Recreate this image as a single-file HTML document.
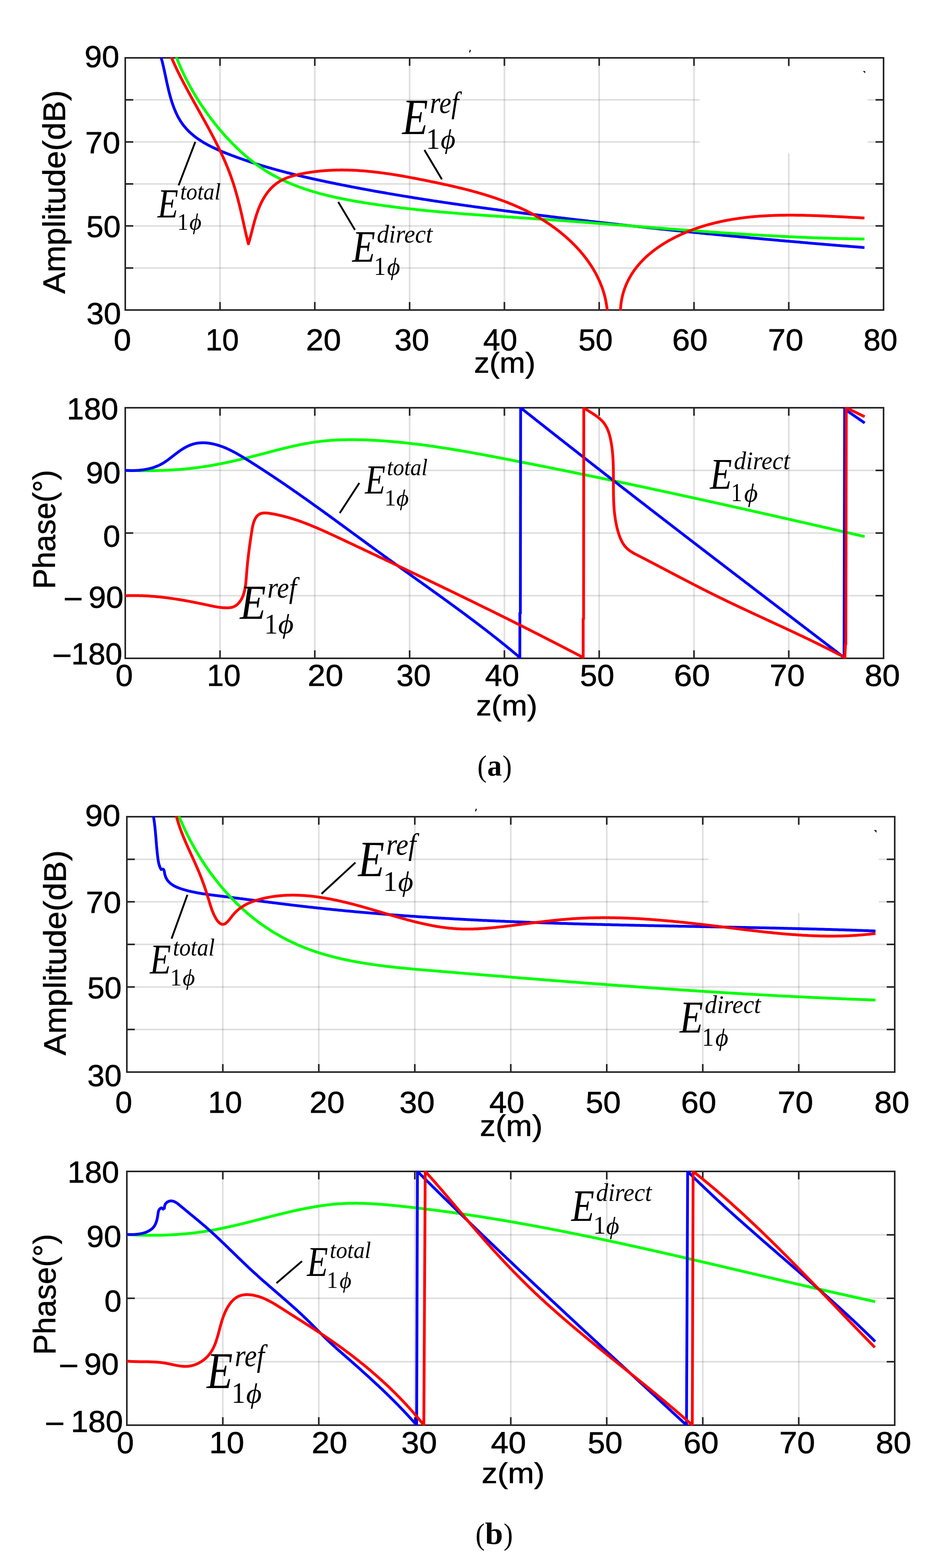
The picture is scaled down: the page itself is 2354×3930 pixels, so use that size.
<!DOCTYPE html>
<html><head><meta charset="utf-8"><title>Figure</title>
<style>html,body{margin:0;padding:0;background:#fff;}svg{display:block;}</style></head>
<body><svg xmlns="http://www.w3.org/2000/svg" width="2354" height="3930" viewBox="0 0 2354 3930">
<defs><clipPath id="c0"><rect x="314" y="144" width="1901" height="634"/></clipPath><clipPath id="c1"><rect x="314" y="1021" width="1901" height="630"/></clipPath><clipPath id="c2"><rect x="318" y="2046" width="1925" height="642"/></clipPath><clipPath id="c3"><rect x="318" y="2935" width="1925" height="638"/></clipPath></defs>
<rect width="2354" height="3930" fill="#fff"/>
<line x1="551.6" y1="145" x2="551.6" y2="777" stroke="#262626" stroke-opacity="0.15" stroke-width="4"/>
<line x1="789.2" y1="145" x2="789.2" y2="777" stroke="#262626" stroke-opacity="0.15" stroke-width="4"/>
<line x1="1026.9" y1="145" x2="1026.9" y2="777" stroke="#262626" stroke-opacity="0.15" stroke-width="4"/>
<line x1="1264.5" y1="145" x2="1264.5" y2="777" stroke="#262626" stroke-opacity="0.15" stroke-width="4"/>
<line x1="1502.1" y1="145" x2="1502.1" y2="777" stroke="#262626" stroke-opacity="0.15" stroke-width="4"/>
<line x1="1739.8" y1="145" x2="1739.8" y2="777" stroke="#262626" stroke-opacity="0.15" stroke-width="4"/>
<line x1="1977.4" y1="145" x2="1977.4" y2="777" stroke="#262626" stroke-opacity="0.15" stroke-width="4"/>
<line x1="314" y1="671.7" x2="2215" y2="671.7" stroke="#262626" stroke-opacity="0.15" stroke-width="4"/>
<line x1="314" y1="566.3" x2="2215" y2="566.3" stroke="#262626" stroke-opacity="0.15" stroke-width="4"/>
<line x1="314" y1="461.0" x2="2215" y2="461.0" stroke="#262626" stroke-opacity="0.15" stroke-width="4"/>
<line x1="314" y1="355.7" x2="2215" y2="355.7" stroke="#262626" stroke-opacity="0.15" stroke-width="4"/>
<line x1="314" y1="250.3" x2="2215" y2="250.3" stroke="#262626" stroke-opacity="0.15" stroke-width="4"/>
<line x1="551.6" y1="1022" x2="551.6" y2="1650" stroke="#262626" stroke-opacity="0.15" stroke-width="4"/>
<line x1="789.2" y1="1022" x2="789.2" y2="1650" stroke="#262626" stroke-opacity="0.15" stroke-width="4"/>
<line x1="1026.9" y1="1022" x2="1026.9" y2="1650" stroke="#262626" stroke-opacity="0.15" stroke-width="4"/>
<line x1="1264.5" y1="1022" x2="1264.5" y2="1650" stroke="#262626" stroke-opacity="0.15" stroke-width="4"/>
<line x1="1502.1" y1="1022" x2="1502.1" y2="1650" stroke="#262626" stroke-opacity="0.15" stroke-width="4"/>
<line x1="1739.8" y1="1022" x2="1739.8" y2="1650" stroke="#262626" stroke-opacity="0.15" stroke-width="4"/>
<line x1="1977.4" y1="1022" x2="1977.4" y2="1650" stroke="#262626" stroke-opacity="0.15" stroke-width="4"/>
<line x1="314" y1="1493.0" x2="2215" y2="1493.0" stroke="#262626" stroke-opacity="0.15" stroke-width="4"/>
<line x1="314" y1="1336.0" x2="2215" y2="1336.0" stroke="#262626" stroke-opacity="0.15" stroke-width="4"/>
<line x1="314" y1="1179.0" x2="2215" y2="1179.0" stroke="#262626" stroke-opacity="0.15" stroke-width="4"/>
<line x1="558.6" y1="2047" x2="558.6" y2="2687" stroke="#262626" stroke-opacity="0.15" stroke-width="4"/>
<line x1="799.2" y1="2047" x2="799.2" y2="2687" stroke="#262626" stroke-opacity="0.15" stroke-width="4"/>
<line x1="1039.9" y1="2047" x2="1039.9" y2="2687" stroke="#262626" stroke-opacity="0.15" stroke-width="4"/>
<line x1="1280.5" y1="2047" x2="1280.5" y2="2687" stroke="#262626" stroke-opacity="0.15" stroke-width="4"/>
<line x1="1521.1" y1="2047" x2="1521.1" y2="2687" stroke="#262626" stroke-opacity="0.15" stroke-width="4"/>
<line x1="1761.8" y1="2047" x2="1761.8" y2="2687" stroke="#262626" stroke-opacity="0.15" stroke-width="4"/>
<line x1="2002.4" y1="2047" x2="2002.4" y2="2687" stroke="#262626" stroke-opacity="0.15" stroke-width="4"/>
<line x1="318" y1="2580.3" x2="2243" y2="2580.3" stroke="#262626" stroke-opacity="0.15" stroke-width="4"/>
<line x1="318" y1="2473.7" x2="2243" y2="2473.7" stroke="#262626" stroke-opacity="0.15" stroke-width="4"/>
<line x1="318" y1="2367.0" x2="2243" y2="2367.0" stroke="#262626" stroke-opacity="0.15" stroke-width="4"/>
<line x1="318" y1="2260.3" x2="2243" y2="2260.3" stroke="#262626" stroke-opacity="0.15" stroke-width="4"/>
<line x1="318" y1="2153.7" x2="2243" y2="2153.7" stroke="#262626" stroke-opacity="0.15" stroke-width="4"/>
<line x1="558.6" y1="2936" x2="558.6" y2="3572" stroke="#262626" stroke-opacity="0.15" stroke-width="4"/>
<line x1="799.2" y1="2936" x2="799.2" y2="3572" stroke="#262626" stroke-opacity="0.15" stroke-width="4"/>
<line x1="1039.9" y1="2936" x2="1039.9" y2="3572" stroke="#262626" stroke-opacity="0.15" stroke-width="4"/>
<line x1="1280.5" y1="2936" x2="1280.5" y2="3572" stroke="#262626" stroke-opacity="0.15" stroke-width="4"/>
<line x1="1521.1" y1="2936" x2="1521.1" y2="3572" stroke="#262626" stroke-opacity="0.15" stroke-width="4"/>
<line x1="1761.8" y1="2936" x2="1761.8" y2="3572" stroke="#262626" stroke-opacity="0.15" stroke-width="4"/>
<line x1="2002.4" y1="2936" x2="2002.4" y2="3572" stroke="#262626" stroke-opacity="0.15" stroke-width="4"/>
<line x1="318" y1="3413.0" x2="2243" y2="3413.0" stroke="#262626" stroke-opacity="0.15" stroke-width="4"/>
<line x1="318" y1="3254.0" x2="2243" y2="3254.0" stroke="#262626" stroke-opacity="0.15" stroke-width="4"/>
<line x1="318" y1="3095.0" x2="2243" y2="3095.0" stroke="#262626" stroke-opacity="0.15" stroke-width="4"/>
<rect x="1754" y="168" width="421" height="216" fill="#fff"/>
<rect x="1776" y="2069" width="427" height="220" fill="#fff"/>
<path d="M1179.2,125 L1177,131.5" stroke="#000" stroke-width="2.6"/>
<path d="M1194.2,2027 L1192,2033.5" stroke="#000" stroke-width="2.6"/>
<path d="M2163,178 L2169,178 L2169,184 Z" fill="#1a1a1a"/>
<path d="M2190.6,2080.4 L2197.4,2080.4 L2197.4,2087.2 Z" fill="#1a1a1a"/>
<text transform="translate(211.93,168.15) scale(1.0267,1)" font-size="76.30" style="font-family:'Liberation Sans', Arial, sans-serif;stroke:#000;stroke-width:0.9px;">90</text>
<text transform="translate(213.45,384.25) scale(1.0362,1)" font-size="76.30" style="font-family:'Liberation Sans', Arial, sans-serif;stroke:#000;stroke-width:0.9px;">70</text>
<text transform="translate(216.51,594.15) scale(1.0123,1)" font-size="76.30" style="font-family:'Liberation Sans', Arial, sans-serif;stroke:#000;stroke-width:0.9px;">50</text>
<text transform="translate(216.63,812.35) scale(1.0230,1)" font-size="76.30" style="font-family:'Liberation Sans', Arial, sans-serif;stroke:#000;stroke-width:0.9px;">30</text>
<text transform="translate(284.94,878.25) scale(1.0281,1)" font-size="76.30" style="font-family:'Liberation Sans', Arial, sans-serif;stroke:#000;stroke-width:0.9px;">0</text>
<text transform="translate(515.27,878.25) scale(0.9859,1)" font-size="76.30" style="font-family:'Liberation Sans', Arial, sans-serif;stroke:#000;stroke-width:0.9px;">10</text>
<text transform="translate(767.02,878.25) scale(1.0378,1)" font-size="76.30" style="font-family:'Liberation Sans', Arial, sans-serif;stroke:#000;stroke-width:0.9px;">20</text>
<text transform="translate(989.02,878.25) scale(1.0255,1)" font-size="76.30" style="font-family:'Liberation Sans', Arial, sans-serif;stroke:#000;stroke-width:0.9px;">30</text>
<text transform="translate(1211.23,878.25) scale(1.0108,1)" font-size="76.30" style="font-family:'Liberation Sans', Arial, sans-serif;stroke:#000;stroke-width:0.9px;">40</text>
<text transform="translate(1449.90,878.25) scale(1.0148,1)" font-size="76.30" style="font-family:'Liberation Sans', Arial, sans-serif;stroke:#000;stroke-width:0.9px;">50</text>
<text transform="translate(1684.93,878.25) scale(1.0511,1)" font-size="76.30" style="font-family:'Liberation Sans', Arial, sans-serif;stroke:#000;stroke-width:0.9px;">60</text>
<text transform="translate(1924.89,878.25) scale(1.0516,1)" font-size="76.30" style="font-family:'Liberation Sans', Arial, sans-serif;stroke:#000;stroke-width:0.9px;">70</text>
<text transform="translate(2164.67,878.25) scale(1.0054,1)" font-size="76.30" style="font-family:'Liberation Sans', Arial, sans-serif;stroke:#000;stroke-width:0.9px;">80</text>
<text transform="translate(167.41,1050.95) scale(1.0134,1)" font-size="76.30" style="font-family:'Liberation Sans', Arial, sans-serif;stroke:#000;stroke-width:0.9px;">180</text>
<text transform="translate(215.13,1210.75) scale(1.0267,1)" font-size="76.30" style="font-family:'Liberation Sans', Arial, sans-serif;stroke:#000;stroke-width:0.9px;">90</text>
<text transform="translate(258.39,1369.55) scale(1.0090,1)" font-size="76.30" style="font-family:'Liberation Sans', Arial, sans-serif;stroke:#000;stroke-width:0.9px;">0</text>
<text transform="translate(221.91,1522.95) scale(1.0330,1)" font-size="76.30" style="font-family:'Liberation Sans', Arial, sans-serif;stroke:#000;stroke-width:0.9px;">90</text>
<text transform="translate(178.75,1664.85) scale(1.0058,1)" font-size="76.30" style="font-family:'Liberation Sans', Arial, sans-serif;stroke:#000;stroke-width:0.9px;">180</text>
<text transform="translate(158.65,1526.87) scale(1.1033,1)" font-size="76.30" style="font-family:'Liberation Sans', Arial, sans-serif;stroke:#000;stroke-width:0.9px;">−</text>
<text transform="translate(130.41,1669.37) scale(1.1141,1)" font-size="76.30" style="font-family:'Liberation Sans', Arial, sans-serif;stroke:#000;stroke-width:0.9px;">−</text>
<text transform="translate(289.65,1719.25) scale(1.0227,1)" font-size="76.30" style="font-family:'Liberation Sans', Arial, sans-serif;stroke:#000;stroke-width:0.9px;">0</text>
<text transform="translate(518.71,1719.25) scale(0.9964,1)" font-size="76.30" style="font-family:'Liberation Sans', Arial, sans-serif;stroke:#000;stroke-width:0.9px;">10</text>
<text transform="translate(771.37,1719.25) scale(1.0493,1)" font-size="76.30" style="font-family:'Liberation Sans', Arial, sans-serif;stroke:#000;stroke-width:0.9px;">20</text>
<text transform="translate(993.75,1719.25) scale(1.0167,1)" font-size="76.30" style="font-family:'Liberation Sans', Arial, sans-serif;stroke:#000;stroke-width:0.9px;">30</text>
<text transform="translate(1215.93,1719.25) scale(1.0095,1)" font-size="76.30" style="font-family:'Liberation Sans', Arial, sans-serif;stroke:#000;stroke-width:0.9px;">40</text>
<text transform="translate(1453.90,1719.25) scale(1.0148,1)" font-size="76.30" style="font-family:'Liberation Sans', Arial, sans-serif;stroke:#000;stroke-width:0.9px;">50</text>
<text transform="translate(1689.56,1719.25) scale(1.0678,1)" font-size="76.30" style="font-family:'Liberation Sans', Arial, sans-serif;stroke:#000;stroke-width:0.9px;">60</text>
<text transform="translate(1929.54,1719.25) scale(1.0375,1)" font-size="76.30" style="font-family:'Liberation Sans', Arial, sans-serif;stroke:#000;stroke-width:0.9px;">70</text>
<text transform="translate(2167.75,1719.25) scale(1.0411,1)" font-size="76.30" style="font-family:'Liberation Sans', Arial, sans-serif;stroke:#000;stroke-width:0.9px;">80</text>
<text transform="translate(213.26,2070.05) scale(1.0445,1)" font-size="76.30" style="font-family:'Liberation Sans', Arial, sans-serif;stroke:#000;stroke-width:0.9px;">90</text>
<text transform="translate(215.22,2287.95) scale(1.0426,1)" font-size="76.30" style="font-family:'Liberation Sans', Arial, sans-serif;stroke:#000;stroke-width:0.9px;">70</text>
<text transform="translate(219.11,2501.65) scale(1.0123,1)" font-size="76.30" style="font-family:'Liberation Sans', Arial, sans-serif;stroke:#000;stroke-width:0.9px;">50</text>
<text transform="translate(218.95,2721.85) scale(1.0141,1)" font-size="76.30" style="font-family:'Liberation Sans', Arial, sans-serif;stroke:#000;stroke-width:0.9px;">30</text>
<text transform="translate(289.03,2789.05) scale(0.9980,1)" font-size="76.30" style="font-family:'Liberation Sans', Arial, sans-serif;stroke:#000;stroke-width:0.9px;">0</text>
<text transform="translate(521.44,2789.05) scale(1.0082,1)" font-size="76.30" style="font-family:'Liberation Sans', Arial, sans-serif;stroke:#000;stroke-width:0.9px;">10</text>
<text transform="translate(776.02,2789.05) scale(1.0378,1)" font-size="76.30" style="font-family:'Liberation Sans', Arial, sans-serif;stroke:#000;stroke-width:0.9px;">20</text>
<text transform="translate(1001.27,2789.05) scale(1.0433,1)" font-size="76.30" style="font-family:'Liberation Sans', Arial, sans-serif;stroke:#000;stroke-width:0.9px;">30</text>
<text transform="translate(1226.38,2789.05) scale(1.0382,1)" font-size="76.30" style="font-family:'Liberation Sans', Arial, sans-serif;stroke:#000;stroke-width:0.9px;">40</text>
<text transform="translate(1468.13,2789.05) scale(1.0389,1)" font-size="76.30" style="font-family:'Liberation Sans', Arial, sans-serif;stroke:#000;stroke-width:0.9px;">50</text>
<text transform="translate(1707.27,2789.05) scale(1.0396,1)" font-size="76.30" style="font-family:'Liberation Sans', Arial, sans-serif;stroke:#000;stroke-width:0.9px;">60</text>
<text transform="translate(1949.49,2789.05) scale(1.0503,1)" font-size="76.30" style="font-family:'Liberation Sans', Arial, sans-serif;stroke:#000;stroke-width:0.9px;">70</text>
<text transform="translate(2192.07,2789.05) scale(1.0334,1)" font-size="76.30" style="font-family:'Liberation Sans', Arial, sans-serif;stroke:#000;stroke-width:0.9px;">80</text>
<text transform="translate(169.18,2963.75) scale(1.0185,1)" font-size="76.30" style="font-family:'Liberation Sans', Arial, sans-serif;stroke:#000;stroke-width:0.9px;">180</text>
<text transform="translate(216.71,3125.05) scale(1.0305,1)" font-size="76.30" style="font-family:'Liberation Sans', Arial, sans-serif;stroke:#000;stroke-width:0.9px;">90</text>
<text transform="translate(261.69,3287.25) scale(1.0090,1)" font-size="76.30" style="font-family:'Liberation Sans', Arial, sans-serif;stroke:#000;stroke-width:0.9px;">0</text>
<text transform="translate(211.04,3444.55) scale(1.0241,1)" font-size="76.30" style="font-family:'Liberation Sans', Arial, sans-serif;stroke:#000;stroke-width:0.9px;">90</text>
<text transform="translate(177.63,3588.85) scale(1.0269,1)" font-size="76.30" style="font-family:'Liberation Sans', Arial, sans-serif;stroke:#000;stroke-width:0.9px;">180</text>
<text transform="translate(146.74,3448.57) scale(1.1330,1)" font-size="76.30" style="font-family:'Liberation Sans', Arial, sans-serif;stroke:#000;stroke-width:0.9px;">−</text>
<text transform="translate(111.73,3593.57) scale(1.1357,1)" font-size="76.30" style="font-family:'Liberation Sans', Arial, sans-serif;stroke:#000;stroke-width:0.9px;">−</text>
<text transform="translate(292.79,3641.55) scale(1.0090,1)" font-size="76.30" style="font-family:'Liberation Sans', Arial, sans-serif;stroke:#000;stroke-width:0.9px;">0</text>
<text transform="translate(524.38,3641.55) scale(1.0358,1)" font-size="76.30" style="font-family:'Liberation Sans', Arial, sans-serif;stroke:#000;stroke-width:0.9px;">10</text>
<text transform="translate(781.25,3641.55) scale(1.0544,1)" font-size="76.30" style="font-family:'Liberation Sans', Arial, sans-serif;stroke:#000;stroke-width:0.9px;">20</text>
<text transform="translate(1006.04,3641.55) scale(1.0547,1)" font-size="76.30" style="font-family:'Liberation Sans', Arial, sans-serif;stroke:#000;stroke-width:0.9px;">30</text>
<text transform="translate(1230.78,3641.55) scale(1.0382,1)" font-size="76.30" style="font-family:'Liberation Sans', Arial, sans-serif;stroke:#000;stroke-width:0.9px;">40</text>
<text transform="translate(1473.36,3641.55) scale(1.0288,1)" font-size="76.30" style="font-family:'Liberation Sans', Arial, sans-serif;stroke:#000;stroke-width:0.9px;">50</text>
<text transform="translate(1713.48,3641.55) scale(1.0383,1)" font-size="76.30" style="font-family:'Liberation Sans', Arial, sans-serif;stroke:#000;stroke-width:0.9px;">60</text>
<text transform="translate(1953.67,3641.55) scale(1.0554,1)" font-size="76.30" style="font-family:'Liberation Sans', Arial, sans-serif;stroke:#000;stroke-width:0.9px;">70</text>
<text transform="translate(2195.53,3641.55) scale(1.0474,1)" font-size="76.30" style="font-family:'Liberation Sans', Arial, sans-serif;stroke:#000;stroke-width:0.9px;">80</text>
<text transform="translate(1188.48,934.11) scale(1.0705,1)" font-size="71.92" style="font-family:'Liberation Sans', Arial, sans-serif;stroke:#000;stroke-width:0.9px;">z(m)</text>
<text transform="translate(1193.69,1793.42) scale(1.0612,1)" font-size="72.35" style="font-family:'Liberation Sans', Arial, sans-serif;stroke:#000;stroke-width:0.9px;">z(m)</text>
<text transform="translate(1203.12,2846.64) scale(1.0586,1)" font-size="74.17" style="font-family:'Liberation Sans', Arial, sans-serif;stroke:#000;stroke-width:0.9px;">z(m)</text>
<text transform="translate(1207.50,3716.61) scale(1.0838,1)" font-size="72.88" style="font-family:'Liberation Sans', Arial, sans-serif;stroke:#000;stroke-width:0.9px;">z(m)</text>
<text transform="translate(163.00,736.16) rotate(-90) scale(1.0389,1)" font-size="77.50" style="font-family:'Liberation Sans', Arial, sans-serif;stroke:#000;stroke-width:0.9px;">Amplitude(dB)</text>
<text transform="translate(138.20,1476.28) rotate(-90) scale(0.9941,1)" font-size="77.00" style="font-family:'Liberation Sans', Arial, sans-serif;stroke:#000;stroke-width:0.9px;">Phase(°)</text>
<text transform="translate(165.00,2645.16) rotate(-90) scale(1.0472,1)" font-size="77.50" style="font-family:'Liberation Sans', Arial, sans-serif;stroke:#000;stroke-width:0.9px;">Amplitude(dB)</text>
<text transform="translate(139.20,3395.98) rotate(-90) scale(1.0096,1)" font-size="77.00" style="font-family:'Liberation Sans', Arial, sans-serif;stroke:#000;stroke-width:0.9px;">Phase(°)</text>
<path d="M551.6,145 V165 M551.6,777 V757 M789.2,145 V165 M789.2,777 V757 M1026.9,145 V165 M1026.9,777 V757 M1264.5,145 V165 M1264.5,777 V757 M1502.1,145 V165 M1502.1,777 V757 M1739.8,145 V165 M1739.8,777 V757 M1977.4,145 V165 M1977.4,777 V757 M314,671.7 H334 M2215,671.7 H2195 M314,566.3 H334 M2215,566.3 H2195 M314,461.0 H334 M2215,461.0 H2195 M314,355.7 H334 M2215,355.7 H2195 M314,250.3 H334 M2215,250.3 H2195" stroke="#262626" stroke-width="4" fill="none"/>
<rect x="314" y="145" width="1901" height="632" fill="none" stroke="#262626" stroke-width="4"/>
<path d="M551.6,1022 V1042 M551.6,1650 V1630 M789.2,1022 V1042 M789.2,1650 V1630 M1026.9,1022 V1042 M1026.9,1650 V1630 M1264.5,1022 V1042 M1264.5,1650 V1630 M1502.1,1022 V1042 M1502.1,1650 V1630 M1739.8,1022 V1042 M1739.8,1650 V1630 M1977.4,1022 V1042 M1977.4,1650 V1630 M314,1493.0 H334 M2215,1493.0 H2195 M314,1336.0 H334 M2215,1336.0 H2195 M314,1179.0 H334 M2215,1179.0 H2195" stroke="#262626" stroke-width="4" fill="none"/>
<rect x="314" y="1022" width="1901" height="628" fill="none" stroke="#262626" stroke-width="4"/>
<path d="M558.6,2047 V2067 M558.6,2687 V2667 M799.2,2047 V2067 M799.2,2687 V2667 M1039.9,2047 V2067 M1039.9,2687 V2667 M1280.5,2047 V2067 M1280.5,2687 V2667 M1521.1,2047 V2067 M1521.1,2687 V2667 M1761.8,2047 V2067 M1761.8,2687 V2667 M2002.4,2047 V2067 M2002.4,2687 V2667 M318,2580.3 H338 M2243,2580.3 H2223 M318,2473.7 H338 M2243,2473.7 H2223 M318,2367.0 H338 M2243,2367.0 H2223 M318,2260.3 H338 M2243,2260.3 H2223 M318,2153.7 H338 M2243,2153.7 H2223" stroke="#262626" stroke-width="4" fill="none"/>
<rect x="318" y="2047" width="1925" height="640" fill="none" stroke="#262626" stroke-width="4"/>
<path d="M558.6,2936 V2956 M558.6,3572 V3552 M799.2,2936 V2956 M799.2,3572 V3552 M1039.9,2936 V2956 M1039.9,3572 V3552 M1280.5,2936 V2956 M1280.5,3572 V3552 M1521.1,2936 V2956 M1521.1,3572 V3552 M1761.8,2936 V2956 M1761.8,3572 V3552 M2002.4,2936 V2956 M2002.4,3572 V3552 M318,3413.0 H338 M2243,3413.0 H2223 M318,3254.0 H338 M2243,3254.0 H2223 M318,3095.0 H338 M2243,3095.0 H2223" stroke="#262626" stroke-width="4" fill="none"/>
<rect x="318" y="2936" width="1925" height="636" fill="none" stroke="#262626" stroke-width="4"/>
<path d="M402.6,140.0 L403.4,142.6 L404.2,145.3 L404.9,147.9 L405.6,150.6 L406.4,153.4 L407.1,156.1 L407.8,158.9 L408.4,161.7 L409.1,164.6 L409.8,167.4 L410.4,170.3 L411.1,173.2 L411.7,176.1 L412.4,179.1 L413.0,182.0 L413.6,185.0 L414.3,188.0 L414.9,191.0 L415.6,194.0 L416.2,197.1 L416.9,200.1 L417.5,203.1 L418.2,206.2 L418.8,209.3 L419.5,212.3 L420.2,215.4 L420.9,218.5 L421.7,221.5 L422.4,224.6 L423.1,227.7 L423.9,230.8 L424.7,233.8 L425.5,236.9 L426.3,240.0 L427.2,243.0 L428.0,246.1 L428.9,249.1 L429.9,252.1 L430.8,255.1 L431.8,258.1 L432.8,261.1 L433.8,264.0 L434.9,267.0 L436.0,269.9 L437.1,272.8 L438.3,275.7 L439.5,278.5 L440.7,281.3 L442.0,284.1 L443.3,286.9 L444.6,289.6 L446.0,292.3 L447.4,294.9 L448.9,297.5 L450.4,300.1 L451.9,302.6 L453.5,305.1 L455.2,307.5 L456.8,309.9 L458.6,312.3 L460.3,314.6 L462.1,316.8 L464.0,319.1 L465.9,321.2 L467.8,323.4 L469.8,325.5 L471.8,327.5 L473.8,329.6 L475.9,331.6 L478.0,333.5 L480.2,335.4 L482.4,337.3 L484.6,339.1 L486.8,341.0 L489.1,342.7 L491.4,344.5 L493.7,346.2 L496.1,347.9 L498.5,349.5 L500.9,351.2 L503.4,352.8 L505.8,354.3 L508.3,355.9 L510.8,357.4 L513.4,358.9 L515.9,360.3 L518.5,361.8 L521.1,363.2 L523.8,364.6 L526.4,365.9 L529.1,367.3 L531.7,368.6 L534.4,369.9 L537.1,371.2 L539.9,372.5 L542.6,373.7 L545.3,375.0 L548.1,376.2 L550.9,377.4 L553.6,378.6 L556.4,379.7 L559.2,380.9 L562.0,382.0 L564.8,383.2 L567.7,384.3 L570.5,385.4 L573.3,386.5 L576.1,387.6 L579.0,388.7 L581.8,389.7 L584.7,390.8 L587.5,391.8 L590.3,392.9 L593.2,393.9 L596.0,395.0 L598.9,396.0 L601.7,397.0 L604.6,398.0 L607.4,399.0 L610.3,400.0 L613.1,401.0 L616.0,402.0 L618.8,402.9 L621.7,403.9 L624.6,404.9 L627.4,405.8 L630.3,406.8 L633.2,407.7 L636.0,408.6 L638.9,409.5 L641.8,410.5 L644.7,411.4 L647.5,412.3 L650.4,413.2 L653.3,414.0 L656.2,414.9 L659.1,415.8 L661.9,416.7 L664.8,417.5 L667.7,418.4 L670.6,419.2 L673.5,420.1 L676.4,420.9 L679.3,421.7 L682.2,422.6 L685.1,423.4 L688.0,424.2 L690.9,425.0 L693.8,425.8 L696.7,426.6 L699.6,427.4 L702.5,428.2 L705.4,428.9 L708.3,429.7 L711.2,430.5 L714.1,431.2 L717.0,432.0 L719.9,432.8 L722.8,433.5 L725.8,434.2 L728.7,435.0 L731.6,435.7 L734.5,436.4 L737.4,437.2 L740.3,437.9 L743.3,438.6 L746.2,439.3 L749.1,440.0 L752.0,440.7 L755.0,441.4 L757.9,442.1 L760.8,442.8 L763.7,443.5 L766.7,444.2 L769.6,444.8 L772.5,445.5 L775.5,446.2 L778.4,446.8 L781.3,447.5 L784.3,448.2 L787.2,448.8 L790.1,449.5 L793.1,450.1 L796.0,450.7 L798.9,451.4 L801.9,452.0 L804.8,452.7 L807.7,453.3 L810.7,453.9 L813.6,454.5 L816.6,455.2 L819.5,455.8 L822.4,456.4 L825.4,457.0 L828.3,457.6 L831.3,458.2 L834.2,458.8 L837.2,459.4 L840.1,460.0 L843.1,460.6 L846.0,461.2 L848.9,461.8 L851.9,462.4 L854.8,463.0 L857.8,463.6 L860.7,464.1 L863.7,464.7 L866.6,465.3 L869.6,465.9 L872.5,466.5 L875.5,467.0 L878.4,467.6 L881.4,468.2 L884.3,468.7 L887.3,469.3 L890.2,469.9 L893.2,470.4 L896.1,471.0 L899.1,471.5 L902.0,472.1 L905.0,472.7 L907.9,473.2 L910.9,473.8 L913.8,474.3 L916.8,474.9 L919.8,475.4 L922.7,475.9 L925.7,476.5 L928.6,477.0 L931.6,477.6 L934.5,478.1 L937.5,478.6 L940.4,479.2 L943.4,479.7 L946.4,480.2 L949.3,480.7 L952.3,481.3 L955.2,481.8 L958.2,482.3 L961.2,482.8 L964.1,483.3 L967.1,483.8 L970.0,484.4 L973.0,484.9 L976.0,485.4 L978.9,485.9 L981.9,486.4 L984.8,486.9 L987.8,487.4 L990.8,487.9 L993.7,488.4 L996.7,488.9 L999.7,489.4 L1002.6,489.9 L1005.6,490.4 L1008.5,490.9 L1011.5,491.4 L1014.5,491.9 L1017.4,492.3 L1020.4,492.8 L1023.4,493.3 L1026.3,493.8 L1029.3,494.3 L1032.3,494.7 L1035.2,495.2 L1038.2,495.7 L1041.2,496.2 L1044.1,496.6 L1047.1,497.1 L1050.1,497.6 L1053.0,498.1 L1056.0,498.5 L1059.0,499.0 L1061.9,499.5 L1064.9,499.9 L1067.9,500.4 L1070.8,500.8 L1073.8,501.3 L1076.8,501.7 L1079.7,502.2 L1082.7,502.7 L1085.7,503.1 L1088.7,503.6 L1091.6,504.0 L1094.6,504.5 L1097.6,504.9 L1100.5,505.4 L1103.5,505.8 L1106.5,506.2 L1109.5,506.7 L1112.4,507.1 L1115.4,507.6 L1118.4,508.0 L1121.3,508.4 L1124.3,508.9 L1127.3,509.3 L1130.3,509.7 L1133.2,510.2 L1136.2,510.6 L1139.2,511.0 L1142.2,511.5 L1145.1,511.9 L1148.1,512.3 L1151.1,512.8 L1154.1,513.2 L1157.0,513.6 L1160.0,514.0 L1163.0,514.4 L1166.0,514.9 L1168.9,515.3 L1171.9,515.7 L1174.9,516.1 L1177.9,516.5 L1180.8,516.9 L1183.8,517.4 L1186.8,517.8 L1189.8,518.2 L1192.7,518.6 L1195.7,519.0 L1198.7,519.4 L1201.7,519.8 L1204.7,520.2 L1207.6,520.6 L1210.6,521.0 L1213.6,521.4 L1216.6,521.8 L1219.5,522.2 L1222.5,522.6 L1225.5,523.0 L1228.5,523.4 L1231.5,523.8 L1234.4,524.2 L1237.4,524.6 L1240.4,525.0 L1243.4,525.4 L1246.4,525.8 L1249.3,526.2 L1252.3,526.6 L1255.3,527.0 L1258.3,527.4 L1261.3,527.8 L1264.2,528.2 L1267.2,528.6 L1270.2,529.0 L1273.2,529.3 L1276.2,529.7 L1279.1,530.1 L1282.1,530.5 L1285.1,530.9 L1288.1,531.3 L1291.1,531.7 L1294.0,532.0 L1297.0,532.4 L1300.0,532.8 L1303.0,533.2 L1306.0,533.6 L1308.9,533.9 L1311.9,534.3 L1314.9,534.7 L1317.9,535.1 L1320.9,535.4 L1323.9,535.8 L1326.8,536.2 L1329.8,536.6 L1332.8,536.9 L1335.8,537.3 L1338.8,537.7 L1341.7,538.1 L1344.7,538.4 L1347.7,538.8 L1350.7,539.2 L1353.7,539.5 L1356.7,539.9 L1359.6,540.3 L1362.6,540.7 L1365.6,541.0 L1368.6,541.4 L1371.6,541.8 L1374.6,542.1 L1377.5,542.5 L1380.5,542.9 L1383.5,543.2 L1386.5,543.6 L1389.5,543.9 L1392.5,544.3 L1395.4,544.7 L1398.4,545.0 L1401.4,545.4 L1404.4,545.7 L1407.4,546.1 L1410.4,546.5 L1413.4,546.8 L1416.3,547.2 L1419.3,547.5 L1422.3,547.9 L1425.3,548.2 L1428.3,548.6 L1431.3,549.0 L1434.2,549.3 L1437.2,549.7 L1440.2,550.0 L1443.2,550.4 L1446.2,550.7 L1449.2,551.1 L1452.2,551.4 L1455.1,551.8 L1458.1,552.1 L1461.1,552.5 L1464.1,552.8 L1467.1,553.2 L1470.1,553.5 L1473.1,553.8 L1476.0,554.2 L1479.0,554.5 L1482.0,554.9 L1485.0,555.2 L1488.0,555.6 L1491.0,555.9 L1494.0,556.2 L1496.9,556.6 L1499.9,556.9 L1502.9,557.3 L1505.9,557.6 L1508.9,557.9 L1511.9,558.3 L1514.9,558.6 L1517.8,559.0 L1520.8,559.3 L1523.8,559.6 L1526.8,560.0 L1529.8,560.3 L1532.8,560.6 L1535.8,561.0 L1538.8,561.3 L1541.7,561.6 L1544.7,562.0 L1547.7,562.3 L1550.7,562.6 L1553.7,563.0 L1556.7,563.3 L1559.7,563.6 L1562.7,564.0 L1565.6,564.3 L1568.6,564.6 L1571.6,564.9 L1574.6,565.3 L1577.6,565.6 L1580.6,565.9 L1583.6,566.2 L1586.6,566.6 L1589.5,566.9 L1592.5,567.2 L1595.5,567.5 L1598.5,567.9 L1601.5,568.2 L1604.5,568.5 L1607.5,568.8 L1610.5,569.1 L1613.5,569.5 L1616.4,569.8 L1619.4,570.1 L1622.4,570.4 L1625.4,570.7 L1628.4,571.0 L1631.4,571.4 L1634.4,571.7 L1637.4,572.0 L1640.4,572.3 L1643.3,572.6 L1646.3,572.9 L1649.3,573.3 L1652.3,573.6 L1655.3,573.9 L1658.3,574.2 L1661.3,574.5 L1664.3,574.8 L1667.3,575.1 L1670.2,575.4 L1673.2,575.7 L1676.2,576.0 L1679.2,576.4 L1682.2,576.7 L1685.2,577.0 L1688.2,577.3 L1691.2,577.6 L1694.2,577.9 L1697.2,578.2 L1700.2,578.5 L1703.1,578.8 L1706.1,579.1 L1709.1,579.4 L1712.1,579.7 L1715.1,580.0 L1718.1,580.3 L1721.1,580.6 L1724.1,580.9 L1727.1,581.2 L1730.1,581.5 L1733.0,581.8 L1736.0,582.1 L1739.0,582.4 L1742.0,582.7 L1745.0,583.0 L1748.0,583.3 L1751.0,583.6 L1754.0,583.9 L1757.0,584.2 L1760.0,584.5 L1763.0,584.8 L1765.9,585.1 L1768.9,585.4 L1771.9,585.7 L1774.9,586.0 L1777.9,586.2 L1780.9,586.5 L1783.9,586.8 L1786.9,587.1 L1789.9,587.4 L1792.9,587.7 L1795.9,588.0 L1798.9,588.3 L1801.8,588.6 L1804.8,588.8 L1807.8,589.1 L1810.8,589.4 L1813.8,589.7 L1816.8,590.0 L1819.8,590.3 L1822.8,590.6 L1825.8,590.8 L1828.8,591.1 L1831.8,591.4 L1834.8,591.7 L1837.8,592.0 L1840.7,592.3 L1843.7,592.5 L1846.7,592.8 L1849.7,593.1 L1852.7,593.4 L1855.7,593.7 L1858.7,593.9 L1861.7,594.2 L1864.7,594.5 L1867.7,594.8 L1870.7,595.1 L1873.7,595.3 L1876.7,595.6 L1879.7,595.9 L1882.6,596.2 L1885.6,596.4 L1888.6,596.7 L1891.6,597.0 L1894.6,597.3 L1897.6,597.5 L1900.6,597.8 L1903.6,598.1 L1906.6,598.4 L1909.6,598.6 L1912.6,598.9 L1915.6,599.2 L1918.6,599.4 L1921.6,599.7 L1924.5,600.0 L1927.5,600.2 L1930.5,600.5 L1933.5,600.8 L1936.5,601.1 L1939.5,601.3 L1942.5,601.6 L1945.5,601.9 L1948.5,602.1 L1951.5,602.4 L1954.5,602.7 L1957.5,602.9 L1960.5,603.2 L1963.5,603.4 L1966.5,603.7 L1969.5,604.0 L1972.4,604.2 L1975.4,604.5 L1978.4,604.8 L1981.4,605.0 L1984.4,605.3 L1987.4,605.5 L1990.4,605.8 L1993.4,606.1 L1996.4,606.3 L1999.4,606.6 L2002.4,606.8 L2005.4,607.1 L2008.4,607.4 L2011.4,607.6 L2014.4,607.9 L2017.4,608.1 L2020.4,608.4 L2023.3,608.6 L2026.3,608.9 L2029.3,609.2 L2032.3,609.4 L2035.3,609.7 L2038.3,609.9 L2041.3,610.2 L2044.3,610.4 L2047.3,610.7 L2050.3,610.9 L2053.3,611.2 L2056.3,611.4 L2059.3,611.7 L2062.3,611.9 L2065.3,612.2 L2068.3,612.4 L2071.3,612.7 L2074.3,612.9 L2077.3,613.2 L2080.2,613.4 L2083.2,613.7 L2086.2,613.9 L2089.2,614.2 L2092.2,614.4 L2095.2,614.7 L2098.2,614.9 L2101.2,615.2 L2104.2,615.4 L2107.2,615.7 L2110.2,615.9 L2113.2,616.2 L2116.2,616.4 L2119.2,616.6 L2122.2,616.9 L2125.2,617.1 L2128.2,617.4 L2131.2,617.6 L2134.2,617.9 L2137.1,618.1 L2140.1,618.3 L2143.1,618.6 L2146.1,618.8 L2149.1,619.1 L2152.1,619.3 L2155.1,619.5 L2158.1,619.8 L2161.1,620.0 L2164.1,620.3 L2167.1,620.5" fill="none" stroke="#0000ff" stroke-width="7" stroke-linejoin="round" stroke-linecap="butt" clip-path="url(#c0)"/>
<path d="M440.9,140.0 L442.0,142.8 L443.0,145.5 L444.1,148.3 L445.2,151.1 L446.4,153.8 L447.5,156.6 L448.7,159.3 L449.8,162.0 L451.0,164.8 L452.2,167.5 L453.4,170.2 L454.6,172.9 L455.8,175.6 L457.1,178.3 L458.3,181.0 L459.6,183.7 L460.9,186.4 L462.2,189.1 L463.5,191.8 L464.8,194.5 L466.2,197.1 L467.5,199.8 L468.9,202.4 L470.3,205.1 L471.7,207.7 L473.1,210.4 L474.5,213.0 L475.9,215.6 L477.3,218.2 L478.8,220.9 L480.3,223.5 L481.8,226.1 L483.2,228.7 L484.8,231.2 L486.3,233.8 L487.8,236.4 L489.3,239.0 L490.9,241.5 L492.5,244.1 L494.1,246.7 L495.6,249.2 L497.3,251.7 L498.9,254.3 L500.5,256.8 L502.2,259.3 L503.8,261.8 L505.5,264.4 L507.2,266.9 L508.8,269.4 L510.6,271.8 L512.3,274.3 L514.0,276.8 L515.7,279.3 L517.5,281.7 L519.3,284.2 L521.0,286.6 L522.8,289.1 L524.6,291.5 L526.4,293.9 L528.3,296.4 L530.1,298.8 L531.9,301.2 L533.8,303.6 L535.7,306.0 L537.6,308.4 L539.5,310.8 L541.4,313.1 L543.3,315.5 L545.2,317.9 L547.1,320.2 L549.1,322.6 L551.1,324.9 L553.0,327.2 L555.0,329.5 L557.0,331.9 L559.0,334.2 L561.0,336.5 L563.1,338.7 L565.1,341.0 L567.2,343.3 L569.2,345.5 L571.3,347.8 L573.4,350.0 L575.5,352.2 L577.6,354.5 L579.7,356.7 L581.8,358.8 L584.0,361.0 L586.1,363.2 L588.3,365.3 L590.5,367.5 L592.7,369.6 L594.9,371.7 L597.1,373.8 L599.3,375.9 L601.5,378.0 L603.7,380.1 L606.0,382.1 L608.3,384.1 L610.5,386.1 L612.8,388.1 L615.1,390.1 L617.4,392.1 L619.7,394.0 L622.0,396.0 L624.4,397.9 L626.7,399.8 L629.1,401.7 L631.5,403.6 L633.8,405.4 L636.2,407.2 L638.6,409.1 L641.0,410.9 L643.5,412.6 L645.9,414.4 L648.3,416.1 L650.8,417.9 L653.2,419.6 L655.7,421.2 L658.2,422.9 L660.7,424.5 L663.2,426.2 L665.7,427.8 L668.2,429.3 L670.8,430.9 L673.3,432.4 L675.9,433.9 L678.4,435.4 L681.0,436.9 L683.6,438.4 L686.2,439.8 L688.8,441.2 L691.4,442.6 L694.0,444.0 L696.7,445.4 L699.3,446.7 L701.9,448.0 L704.6,449.3 L707.3,450.6 L709.9,451.9 L712.6,453.2 L715.3,454.4 L718.0,455.6 L720.7,456.8 L723.4,458.0 L726.1,459.2 L728.9,460.3 L731.6,461.5 L734.4,462.6 L737.1,463.7 L739.9,464.8 L742.6,465.8 L745.4,466.9 L748.2,467.9 L751.0,469.0 L753.8,470.0 L756.6,471.0 L759.4,472.0 L762.2,472.9 L765.0,473.9 L767.8,474.8 L770.6,475.7 L773.5,476.7 L776.3,477.6 L779.2,478.4 L782.0,479.3 L784.9,480.2 L787.7,481.0 L790.6,481.9 L793.5,482.7 L796.4,483.5 L799.2,484.3 L802.1,485.1 L805.0,485.9 L807.9,486.6 L810.8,487.4 L813.7,488.1 L816.6,488.8 L819.5,489.6 L822.5,490.3 L825.4,491.0 L828.3,491.7 L831.2,492.4 L834.2,493.0 L837.1,493.7 L840.0,494.3 L843.0,495.0 L845.9,495.6 L848.9,496.2 L851.8,496.9 L854.8,497.5 L857.7,498.1 L860.7,498.7 L863.6,499.2 L866.6,499.8 L869.6,500.4 L872.5,501.0 L875.5,501.5 L878.5,502.1 L881.4,502.6 L884.4,503.1 L887.4,503.7 L890.4,504.2 L893.3,504.7 L896.3,505.2 L899.3,505.7 L902.3,506.2 L905.3,506.7 L908.2,507.2 L911.2,507.7 L914.2,508.2 L917.2,508.6 L920.2,509.1 L923.1,509.6 L926.1,510.0 L929.1,510.5 L932.1,511.0 L935.1,511.4 L938.1,511.8 L941.0,512.3 L944.0,512.7 L947.0,513.2 L950.0,513.6 L953.0,514.0 L956.0,514.4 L959.0,514.9 L961.9,515.3 L964.9,515.7 L967.9,516.1 L970.9,516.5 L973.9,516.9 L976.9,517.3 L979.9,517.7 L982.8,518.1 L985.8,518.4 L988.8,518.8 L991.8,519.2 L994.8,519.6 L997.8,519.9 L1000.8,520.3 L1003.8,520.7 L1006.7,521.0 L1009.7,521.4 L1012.7,521.7 L1015.7,522.1 L1018.7,522.4 L1021.7,522.8 L1024.7,523.1 L1027.7,523.5 L1030.7,523.8 L1033.6,524.1 L1036.6,524.4 L1039.6,524.8 L1042.6,525.1 L1045.6,525.4 L1048.6,525.7 L1051.6,526.0 L1054.6,526.4 L1057.6,526.7 L1060.6,527.0 L1063.5,527.3 L1066.5,527.6 L1069.5,527.9 L1072.5,528.2 L1075.5,528.4 L1078.5,528.7 L1081.5,529.0 L1084.5,529.3 L1087.5,529.6 L1090.5,529.9 L1093.5,530.1 L1096.5,530.4 L1099.5,530.7 L1102.4,531.0 L1105.4,531.2 L1108.4,531.5 L1111.4,531.8 L1114.4,532.0 L1117.4,532.3 L1120.4,532.5 L1123.4,532.8 L1126.4,533.0 L1129.4,533.3 L1132.4,533.5 L1135.4,533.8 L1138.4,534.0 L1141.4,534.3 L1144.4,534.5 L1147.4,534.8 L1150.4,535.0 L1153.3,535.2 L1156.3,535.5 L1159.3,535.7 L1162.3,535.9 L1165.3,536.2 L1168.3,536.4 L1171.3,536.6 L1174.3,536.9 L1177.3,537.1 L1180.3,537.3 L1183.3,537.5 L1186.3,537.7 L1189.3,538.0 L1192.3,538.2 L1195.3,538.4 L1198.3,538.6 L1201.3,538.8 L1204.3,539.0 L1207.3,539.3 L1210.3,539.5 L1213.3,539.7 L1216.3,539.9 L1219.3,540.1 L1222.3,540.3 L1225.3,540.5 L1228.3,540.7 L1231.2,540.9 L1234.2,541.1 L1237.2,541.3 L1240.2,541.5 L1243.2,541.7 L1246.2,541.9 L1249.2,542.1 L1252.2,542.3 L1255.2,542.5 L1258.2,542.7 L1261.2,542.9 L1264.2,543.1 L1267.2,543.3 L1270.2,543.5 L1273.2,543.7 L1276.2,543.9 L1279.2,544.1 L1282.2,544.3 L1285.2,544.5 L1288.2,544.7 L1291.2,544.9 L1294.2,545.1 L1297.2,545.3 L1300.2,545.5 L1303.2,545.7 L1306.2,545.9 L1309.2,546.1 L1312.2,546.3 L1315.2,546.5 L1318.2,546.7 L1321.2,546.9 L1324.2,547.1 L1327.2,547.3 L1330.2,547.5 L1333.2,547.7 L1336.2,547.9 L1339.2,548.1 L1342.2,548.3 L1345.2,548.5 L1348.2,548.7 L1351.2,548.9 L1354.2,549.1 L1357.1,549.3 L1360.1,549.5 L1363.1,549.7 L1366.1,549.9 L1369.1,550.1 L1372.1,550.4 L1375.1,550.6 L1378.1,550.8 L1381.1,551.0 L1384.1,551.2 L1387.1,551.4 L1390.1,551.6 L1393.1,551.8 L1396.1,552.0 L1399.1,552.3 L1402.1,552.5 L1405.1,552.7 L1408.1,552.9 L1411.1,553.1 L1414.1,553.3 L1417.1,553.6 L1420.1,553.8 L1423.1,554.0 L1426.1,554.2 L1429.1,554.4 L1432.1,554.7 L1435.1,554.9 L1438.1,555.1 L1441.1,555.3 L1444.1,555.6 L1447.1,555.8 L1450.1,556.0 L1453.1,556.2 L1456.1,556.5 L1459.1,556.7 L1462.1,556.9 L1465.1,557.1 L1468.1,557.4 L1471.0,557.6 L1474.0,557.8 L1477.0,558.1 L1480.0,558.3 L1483.0,558.5 L1486.0,558.7 L1489.0,559.0 L1492.0,559.2 L1495.0,559.4 L1498.0,559.7 L1501.0,559.9 L1504.0,560.1 L1507.0,560.4 L1510.0,560.6 L1513.0,560.8 L1516.0,561.1 L1519.0,561.3 L1522.0,561.5 L1525.0,561.8 L1528.0,562.0 L1531.0,562.2 L1534.0,562.5 L1537.0,562.7 L1540.0,562.9 L1543.0,563.2 L1546.0,563.4 L1549.0,563.6 L1552.0,563.9 L1555.0,564.1 L1558.0,564.3 L1561.0,564.6 L1564.0,564.8 L1567.0,565.0 L1570.0,565.3 L1573.0,565.5 L1575.9,565.7 L1578.9,566.0 L1581.9,566.2 L1584.9,566.5 L1587.9,566.7 L1590.9,566.9 L1593.9,567.2 L1596.9,567.4 L1599.9,567.6 L1602.9,567.9 L1605.9,568.1 L1608.9,568.3 L1611.9,568.6 L1614.9,568.8 L1617.9,569.0 L1620.9,569.3 L1623.9,569.5 L1626.9,569.7 L1629.9,570.0 L1632.9,570.2 L1635.9,570.4 L1638.9,570.7 L1641.9,570.9 L1644.9,571.2 L1647.9,571.4 L1650.9,571.6 L1653.9,571.8 L1656.9,572.1 L1659.9,572.3 L1662.9,572.5 L1665.9,572.8 L1668.9,573.0 L1671.9,573.2 L1674.9,573.5 L1677.9,573.7 L1680.9,573.9 L1683.9,574.2 L1686.9,574.4 L1689.9,574.6 L1692.8,574.8 L1695.8,575.1 L1698.8,575.3 L1701.8,575.5 L1704.8,575.8 L1707.8,576.0 L1710.8,576.2 L1713.8,576.4 L1716.8,576.7 L1719.8,576.9 L1722.8,577.1 L1725.8,577.3 L1728.8,577.6 L1731.8,577.8 L1734.8,578.0 L1737.8,578.2 L1740.8,578.4 L1743.8,578.7 L1746.8,578.9 L1749.8,579.1 L1752.8,579.3 L1755.8,579.5 L1758.8,579.8 L1761.8,580.0 L1764.8,580.2 L1767.8,580.4 L1770.8,580.6 L1773.8,580.8 L1776.8,581.1 L1779.8,581.3 L1782.8,581.5 L1785.8,581.7 L1788.8,581.9 L1791.8,582.1 L1794.8,582.3 L1797.8,582.5 L1800.8,582.7 L1803.8,582.9 L1806.8,583.2 L1809.8,583.4 L1812.8,583.6 L1815.8,583.8 L1818.8,584.0 L1821.8,584.2 L1824.8,584.4 L1827.8,584.6 L1830.8,584.8 L1833.8,585.0 L1836.8,585.2 L1839.8,585.4 L1842.8,585.6 L1845.8,585.8 L1848.8,586.0 L1851.8,586.1 L1854.8,586.3 L1857.8,586.5 L1860.8,586.7 L1863.8,586.9 L1866.8,587.1 L1869.8,587.3 L1872.8,587.5 L1875.8,587.7 L1878.8,587.8 L1881.8,588.0 L1884.8,588.2 L1887.8,588.4 L1890.8,588.6 L1893.8,588.7 L1896.8,588.9 L1899.8,589.1 L1902.8,589.3 L1905.8,589.4 L1908.8,589.6 L1911.8,589.8 L1914.8,590.0 L1917.8,590.1 L1920.8,590.3 L1923.8,590.5 L1926.8,590.6 L1929.8,590.8 L1932.8,591.0 L1935.8,591.1 L1938.8,591.3 L1941.8,591.4 L1944.8,591.6 L1947.8,591.8 L1950.8,591.9 L1953.8,592.1 L1956.8,592.2 L1959.8,592.4 L1962.8,592.5 L1965.8,592.7 L1968.8,592.8 L1971.8,593.0 L1974.8,593.1 L1977.8,593.3 L1980.8,593.4 L1983.8,593.5 L1986.8,593.7 L1989.8,593.8 L1992.8,594.0 L1995.8,594.1 L1998.8,594.2 L2001.8,594.4 L2004.8,594.5 L2007.8,594.6 L2010.8,594.7 L2013.8,594.9 L2016.8,595.0 L2019.9,595.1 L2022.9,595.2 L2025.9,595.4 L2028.9,595.5 L2031.9,595.6 L2034.9,595.7 L2037.9,595.8 L2040.9,595.9 L2043.9,596.0 L2046.9,596.1 L2049.9,596.3 L2052.9,596.4 L2055.9,596.5 L2058.9,596.6 L2061.9,596.7 L2064.9,596.8 L2067.9,596.9 L2070.9,597.0 L2073.9,597.0 L2076.9,597.1 L2079.9,597.2 L2082.9,597.3 L2085.9,597.4 L2088.9,597.5 L2091.9,597.6 L2095.0,597.6 L2098.0,597.7 L2101.0,597.8 L2104.0,597.9 L2107.0,597.9 L2110.0,598.0 L2113.0,598.1 L2116.0,598.2 L2119.0,598.2 L2122.0,598.3 L2125.0,598.3 L2128.0,598.4 L2131.0,598.5 L2134.0,598.5 L2137.0,598.6 L2140.0,598.6 L2143.0,598.7 L2146.1,598.7 L2149.1,598.8 L2152.1,598.8 L2155.1,598.9 L2158.1,598.9 L2161.1,598.9 L2164.1,599.0 L2167.1,599.0" fill="none" stroke="#00ff00" stroke-width="7" stroke-linejoin="round" stroke-linecap="butt" clip-path="url(#c0)"/>
<path d="M428.0,140.0 L429.2,142.8 L430.4,145.5 L431.6,148.3 L432.8,151.0 L434.0,153.8 L435.2,156.5 L436.5,159.2 L437.7,162.0 L439.0,164.7 L440.3,167.4 L441.5,170.1 L442.8,172.9 L444.1,175.6 L445.4,178.3 L446.8,181.0 L448.1,183.7 L449.4,186.4 L450.8,189.1 L452.1,191.8 L453.5,194.5 L454.9,197.2 L456.2,199.8 L457.6,202.5 L459.0,205.2 L460.4,207.9 L461.8,210.6 L463.2,213.2 L464.7,215.9 L466.1,218.6 L467.5,221.2 L468.9,223.9 L470.4,226.6 L471.8,229.2 L473.3,231.9 L474.7,234.5 L476.2,237.2 L477.6,239.9 L479.1,242.5 L480.5,245.2 L482.0,247.8 L483.5,250.5 L484.9,253.1 L486.4,255.8 L487.9,258.4 L489.4,261.1 L490.8,263.7 L492.3,266.4 L493.8,269.0 L495.3,271.7 L496.8,274.3 L498.2,277.0 L499.7,279.6 L501.2,282.3 L502.7,284.9 L504.2,287.6 L505.6,290.2 L507.1,292.9 L508.6,295.5 L510.1,298.2 L511.5,300.8 L513.0,303.5 L514.5,306.1 L515.9,308.8 L517.4,311.4 L518.8,314.1 L520.3,316.8 L521.7,319.4 L523.2,322.1 L524.6,324.7 L526.1,327.4 L527.5,330.1 L528.9,332.8 L530.3,335.4 L531.7,338.1 L533.2,340.8 L534.6,343.5 L536.0,346.1 L537.3,348.8 L538.7,351.5 L540.1,354.2 L541.5,356.9 L542.8,359.6 L544.2,362.3 L545.5,365.0 L546.9,367.7 L548.2,370.4 L549.5,373.1 L550.8,375.8 L552.1,378.5 L553.4,381.3 L554.7,384.0 L556.0,386.7 L557.2,389.5 L558.5,392.2 L559.7,394.9 L561.0,397.7 L562.2,400.4 L563.4,403.2 L564.6,406.0 L565.8,408.7 L566.9,411.5 L568.1,414.3 L569.2,417.0 L570.4,419.8 L571.5,422.6 L572.6,425.4 L573.7,428.2 L574.8,431.0 L575.8,433.8 L576.9,436.6 L577.9,439.5 L578.9,442.3 L579.9,445.1 L580.9,448.0 L581.9,450.8 L582.9,453.6 L583.8,456.5 L584.8,459.4 L585.7,462.2 L586.6,465.1 L587.5,468.0 L588.4,470.8 L589.2,473.7 L590.1,476.6 L590.9,479.5 L591.8,482.4 L592.6,485.3 L593.4,488.2 L594.2,491.1 L595.0,494.0 L595.8,496.9 L596.6,499.8 L597.3,502.8 L598.1,505.7 L598.8,508.6 L599.6,511.5 L600.3,514.5 L601.0,517.4 L601.7,520.3 L602.4,523.3 L603.1,526.2 L603.8,529.1 L604.5,532.1 L605.2,535.0 L605.9,538.0 L606.5,540.9 L607.2,543.8 L607.8,546.8 L608.5,549.7 L609.1,552.7 L609.8,555.6 L610.4,558.6 L611.1,561.5 L611.7,564.5 L612.4,567.4 L613.0,570.4 L613.7,573.3 L614.3,576.2 L615.0,579.2 L615.6,582.1 L616.3,585.0 L617.0,588.0 L617.7,590.9 L618.4,593.8 L619.1,596.7 L619.8,599.6 L620.5,602.5 L621.3,605.4 L622.0,608.3 L622.8,611.2 L622.8,611.2 L623.6,608.4 L624.5,605.7 L625.3,602.9 L626.0,600.1 L626.8,597.2 L627.6,594.4 L628.4,591.5 L629.1,588.6 L629.9,585.7 L630.6,582.8 L631.4,579.9 L632.1,577.0 L632.9,574.1 L633.6,571.1 L634.4,568.2 L635.2,565.2 L636.0,562.3 L636.8,559.3 L637.6,556.4 L638.4,553.4 L639.2,550.5 L640.1,547.5 L641.0,544.6 L641.9,541.7 L642.8,538.8 L643.8,535.9 L644.8,533.0 L645.8,530.1 L646.8,527.2 L647.9,524.3 L649.0,521.5 L650.2,518.7 L651.4,515.9 L652.6,513.1 L653.9,510.3 L655.2,507.6 L656.6,504.9 L658.0,502.2 L659.5,499.5 L661.0,496.9 L662.5,494.3 L664.2,491.7 L665.8,489.2 L667.5,486.7 L669.3,484.2 L671.1,481.8 L673.0,479.5 L674.9,477.1 L676.9,474.9 L678.9,472.7 L681.0,470.5 L683.1,468.4 L685.2,466.4 L687.5,464.4 L689.7,462.5 L692.1,460.7 L694.4,458.9 L696.8,457.3 L699.3,455.7 L701.8,454.1 L704.4,452.7 L707.0,451.3 L709.7,449.9 L712.3,448.7 L715.1,447.5 L717.8,446.3 L720.6,445.2 L723.4,444.2 L726.3,443.2 L729.1,442.3 L732.0,441.4 L735.0,440.5 L737.9,439.7 L740.8,439.0 L743.8,438.3 L746.8,437.6 L749.8,436.9 L752.7,436.3 L755.7,435.7 L758.7,435.1 L761.7,434.5 L764.7,434.0 L767.7,433.4 L770.7,432.9 L773.7,432.4 L776.7,432.0 L779.7,431.5 L782.7,431.1 L785.7,430.7 L788.7,430.3 L791.7,429.9 L794.7,429.6 L797.6,429.3 L800.6,428.9 L803.6,428.6 L806.6,428.4 L809.6,428.1 L812.6,427.9 L815.6,427.6 L818.6,427.4 L821.5,427.2 L824.5,427.0 L827.5,426.9 L830.5,426.7 L833.5,426.6 L836.5,426.5 L839.5,426.4 L842.4,426.3 L845.4,426.3 L848.4,426.2 L851.4,426.2 L854.4,426.1 L857.3,426.1 L860.3,426.1 L863.3,426.2 L866.3,426.2 L869.3,426.3 L872.2,426.3 L875.2,426.4 L878.2,426.5 L881.2,426.6 L884.1,426.7 L887.1,426.8 L890.1,427.0 L893.1,427.1 L896.1,427.3 L899.0,427.5 L902.0,427.7 L905.0,427.9 L908.0,428.1 L910.9,428.3 L913.9,428.6 L916.9,428.8 L919.9,429.1 L922.8,429.4 L925.8,429.7 L928.8,430.0 L931.8,430.3 L934.7,430.6 L937.7,430.9 L940.7,431.2 L943.6,431.6 L946.6,431.9 L949.6,432.3 L952.6,432.7 L955.5,433.1 L958.5,433.5 L961.5,433.9 L964.5,434.3 L967.4,434.7 L970.4,435.1 L973.4,435.5 L976.4,436.0 L979.3,436.4 L982.3,436.9 L985.3,437.4 L988.2,437.8 L991.2,438.3 L994.2,438.8 L997.2,439.3 L1000.1,439.8 L1003.1,440.3 L1006.1,440.8 L1009.1,441.3 L1012.0,441.8 L1015.0,442.4 L1018.0,442.9 L1021.0,443.4 L1023.9,444.0 L1026.9,444.5 L1029.9,445.1 L1032.9,445.6 L1035.8,446.2 L1038.8,446.8 L1041.8,447.3 L1044.8,447.9 L1047.7,448.5 L1050.7,449.1 L1053.7,449.7 L1056.7,450.2 L1059.6,450.8 L1062.6,451.4 L1065.6,452.0 L1068.6,452.6 L1071.5,453.2 L1074.5,453.8 L1077.5,454.4 L1080.5,455.1 L1083.5,455.7 L1086.4,456.3 L1089.4,456.9 L1092.4,457.5 L1095.4,458.1 L1098.4,458.8 L1101.3,459.4 L1104.3,460.0 L1107.3,460.7 L1110.3,461.3 L1113.2,462.0 L1116.2,462.6 L1119.2,463.3 L1122.2,463.9 L1125.1,464.6 L1128.1,465.2 L1131.1,465.9 L1134.0,466.6 L1137.0,467.3 L1139.9,468.0 L1142.9,468.7 L1145.9,469.4 L1148.8,470.1 L1151.8,470.8 L1154.7,471.5 L1157.7,472.2 L1160.6,472.9 L1163.6,473.7 L1166.5,474.4 L1169.5,475.2 L1172.4,475.9 L1175.3,476.7 L1178.3,477.5 L1181.2,478.2 L1184.1,479.0 L1187.0,479.8 L1190.0,480.6 L1192.9,481.4 L1195.8,482.2 L1198.7,483.1 L1201.6,483.9 L1204.5,484.7 L1207.4,485.6 L1210.3,486.4 L1213.2,487.3 L1216.1,488.2 L1219.0,489.1 L1221.8,490.0 L1224.7,490.9 L1227.6,491.8 L1230.4,492.7 L1233.3,493.6 L1236.1,494.6 L1239.0,495.5 L1241.8,496.5 L1244.7,497.5 L1247.5,498.5 L1250.3,499.5 L1253.2,500.5 L1256.0,501.5 L1258.8,502.5 L1261.6,503.5 L1264.4,504.6 L1267.2,505.7 L1270.0,506.7 L1272.8,507.8 L1275.6,508.9 L1278.3,510.0 L1281.1,511.2 L1283.9,512.3 L1286.6,513.4 L1289.4,514.6 L1292.1,515.8 L1294.8,517.0 L1297.6,518.2 L1300.3,519.4 L1303.0,520.6 L1305.7,521.8 L1308.4,523.1 L1311.1,524.4 L1313.8,525.6 L1316.5,526.9 L1319.1,528.2 L1321.8,529.6 L1324.5,530.9 L1327.1,532.3 L1329.7,533.6 L1332.4,535.0 L1335.0,536.4 L1337.6,537.8 L1340.2,539.2 L1342.8,540.7 L1345.4,542.1 L1348.0,543.6 L1350.6,545.1 L1353.1,546.6 L1355.7,548.1 L1358.2,549.7 L1360.8,551.2 L1363.3,552.8 L1365.8,554.4 L1368.3,556.0 L1370.8,557.6 L1373.3,559.3 L1375.8,560.9 L1378.3,562.6 L1380.7,564.3 L1383.2,566.0 L1385.6,567.8 L1388.1,569.5 L1390.5,571.3 L1392.9,573.1 L1395.3,574.9 L1397.7,576.7 L1400.1,578.5 L1402.5,580.4 L1404.8,582.3 L1407.2,584.2 L1409.5,586.1 L1411.8,588.0 L1414.1,590.0 L1416.4,591.9 L1418.7,593.9 L1421.0,595.9 L1423.2,597.9 L1425.5,600.0 L1427.7,602.0 L1429.9,604.1 L1432.1,606.2 L1434.3,608.3 L1436.4,610.5 L1438.6,612.6 L1440.7,614.8 L1442.8,616.9 L1444.9,619.1 L1447.0,621.3 L1449.0,623.6 L1451.1,625.8 L1453.1,628.1 L1455.1,630.4 L1457.0,632.7 L1459.0,635.0 L1460.9,637.3 L1462.8,639.6 L1464.7,642.0 L1466.6,644.4 L1468.4,646.8 L1470.2,649.2 L1472.0,651.6 L1473.8,654.1 L1475.5,656.5 L1477.2,659.0 L1478.9,661.5 L1480.6,664.0 L1482.2,666.5 L1483.8,669.0 L1485.4,671.6 L1487.0,674.1 L1488.5,676.7 L1490.0,679.3 L1491.5,681.9 L1493.0,684.5 L1494.4,687.2 L1495.8,689.8 L1497.1,692.5 L1498.5,695.2 L1499.8,697.9 L1501.0,700.6 L1502.3,703.3 L1503.5,706.0 L1504.7,708.8 L1505.8,711.6 L1506.9,714.3 L1508.0,717.1 L1509.1,719.9 L1510.1,722.8 L1511.0,725.6 L1512.0,728.4 L1512.9,731.3 L1513.8,734.2 L1514.6,737.1 L1515.4,740.0 L1516.2,742.9 L1516.9,745.8 L1517.6,748.8 L1518.2,751.7 L1518.8,754.7 L1519.4,757.6 L1519.9,760.6 L1520.4,763.6 L1520.9,766.7 L1521.3,769.7 L1521.7,772.7 L1522.0,775.8 L1522.3,778.8 L1522.6,781.9 L1522.8,785.0 M1555.3,785.0 L1555.3,781.7 L1555.4,778.4 L1555.6,775.2 L1555.8,772.0 L1556.0,768.8 L1556.3,765.6 L1556.7,762.4 L1557.1,759.3 L1557.6,756.2 L1558.1,753.1 L1558.6,750.1 L1559.2,747.1 L1559.9,744.1 L1560.6,741.1 L1561.3,738.1 L1562.1,735.2 L1563.0,732.3 L1563.9,729.4 L1564.8,726.6 L1565.8,723.7 L1566.8,720.9 L1567.9,718.2 L1569.0,715.4 L1570.1,712.7 L1571.3,710.0 L1572.6,707.3 L1573.8,704.6 L1575.2,702.0 L1576.5,699.4 L1577.9,696.8 L1579.3,694.2 L1580.8,691.7 L1582.3,689.2 L1583.9,686.7 L1585.5,684.3 L1587.1,681.8 L1588.7,679.4 L1590.4,677.0 L1592.1,674.7 L1593.9,672.4 L1595.7,670.0 L1597.5,667.8 L1599.4,665.5 L1601.3,663.3 L1603.2,661.0 L1605.1,658.9 L1607.1,656.7 L1609.1,654.6 L1611.2,652.4 L1613.2,650.3 L1615.3,648.3 L1617.4,646.2 L1619.6,644.2 L1621.8,642.2 L1624.0,640.2 L1626.2,638.3 L1628.5,636.4 L1630.7,634.4 L1633.0,632.6 L1635.4,630.7 L1637.7,628.9 L1640.1,627.0 L1642.5,625.2 L1644.9,623.5 L1647.3,621.7 L1649.8,620.0 L1652.3,618.3 L1654.8,616.6 L1657.3,615.0 L1659.8,613.3 L1662.4,611.7 L1664.9,610.1 L1667.5,608.5 L1670.1,607.0 L1672.7,605.4 L1675.4,603.9 L1678.0,602.4 L1680.7,601.0 L1683.4,599.5 L1686.0,598.1 L1688.7,596.7 L1691.5,595.3 L1694.2,593.9 L1696.9,592.6 L1699.7,591.3 L1702.4,590.0 L1705.2,588.7 L1708.0,587.4 L1710.7,586.2 L1713.5,585.0 L1716.3,583.8 L1719.1,582.6 L1721.9,581.4 L1724.8,580.3 L1727.6,579.2 L1730.4,578.0 L1733.3,577.0 L1736.1,575.9 L1738.9,574.8 L1741.8,573.8 L1744.6,572.8 L1747.5,571.8 L1750.4,570.8 L1753.2,569.9 L1756.1,569.0 L1759.0,568.0 L1761.9,567.1 L1764.7,566.2 L1767.6,565.4 L1770.5,564.5 L1773.4,563.7 L1776.3,562.9 L1779.2,562.1 L1782.1,561.3 L1785.1,560.5 L1788.0,559.8 L1790.9,559.1 L1793.8,558.3 L1796.8,557.7 L1799.7,557.0 L1802.6,556.3 L1805.6,555.6 L1808.5,555.0 L1811.5,554.4 L1814.4,553.8 L1817.4,553.2 L1820.3,552.6 L1823.3,552.0 L1826.3,551.5 L1829.2,551.0 L1832.2,550.4 L1835.2,549.9 L1838.2,549.4 L1841.1,549.0 L1844.1,548.5 L1847.1,548.1 L1850.1,547.6 L1853.1,547.2 L1856.1,546.8 L1859.1,546.4 L1862.1,546.0 L1865.1,545.6 L1868.1,545.3 L1871.1,544.9 L1874.1,544.6 L1877.1,544.3 L1880.1,543.9 L1883.1,543.6 L1886.2,543.4 L1889.2,543.1 L1892.2,542.8 L1895.2,542.5 L1898.2,542.3 L1901.3,542.1 L1904.3,541.8 L1907.3,541.6 L1910.4,541.4 L1913.4,541.2 L1916.4,541.1 L1919.5,540.9 L1922.5,540.7 L1925.5,540.6 L1928.6,540.4 L1931.6,540.3 L1934.6,540.2 L1937.7,540.0 L1940.7,539.9 L1943.8,539.8 L1946.8,539.8 L1949.9,539.7 L1952.9,539.6 L1956.0,539.5 L1959.0,539.5 L1962.0,539.4 L1965.1,539.4 L1968.1,539.4 L1971.2,539.3 L1974.2,539.3 L1977.3,539.3 L1980.3,539.3 L1983.4,539.3 L1986.4,539.3 L1989.5,539.3 L1992.5,539.3 L1995.6,539.4 L1998.6,539.4 L2001.7,539.4 L2004.7,539.5 L2007.8,539.5 L2010.8,539.6 L2013.9,539.6 L2016.9,539.7 L2019.9,539.8 L2023.0,539.9 L2026.0,539.9 L2029.1,540.0 L2032.1,540.1 L2035.2,540.2 L2038.2,540.3 L2041.2,540.4 L2044.3,540.5 L2047.3,540.6 L2050.3,540.7 L2053.4,540.8 L2056.4,541.0 L2059.4,541.1 L2062.5,541.2 L2065.5,541.3 L2068.5,541.5 L2071.6,541.6 L2074.6,541.7 L2077.6,541.9 L2080.6,542.0 L2083.6,542.2 L2086.6,542.3 L2089.7,542.4 L2092.7,542.6 L2095.7,542.7 L2098.7,542.9 L2101.7,543.0 L2104.7,543.2 L2107.7,543.3 L2110.7,543.5 L2113.7,543.6 L2116.7,543.8 L2119.7,544.0 L2122.7,544.1 L2125.6,544.3 L2128.6,544.4 L2131.6,544.6 L2134.6,544.7 L2137.5,544.9 L2140.5,545.0 L2143.5,545.2 L2146.4,545.3 L2149.4,545.5 L2152.4,545.6 L2155.3,545.7 L2158.3,545.9 L2161.2,546.0 L2164.2,546.2 L2167.1,546.3" fill="none" stroke="#ff0000" stroke-width="7" stroke-linejoin="round" clip-path="url(#c0)"/>
<path d="M314.0,1179.1 L317.0,1179.2 L320.0,1179.2 L323.1,1179.3 L326.1,1179.3 L329.1,1179.4 L332.1,1179.4 L335.1,1179.5 L338.1,1179.5 L341.2,1179.6 L344.2,1179.6 L347.2,1179.6 L350.2,1179.7 L353.2,1179.7 L356.3,1179.7 L359.3,1179.7 L362.3,1179.7 L365.3,1179.7 L368.3,1179.7 L371.3,1179.7 L374.4,1179.6 L377.4,1179.6 L380.4,1179.6 L383.4,1179.5 L386.4,1179.5 L389.4,1179.4 L392.4,1179.4 L395.5,1179.3 L398.5,1179.2 L401.5,1179.1 L404.5,1179.1 L407.5,1179.0 L410.5,1178.8 L413.5,1178.7 L416.5,1178.6 L419.5,1178.5 L422.5,1178.3 L425.5,1178.2 L428.5,1178.0 L431.5,1177.9 L434.5,1177.7 L437.5,1177.5 L440.5,1177.3 L443.5,1177.1 L446.5,1176.9 L449.5,1176.7 L452.5,1176.4 L455.5,1176.2 L458.5,1175.9 L461.5,1175.7 L464.5,1175.4 L467.5,1175.1 L470.5,1174.8 L473.4,1174.5 L476.4,1174.2 L479.4,1173.8 L482.4,1173.5 L485.4,1173.1 L488.3,1172.8 L491.3,1172.4 L494.3,1172.0 L497.3,1171.6 L500.2,1171.2 L503.2,1170.8 L506.2,1170.4 L509.1,1169.9 L512.1,1169.5 L515.1,1169.0 L518.0,1168.5 L521.0,1168.1 L523.9,1167.6 L526.9,1167.1 L529.8,1166.6 L532.8,1166.1 L535.8,1165.5 L538.7,1165.0 L541.7,1164.5 L544.6,1163.9 L547.6,1163.4 L550.5,1162.8 L553.4,1162.2 L556.4,1161.6 L559.3,1161.1 L562.3,1160.5 L565.2,1159.8 L568.2,1159.2 L571.1,1158.6 L574.0,1158.0 L577.0,1157.4 L579.9,1156.7 L582.9,1156.1 L585.8,1155.4 L588.7,1154.8 L591.7,1154.1 L594.6,1153.4 L597.5,1152.7 L600.5,1152.1 L603.4,1151.4 L606.3,1150.7 L609.2,1150.0 L612.2,1149.3 L615.1,1148.5 L618.0,1147.8 L621.0,1147.1 L623.9,1146.4 L626.8,1145.7 L629.7,1144.9 L632.7,1144.2 L635.6,1143.4 L638.5,1142.7 L641.4,1141.9 L644.3,1141.2 L647.3,1140.4 L650.2,1139.7 L653.1,1138.9 L656.0,1138.1 L659.0,1137.4 L661.9,1136.6 L664.8,1135.8 L667.7,1135.1 L670.6,1134.3 L673.6,1133.5 L676.5,1132.8 L679.4,1132.0 L682.3,1131.2 L685.2,1130.5 L688.2,1129.7 L691.1,1128.9 L694.0,1128.2 L696.9,1127.4 L699.9,1126.7 L702.8,1126.0 L705.7,1125.2 L708.6,1124.5 L711.6,1123.8 L714.5,1123.0 L717.4,1122.3 L720.3,1121.6 L723.3,1120.9 L726.2,1120.2 L729.1,1119.6 L732.1,1118.9 L735.0,1118.2 L737.9,1117.6 L740.9,1116.9 L743.8,1116.3 L746.7,1115.7 L749.7,1115.0 L752.6,1114.4 L755.6,1113.9 L758.5,1113.3 L761.5,1112.7 L764.4,1112.2 L767.3,1111.6 L770.3,1111.1 L773.3,1110.6 L776.2,1110.1 L779.2,1109.6 L782.1,1109.1 L785.1,1108.7 L788.0,1108.2 L791.0,1107.8 L794.0,1107.4 L796.9,1107.0 L799.9,1106.7 L802.9,1106.3 L805.8,1106.0 L808.8,1105.6 L811.8,1105.3 L814.8,1105.0 L817.7,1104.8 L820.7,1104.5 L823.7,1104.3 L826.7,1104.0 L829.7,1103.8 L832.7,1103.6 L835.6,1103.4 L838.6,1103.2 L841.6,1103.1 L844.6,1102.9 L847.6,1102.8 L850.6,1102.7 L853.6,1102.5 L856.6,1102.4 L859.6,1102.3 L862.6,1102.3 L865.6,1102.2 L868.6,1102.2 L871.6,1102.1 L874.6,1102.1 L877.6,1102.1 L880.6,1102.1 L883.6,1102.1 L886.6,1102.1 L889.6,1102.1 L892.6,1102.1 L895.6,1102.2 L898.6,1102.2 L901.6,1102.3 L904.6,1102.3 L907.6,1102.4 L910.6,1102.5 L913.6,1102.6 L916.6,1102.7 L919.6,1102.8 L922.6,1102.9 L925.6,1103.1 L928.6,1103.2 L931.6,1103.3 L934.6,1103.5 L937.6,1103.6 L940.6,1103.8 L943.6,1104.0 L946.6,1104.1 L949.6,1104.3 L952.6,1104.5 L955.6,1104.7 L958.6,1104.9 L961.6,1105.1 L964.6,1105.3 L967.6,1105.5 L970.5,1105.8 L973.5,1106.0 L976.5,1106.2 L979.5,1106.5 L982.5,1106.7 L985.5,1107.0 L988.5,1107.3 L991.5,1107.5 L994.5,1107.8 L997.5,1108.1 L1000.5,1108.4 L1003.5,1108.7 L1006.5,1109.0 L1009.4,1109.3 L1012.4,1109.6 L1015.4,1109.9 L1018.4,1110.2 L1021.4,1110.5 L1024.4,1110.9 L1027.4,1111.2 L1030.4,1111.5 L1033.3,1111.9 L1036.3,1112.2 L1039.3,1112.6 L1042.3,1112.9 L1045.3,1113.3 L1048.3,1113.7 L1051.2,1114.1 L1054.2,1114.4 L1057.2,1114.8 L1060.2,1115.2 L1063.2,1115.6 L1066.2,1116.0 L1069.1,1116.4 L1072.1,1116.8 L1075.1,1117.2 L1078.1,1117.6 L1081.1,1118.1 L1084.0,1118.5 L1087.0,1118.9 L1090.0,1119.3 L1093.0,1119.8 L1096.0,1120.2 L1098.9,1120.7 L1101.9,1121.1 L1104.9,1121.6 L1107.9,1122.0 L1110.8,1122.5 L1113.8,1122.9 L1116.8,1123.4 L1119.8,1123.9 L1122.7,1124.3 L1125.7,1124.8 L1128.7,1125.3 L1131.7,1125.8 L1134.6,1126.3 L1137.6,1126.8 L1140.6,1127.2 L1143.6,1127.7 L1146.5,1128.2 L1149.5,1128.7 L1152.5,1129.2 L1155.5,1129.7 L1158.4,1130.3 L1161.4,1130.8 L1164.4,1131.3 L1167.3,1131.8 L1170.3,1132.3 L1173.3,1132.8 L1176.2,1133.4 L1179.2,1133.9 L1182.2,1134.4 L1185.1,1135.0 L1188.1,1135.5 L1191.1,1136.0 L1194.0,1136.6 L1197.0,1137.1 L1200.0,1137.6 L1202.9,1138.2 L1205.9,1138.7 L1208.9,1139.3 L1211.8,1139.8 L1214.8,1140.4 L1217.8,1140.9 L1220.7,1141.5 L1223.7,1142.0 L1226.7,1142.6 L1229.6,1143.1 L1232.6,1143.7 L1235.6,1144.3 L1238.5,1144.8 L1241.5,1145.4 L1244.4,1146.0 L1247.4,1146.5 L1250.4,1147.1 L1253.3,1147.7 L1256.3,1148.2 L1259.3,1148.8 L1262.2,1149.4 L1265.2,1149.9 L1268.1,1150.5 L1271.1,1151.1 L1274.1,1151.6 L1277.0,1152.2 L1280.0,1152.8 L1282.9,1153.4 L1285.9,1153.9 L1288.8,1154.5 L1291.8,1155.1 L1294.8,1155.7 L1297.7,1156.2 L1300.7,1156.8 L1303.6,1157.4 L1306.6,1158.0 L1309.5,1158.6 L1312.5,1159.1 L1315.5,1159.7 L1318.4,1160.3 L1321.4,1160.9 L1324.3,1161.5 L1327.3,1162.0 L1330.2,1162.6 L1333.2,1163.2 L1336.1,1163.8 L1339.1,1164.4 L1342.0,1165.0 L1345.0,1165.5 L1348.0,1166.1 L1350.9,1166.7 L1353.9,1167.3 L1356.8,1167.9 L1359.8,1168.5 L1362.7,1169.1 L1365.7,1169.7 L1368.6,1170.2 L1371.6,1170.8 L1374.5,1171.4 L1377.5,1172.0 L1380.4,1172.6 L1383.4,1173.2 L1386.3,1173.8 L1389.3,1174.4 L1392.2,1175.0 L1395.2,1175.6 L1398.1,1176.2 L1401.1,1176.8 L1404.0,1177.3 L1407.0,1177.9 L1409.9,1178.5 L1412.9,1179.1 L1415.8,1179.7 L1418.8,1180.3 L1421.7,1180.9 L1424.7,1181.5 L1427.6,1182.1 L1430.5,1182.7 L1433.5,1183.3 L1436.4,1183.9 L1439.4,1184.5 L1442.3,1185.1 L1445.3,1185.7 L1448.2,1186.3 L1451.2,1186.9 L1454.1,1187.5 L1457.1,1188.1 L1460.0,1188.7 L1463.0,1189.4 L1465.9,1190.0 L1468.8,1190.6 L1471.8,1191.2 L1474.7,1191.8 L1477.7,1192.4 L1480.6,1193.0 L1483.6,1193.6 L1486.5,1194.2 L1489.5,1194.8 L1492.4,1195.4 L1495.3,1196.0 L1498.3,1196.6 L1501.2,1197.3 L1504.2,1197.9 L1507.1,1198.5 L1510.0,1199.1 L1513.0,1199.7 L1515.9,1200.3 L1518.9,1200.9 L1521.8,1201.5 L1524.8,1202.2 L1527.7,1202.8 L1530.6,1203.4 L1533.6,1204.0 L1536.5,1204.6 L1539.5,1205.2 L1542.4,1205.9 L1545.3,1206.5 L1548.3,1207.1 L1551.2,1207.7 L1554.2,1208.3 L1557.1,1208.9 L1560.0,1209.6 L1563.0,1210.2 L1565.9,1210.8 L1568.9,1211.4 L1571.8,1212.0 L1574.7,1212.7 L1577.7,1213.3 L1580.6,1213.9 L1583.6,1214.5 L1586.5,1215.2 L1589.4,1215.8 L1592.4,1216.4 L1595.3,1217.0 L1598.2,1217.7 L1601.2,1218.3 L1604.1,1218.9 L1607.1,1219.5 L1610.0,1220.2 L1612.9,1220.8 L1615.9,1221.4 L1618.8,1222.0 L1621.7,1222.7 L1624.7,1223.3 L1627.6,1223.9 L1630.6,1224.6 L1633.5,1225.2 L1636.4,1225.8 L1639.4,1226.4 L1642.3,1227.1 L1645.2,1227.7 L1648.2,1228.3 L1651.1,1229.0 L1654.0,1229.6 L1657.0,1230.2 L1659.9,1230.9 L1662.9,1231.5 L1665.8,1232.1 L1668.7,1232.8 L1671.7,1233.4 L1674.6,1234.0 L1677.5,1234.7 L1680.5,1235.3 L1683.4,1235.9 L1686.3,1236.6 L1689.3,1237.2 L1692.2,1237.9 L1695.1,1238.5 L1698.1,1239.1 L1701.0,1239.8 L1703.9,1240.4 L1706.9,1241.0 L1709.8,1241.7 L1712.7,1242.3 L1715.7,1243.0 L1718.6,1243.6 L1721.6,1244.2 L1724.5,1244.9 L1727.4,1245.5 L1730.4,1246.2 L1733.3,1246.8 L1736.2,1247.5 L1739.2,1248.1 L1742.1,1248.7 L1745.0,1249.4 L1748.0,1250.0 L1750.9,1250.7 L1753.8,1251.3 L1756.8,1252.0 L1759.7,1252.6 L1762.6,1253.3 L1765.6,1253.9 L1768.5,1254.5 L1771.4,1255.2 L1774.4,1255.8 L1777.3,1256.5 L1780.2,1257.1 L1783.2,1257.8 L1786.1,1258.4 L1789.0,1259.1 L1792.0,1259.7 L1794.9,1260.4 L1797.8,1261.0 L1800.8,1261.7 L1803.7,1262.3 L1806.6,1263.0 L1809.6,1263.6 L1812.5,1264.3 L1815.4,1264.9 L1818.3,1265.6 L1821.3,1266.2 L1824.2,1266.9 L1827.1,1267.5 L1830.1,1268.2 L1833.0,1268.8 L1835.9,1269.5 L1838.9,1270.1 L1841.8,1270.8 L1844.7,1271.5 L1847.7,1272.1 L1850.6,1272.8 L1853.5,1273.4 L1856.5,1274.1 L1859.4,1274.7 L1862.3,1275.4 L1865.3,1276.0 L1868.2,1276.7 L1871.1,1277.4 L1874.1,1278.0 L1877.0,1278.7 L1879.9,1279.3 L1882.9,1280.0 L1885.8,1280.6 L1888.7,1281.3 L1891.7,1282.0 L1894.6,1282.6 L1897.5,1283.3 L1900.5,1283.9 L1903.4,1284.6 L1906.3,1285.3 L1909.3,1285.9 L1912.2,1286.6 L1915.1,1287.2 L1918.1,1287.9 L1921.0,1288.6 L1923.9,1289.2 L1926.9,1289.9 L1929.8,1290.5 L1932.7,1291.2 L1935.7,1291.9 L1938.6,1292.5 L1941.5,1293.2 L1944.5,1293.9 L1947.4,1294.5 L1950.3,1295.2 L1953.3,1295.9 L1956.2,1296.5 L1959.1,1297.2 L1962.1,1297.8 L1965.0,1298.5 L1967.9,1299.2 L1970.9,1299.8 L1973.8,1300.5 L1976.7,1301.2 L1979.7,1301.8 L1982.6,1302.5 L1985.5,1303.2 L1988.5,1303.8 L1991.4,1304.5 L1994.3,1305.2 L1997.3,1305.8 L2000.2,1306.5 L2003.1,1307.2 L2006.1,1307.8 L2009.0,1308.5 L2011.9,1309.2 L2014.9,1309.9 L2017.8,1310.5 L2020.7,1311.2 L2023.7,1311.9 L2026.6,1312.5 L2029.5,1313.2 L2032.5,1313.9 L2035.4,1314.5 L2038.4,1315.2 L2041.3,1315.9 L2044.2,1316.6 L2047.2,1317.2 L2050.1,1317.9 L2053.0,1318.6 L2056.0,1319.2 L2058.9,1319.9 L2061.8,1320.6 L2064.8,1321.3 L2067.7,1321.9 L2070.6,1322.6 L2073.6,1323.3 L2076.5,1323.9 L2079.5,1324.6 L2082.4,1325.3 L2085.3,1326.0 L2088.3,1326.6 L2091.2,1327.3 L2094.1,1328.0 L2097.1,1328.7 L2100.0,1329.3 L2102.9,1330.0 L2105.9,1330.7 L2108.8,1331.4 L2111.8,1332.0 L2114.7,1332.7 L2117.6,1333.4 L2120.6,1334.1 L2123.5,1334.7 L2126.5,1335.4 L2129.4,1336.1 L2132.3,1336.8 L2135.3,1337.4 L2138.2,1338.1 L2141.1,1338.8 L2144.1,1339.5 L2147.0,1340.2 L2150.0,1340.8 L2152.9,1341.5 L2155.8,1342.2 L2158.8,1342.9 L2161.7,1343.5 L2164.7,1344.2 L2167.6,1344.9" fill="none" stroke="#00ff00" stroke-width="7" stroke-linejoin="round" stroke-linecap="butt" clip-path="url(#c1)"/>
<path d="M314.0,1179.0 L317.1,1179.1 L320.2,1179.2 L323.3,1179.3 L326.4,1179.4 L329.5,1179.4 L332.5,1179.4 L335.6,1179.3 L338.7,1179.2 L341.7,1179.1 L344.8,1178.9 L347.8,1178.7 L350.8,1178.4 L353.8,1178.1 L356.8,1177.8 L359.8,1177.4 L362.7,1176.9 L365.7,1176.4 L368.6,1175.9 L371.5,1175.3 L374.4,1174.6 L377.2,1173.9 L380.1,1173.1 L382.9,1172.3 L385.7,1171.4 L388.5,1170.4 L391.2,1169.4 L394.0,1168.3 L396.6,1167.1 L399.3,1165.9 L402.0,1164.6 L404.6,1163.2 L407.2,1161.8 L409.7,1160.2 L412.2,1158.7 L414.7,1157.0 L417.2,1155.3 L419.7,1153.6 L422.1,1151.8 L424.6,1150.0 L427.0,1148.1 L429.4,1146.2 L431.8,1144.4 L434.2,1142.5 L436.7,1140.6 L439.1,1138.7 L441.5,1136.8 L444.0,1135.0 L446.4,1133.2 L448.9,1131.4 L451.4,1129.6 L453.9,1127.9 L456.4,1126.3 L459.0,1124.7 L461.6,1123.1 L464.2,1121.6 L466.8,1120.2 L469.5,1118.9 L472.1,1117.6 L474.8,1116.4 L477.6,1115.4 L480.3,1114.3 L483.1,1113.4 L485.9,1112.6 L488.7,1111.9 L491.5,1111.3 L494.4,1110.8 L497.3,1110.4 L500.2,1110.1 L503.1,1109.9 L506.0,1109.7 L508.9,1109.7 L511.9,1109.8 L514.8,1109.9 L517.8,1110.1 L520.7,1110.4 L523.6,1110.8 L526.5,1111.2 L529.4,1111.7 L532.3,1112.3 L535.2,1112.9 L538.1,1113.6 L540.9,1114.3 L543.8,1115.1 L546.6,1115.9 L549.4,1116.8 L552.2,1117.7 L555.0,1118.7 L557.8,1119.8 L560.6,1120.8 L563.4,1122.0 L566.1,1123.1 L568.9,1124.3 L571.6,1125.6 L574.4,1126.8 L577.1,1128.2 L579.8,1129.5 L582.5,1130.9 L585.2,1132.3 L587.9,1133.7 L590.6,1135.2 L593.3,1136.6 L596.0,1138.2 L598.7,1139.7 L601.3,1141.2 L604.0,1142.8 L606.6,1144.4 L609.3,1146.0 L611.9,1147.6 L614.5,1149.2 L617.2,1150.8 L619.8,1152.4 L622.4,1154.1 L625.0,1155.7 L627.6,1157.3 L630.2,1159.0 L632.8,1160.6 L635.4,1162.3 L638.0,1163.9 L640.6,1165.6 L643.2,1167.2 L645.8,1168.9 L648.3,1170.5 L650.9,1172.2 L653.5,1173.9 L656.0,1175.5 L658.6,1177.2 L661.2,1178.9 L663.7,1180.5 L666.3,1182.2 L668.8,1183.9 L671.3,1185.5 L673.9,1187.2 L676.4,1188.9 L679.0,1190.6 L681.5,1192.2 L684.0,1193.9 L686.5,1195.6 L689.0,1197.3 L691.6,1199.0 L694.1,1200.7 L696.6,1202.4 L699.1,1204.1 L701.6,1205.7 L704.1,1207.4 L706.6,1209.1 L709.1,1210.8 L711.6,1212.5 L714.1,1214.2 L716.6,1215.9 L719.0,1217.6 L721.5,1219.3 L724.0,1221.0 L726.5,1222.7 L728.9,1224.5 L731.4,1226.2 L733.9,1227.9 L736.3,1229.6 L738.8,1231.3 L741.3,1233.0 L743.7,1234.7 L746.2,1236.4 L748.6,1238.2 L751.1,1239.9 L753.5,1241.6 L756.0,1243.3 L758.4,1245.0 L760.9,1246.8 L763.3,1248.5 L765.8,1250.2 L768.2,1251.9 L770.6,1253.7 L773.1,1255.4 L775.5,1257.1 L777.9,1258.9 L780.4,1260.6 L782.8,1262.3 L785.2,1264.1 L787.6,1265.8 L790.1,1267.5 L792.5,1269.3 L794.9,1271.0 L797.3,1272.7 L799.7,1274.5 L802.2,1276.2 L804.6,1278.0 L807.0,1279.7 L809.4,1281.4 L811.8,1283.2 L814.2,1284.9 L816.6,1286.7 L819.0,1288.4 L821.5,1290.2 L823.9,1291.9 L826.3,1293.7 L828.7,1295.4 L831.1,1297.2 L833.5,1298.9 L835.9,1300.7 L838.3,1302.4 L840.7,1304.2 L843.1,1305.9 L845.5,1307.7 L847.9,1309.4 L850.3,1311.2 L852.7,1312.9 L855.1,1314.7 L857.5,1316.4 L859.9,1318.2 L862.3,1319.9 L864.7,1321.7 L867.1,1323.5 L869.5,1325.2 L871.9,1327.0 L874.3,1328.7 L876.7,1330.5 L879.1,1332.2 L881.5,1334.0 L883.9,1335.8 L886.3,1337.5 L888.7,1339.3 L891.1,1341.0 L893.5,1342.8 L895.9,1344.5 L898.3,1346.3 L900.7,1348.1 L903.1,1349.8 L905.5,1351.6 L907.9,1353.3 L910.3,1355.1 L912.7,1356.9 L915.1,1358.6 L917.5,1360.4 L919.9,1362.1 L922.3,1363.9 L924.7,1365.7 L927.1,1367.4 L929.6,1369.2 L932.0,1371.0 L934.4,1372.7 L936.8,1374.5 L939.2,1376.2 L941.6,1378.0 L944.1,1379.8 L946.5,1381.5 L948.9,1383.3 L951.3,1385.0 L953.7,1386.8 L956.2,1388.5 L958.6,1390.3 L961.0,1392.1 L963.4,1393.8 L965.9,1395.6 L968.3,1397.3 L970.7,1399.1 L973.2,1400.9 L975.6,1402.6 L978.1,1404.4 L980.5,1406.1 L982.9,1407.9 L985.4,1409.6 L987.8,1411.4 L990.3,1413.2 L992.7,1414.9 L995.2,1416.7 L997.6,1418.4 L1000.1,1420.2 L1002.5,1421.9 L1005.0,1423.7 L1007.4,1425.4 L1009.9,1427.2 L1012.3,1429.0 L1014.8,1430.7 L1017.2,1432.5 L1019.7,1434.2 L1022.2,1436.0 L1024.6,1437.7 L1027.1,1439.5 L1029.5,1441.3 L1032.0,1443.0 L1034.5,1444.8 L1036.9,1446.5 L1039.4,1448.3 L1041.8,1450.0 L1044.3,1451.8 L1046.8,1453.6 L1049.2,1455.3 L1051.7,1457.1 L1054.2,1458.8 L1056.6,1460.6 L1059.1,1462.4 L1061.5,1464.1 L1064.0,1465.9 L1066.5,1467.7 L1068.9,1469.4 L1071.4,1471.2 L1073.9,1473.0 L1076.3,1474.7 L1078.8,1476.5 L1081.2,1478.3 L1083.7,1480.0 L1086.2,1481.8 L1088.6,1483.6 L1091.1,1485.3 L1093.6,1487.1 L1096.0,1488.9 L1098.5,1490.6 L1100.9,1492.4 L1103.4,1494.2 L1105.8,1496.0 L1108.3,1497.7 L1110.8,1499.5 L1113.2,1501.3 L1115.7,1503.1 L1118.1,1504.8 L1120.6,1506.6 L1123.0,1508.4 L1125.5,1510.2 L1127.9,1512.0 L1130.4,1513.8 L1132.8,1515.5 L1135.3,1517.3 L1137.7,1519.1 L1140.1,1520.9 L1142.6,1522.7 L1145.0,1524.5 L1147.5,1526.3 L1149.9,1528.1 L1152.3,1529.9 L1154.8,1531.6 L1157.2,1533.4 L1159.6,1535.2 L1162.1,1537.0 L1164.5,1538.8 L1166.9,1540.6 L1169.3,1542.4 L1171.8,1544.2 L1174.2,1546.1 L1176.6,1547.9 L1179.0,1549.7 L1181.4,1551.5 L1183.8,1553.3 L1186.2,1555.1 L1188.7,1556.9 L1191.1,1558.7 L1193.5,1560.5 L1195.9,1562.4 L1198.3,1564.2 L1200.7,1566.0 L1203.1,1567.8 L1205.4,1569.7 L1207.8,1571.5 L1210.2,1573.3 L1212.6,1575.1 L1215.0,1577.0 L1217.4,1578.8 L1219.7,1580.6 L1222.1,1582.5 L1224.5,1584.3 L1226.9,1586.1 L1229.2,1588.0 L1231.6,1589.8 L1233.9,1591.7 L1236.3,1593.5 L1238.7,1595.4 L1241.0,1597.2 L1243.4,1599.1 L1245.7,1600.9 L1248.0,1602.8 L1250.4,1604.7 L1252.7,1606.5 L1255.1,1608.4 L1257.4,1610.2 L1259.7,1612.1 L1262.0,1614.0 L1264.3,1615.8 L1266.7,1617.7 L1269.0,1619.6 L1271.3,1621.5 L1273.6,1623.4 L1275.9,1625.2 L1278.2,1627.1 L1280.5,1629.0 L1282.8,1630.9 L1285.1,1632.8 L1287.3,1634.7 L1289.6,1636.6 L1291.9,1638.5 L1294.2,1640.4 L1296.4,1642.3 L1298.7,1644.2 L1300.9,1646.1 L1303.2,1648.0 L1303.2,1648.0 L1303.3,1537.0 L1304.5,1537.0 L1305.2,1022.0 L1305.2,1022.0 L1307.6,1023.9 L1309.9,1025.7 L1312.3,1027.6 L1314.6,1029.5 L1317.0,1031.4 L1319.4,1033.2 L1321.7,1035.1 L1324.1,1037.0 L1326.5,1038.8 L1328.8,1040.7 L1331.2,1042.6 L1333.6,1044.4 L1335.9,1046.3 L1338.3,1048.2 L1340.6,1050.0 L1343.0,1051.9 L1345.4,1053.8 L1347.7,1055.7 L1350.1,1057.5 L1352.5,1059.4 L1354.8,1061.3 L1357.2,1063.1 L1359.6,1065.0 L1361.9,1066.8 L1364.3,1068.7 L1366.7,1070.6 L1369.0,1072.4 L1371.4,1074.3 L1373.8,1076.2 L1376.1,1078.0 L1378.5,1079.9 L1380.9,1081.8 L1383.2,1083.6 L1385.6,1085.5 L1388.0,1087.4 L1390.3,1089.2 L1392.7,1091.1 L1395.1,1092.9 L1397.5,1094.8 L1399.8,1096.7 L1402.2,1098.5 L1404.6,1100.4 L1406.9,1102.2 L1409.3,1104.1 L1411.7,1106.0 L1414.0,1107.8 L1416.4,1109.7 L1418.8,1111.5 L1421.2,1113.4 L1423.5,1115.3 L1425.9,1117.1 L1428.3,1119.0 L1430.6,1120.8 L1433.0,1122.7 L1435.4,1124.6 L1437.8,1126.4 L1440.1,1128.3 L1442.5,1130.1 L1444.9,1132.0 L1447.2,1133.8 L1449.6,1135.7 L1452.0,1137.6 L1454.4,1139.4 L1456.7,1141.3 L1459.1,1143.1 L1461.5,1145.0 L1463.9,1146.8 L1466.2,1148.7 L1468.6,1150.5 L1471.0,1152.4 L1473.4,1154.2 L1475.7,1156.1 L1478.1,1158.0 L1480.5,1159.8 L1482.9,1161.7 L1485.2,1163.5 L1487.6,1165.4 L1490.0,1167.2 L1492.4,1169.1 L1494.7,1170.9 L1497.1,1172.8 L1499.5,1174.6 L1501.9,1176.5 L1504.3,1178.3 L1506.6,1180.2 L1509.0,1182.0 L1511.4,1183.9 L1513.8,1185.7 L1516.1,1187.6 L1518.5,1189.4 L1520.9,1191.3 L1523.3,1193.1 L1525.7,1195.0 L1528.0,1196.8 L1530.4,1198.7 L1532.8,1200.5 L1535.2,1202.4 L1537.5,1204.2 L1539.9,1206.1 L1542.3,1207.9 L1544.7,1209.8 L1547.1,1211.6 L1549.4,1213.5 L1551.8,1215.3 L1554.2,1217.2 L1556.6,1219.0 L1559.0,1220.9 L1561.3,1222.7 L1563.7,1224.5 L1566.1,1226.4 L1568.5,1228.2 L1570.9,1230.1 L1573.3,1231.9 L1575.6,1233.8 L1578.0,1235.6 L1580.4,1237.5 L1582.8,1239.3 L1585.2,1241.2 L1587.5,1243.0 L1589.9,1244.8 L1592.3,1246.7 L1594.7,1248.5 L1597.1,1250.4 L1599.5,1252.2 L1601.8,1254.1 L1604.2,1255.9 L1606.6,1257.7 L1609.0,1259.6 L1611.4,1261.4 L1613.8,1263.3 L1616.1,1265.1 L1618.5,1267.0 L1620.9,1268.8 L1623.3,1270.6 L1625.7,1272.5 L1628.1,1274.3 L1630.4,1276.2 L1632.8,1278.0 L1635.2,1279.8 L1637.6,1281.7 L1640.0,1283.5 L1642.4,1285.4 L1644.8,1287.2 L1647.1,1289.1 L1649.5,1290.9 L1651.9,1292.7 L1654.3,1294.6 L1656.7,1296.4 L1659.1,1298.3 L1661.5,1300.1 L1663.8,1301.9 L1666.2,1303.8 L1668.6,1305.6 L1671.0,1307.4 L1673.4,1309.3 L1675.8,1311.1 L1678.2,1313.0 L1680.5,1314.8 L1682.9,1316.6 L1685.3,1318.5 L1687.7,1320.3 L1690.1,1322.2 L1692.5,1324.0 L1694.9,1325.8 L1697.3,1327.7 L1699.6,1329.5 L1702.0,1331.3 L1704.4,1333.2 L1706.8,1335.0 L1709.2,1336.8 L1711.6,1338.7 L1714.0,1340.5 L1716.4,1342.4 L1718.7,1344.2 L1721.1,1346.0 L1723.5,1347.9 L1725.9,1349.7 L1728.3,1351.5 L1730.7,1353.4 L1733.1,1355.2 L1735.5,1357.0 L1737.9,1358.9 L1740.2,1360.7 L1742.6,1362.5 L1745.0,1364.4 L1747.4,1366.2 L1749.8,1368.1 L1752.2,1369.9 L1754.6,1371.7 L1757.0,1373.6 L1759.4,1375.4 L1761.8,1377.2 L1764.1,1379.1 L1766.5,1380.9 L1768.9,1382.7 L1771.3,1384.6 L1773.7,1386.4 L1776.1,1388.2 L1778.5,1390.1 L1780.9,1391.9 L1783.3,1393.7 L1785.7,1395.6 L1788.0,1397.4 L1790.4,1399.2 L1792.8,1401.1 L1795.2,1402.9 L1797.6,1404.7 L1800.0,1406.6 L1802.4,1408.4 L1804.8,1410.2 L1807.2,1412.1 L1809.6,1413.9 L1812.0,1415.7 L1814.4,1417.5 L1816.7,1419.4 L1819.1,1421.2 L1821.5,1423.0 L1823.9,1424.9 L1826.3,1426.7 L1828.7,1428.5 L1831.1,1430.4 L1833.5,1432.2 L1835.9,1434.0 L1838.3,1435.9 L1840.7,1437.7 L1843.1,1439.5 L1845.5,1441.4 L1847.8,1443.2 L1850.2,1445.0 L1852.6,1446.8 L1855.0,1448.7 L1857.4,1450.5 L1859.8,1452.3 L1862.2,1454.2 L1864.6,1456.0 L1867.0,1457.8 L1869.4,1459.7 L1871.8,1461.5 L1874.2,1463.3 L1876.6,1465.1 L1879.0,1467.0 L1881.3,1468.8 L1883.7,1470.6 L1886.1,1472.5 L1888.5,1474.3 L1890.9,1476.1 L1893.3,1478.0 L1895.7,1479.8 L1898.1,1481.6 L1900.5,1483.4 L1902.9,1485.3 L1905.3,1487.1 L1907.7,1488.9 L1910.1,1490.8 L1912.5,1492.6 L1914.9,1494.4 L1917.2,1496.3 L1919.6,1498.1 L1922.0,1499.9 L1924.4,1501.7 L1926.8,1503.6 L1929.2,1505.4 L1931.6,1507.2 L1934.0,1509.1 L1936.4,1510.9 L1938.8,1512.7 L1941.2,1514.5 L1943.6,1516.4 L1946.0,1518.2 L1948.4,1520.0 L1950.8,1521.9 L1953.2,1523.7 L1955.6,1525.5 L1958.0,1527.3 L1960.3,1529.2 L1962.7,1531.0 L1965.1,1532.8 L1967.5,1534.7 L1969.9,1536.5 L1972.3,1538.3 L1974.7,1540.1 L1977.1,1542.0 L1979.5,1543.8 L1981.9,1545.6 L1984.3,1547.4 L1986.7,1549.3 L1989.1,1551.1 L1991.5,1552.9 L1993.9,1554.8 L1996.3,1556.6 L1998.7,1558.4 L2001.1,1560.2 L2003.4,1562.1 L2005.8,1563.9 L2008.2,1565.7 L2010.6,1567.6 L2013.0,1569.4 L2015.4,1571.2 L2017.8,1573.0 L2020.2,1574.9 L2022.6,1576.7 L2025.0,1578.5 L2027.4,1580.4 L2029.8,1582.2 L2032.2,1584.0 L2034.6,1585.8 L2037.0,1587.7 L2039.4,1589.5 L2041.8,1591.3 L2044.2,1593.2 L2046.6,1595.0 L2048.9,1596.8 L2051.3,1598.6 L2053.7,1600.5 L2056.1,1602.3 L2058.5,1604.1 L2060.9,1605.9 L2063.3,1607.8 L2065.7,1609.6 L2068.1,1611.4 L2070.5,1613.3 L2072.9,1615.1 L2075.3,1616.9 L2077.7,1618.7 L2080.1,1620.6 L2082.5,1622.4 L2084.9,1624.2 L2087.3,1626.1 L2089.7,1627.9 L2092.1,1629.7 L2094.5,1631.5 L2096.8,1633.4 L2099.2,1635.2 L2101.6,1637.0 L2104.0,1638.9 L2106.4,1640.7 L2108.8,1642.5 L2111.2,1644.3 L2113.6,1646.2 L2116.0,1648.0 L2116.0,1648.0 L2117.5,1022.0 M2118.0,1022.0 L2124.9,1030.6 L2167.7,1060.1" fill="none" stroke="#0000ff" stroke-width="7" stroke-linejoin="round" clip-path="url(#c1)"/>
<path d="M314.0,1493.1 L317.0,1493.0 L320.0,1492.9 L323.1,1492.8 L326.1,1492.8 L329.1,1492.7 L332.1,1492.7 L335.1,1492.7 L338.1,1492.7 L341.1,1492.7 L344.2,1492.7 L347.2,1492.8 L350.2,1492.9 L353.2,1493.0 L356.2,1493.1 L359.2,1493.2 L362.2,1493.3 L365.2,1493.5 L368.2,1493.6 L371.2,1493.8 L374.2,1494.0 L377.2,1494.2 L380.2,1494.4 L383.2,1494.6 L386.2,1494.9 L389.2,1495.1 L392.2,1495.4 L395.1,1495.7 L398.1,1496.0 L401.1,1496.3 L404.1,1496.6 L407.1,1496.9 L410.1,1497.3 L413.1,1497.6 L416.0,1498.0 L419.0,1498.4 L422.0,1498.8 L425.0,1499.2 L428.0,1499.6 L430.9,1500.0 L433.9,1500.4 L436.9,1500.9 L439.9,1501.3 L442.8,1501.8 L445.8,1502.3 L448.8,1502.7 L451.7,1503.2 L454.7,1503.7 L457.7,1504.2 L460.6,1504.7 L463.6,1505.2 L466.6,1505.8 L469.5,1506.3 L472.5,1506.9 L475.4,1507.4 L478.4,1508.0 L481.4,1508.5 L484.3,1509.1 L487.3,1509.7 L490.2,1510.3 L493.2,1510.9 L496.1,1511.4 L499.1,1512.1 L502.0,1512.7 L505.0,1513.3 L507.9,1513.9 L510.9,1514.5 L513.8,1515.1 L516.8,1515.8 L519.7,1516.4 L522.6,1517.0 L525.6,1517.7 L528.5,1518.3 L531.5,1518.9 L534.4,1519.5 L537.4,1520.1 L540.4,1520.6 L543.3,1521.1 L546.3,1521.6 L549.3,1522.0 L552.3,1522.4 L555.3,1522.7 L558.4,1523.0 L561.4,1523.2 L564.5,1523.3 L567.6,1523.4 L570.7,1523.4 L573.8,1523.2 L576.8,1522.9 L579.8,1522.5 L582.6,1521.8 L585.4,1520.9 L588.1,1519.7 L590.6,1518.3 L592.9,1516.6 L595.2,1514.7 L597.2,1512.7 L599.2,1510.5 L601.0,1508.3 L602.6,1506.0 L604.2,1503.6 L605.6,1501.1 L606.9,1498.6 L608.1,1495.9 L609.2,1493.3 L610.2,1490.5 L611.1,1487.7 L612.0,1484.8 L612.7,1481.9 L613.4,1479.0 L614.0,1476.0 L614.6,1473.0 L615.1,1469.9 L615.5,1466.8 L615.9,1463.7 L616.3,1460.6 L616.6,1457.5 L616.9,1454.4 L617.2,1451.2 L617.4,1448.1 L617.7,1445.0 L617.9,1441.8 L618.1,1438.7 L618.4,1435.7 L618.6,1432.6 L618.9,1429.5 L619.1,1426.5 L619.4,1423.5 L619.7,1420.5 L620.0,1417.5 L620.2,1414.6 L620.5,1411.6 L620.8,1408.7 L621.1,1405.8 L621.5,1402.8 L621.8,1399.9 L622.1,1397.0 L622.5,1394.1 L622.8,1391.2 L623.1,1388.3 L623.5,1385.4 L623.9,1382.5 L624.2,1379.6 L624.6,1376.7 L625.0,1373.8 L625.4,1370.9 L625.8,1368.0 L626.2,1365.1 L626.6,1362.2 L627.0,1359.2 L627.5,1356.3 L627.9,1353.3 L628.3,1350.3 L628.8,1347.3 L629.2,1344.3 L629.7,1341.3 L630.2,1338.3 L630.6,1335.2 L631.1,1332.1 L631.6,1329.0 L632.1,1325.9 L632.7,1322.8 L633.3,1319.6 L633.9,1316.5 L634.7,1313.4 L635.6,1310.4 L636.6,1307.4 L637.8,1304.4 L639.1,1301.5 L640.7,1298.7 L642.4,1296.0 L644.3,1293.6 L646.4,1291.5 L648.6,1289.7 L651.0,1288.3 L653.5,1287.3 L656.1,1286.5 L658.8,1286.0 L661.5,1285.7 L664.4,1285.7 L667.3,1285.8 L670.3,1286.0 L673.2,1286.3 L676.2,1286.8 L679.2,1287.3 L682.2,1287.8 L685.2,1288.3 L688.2,1288.8 L691.1,1289.4 L694.1,1290.0 L697.0,1290.6 L700.0,1291.3 L702.9,1292.0 L705.9,1292.7 L708.8,1293.4 L711.7,1294.1 L714.6,1294.9 L717.5,1295.6 L720.4,1296.4 L723.3,1297.2 L726.2,1298.1 L729.0,1298.9 L731.9,1299.8 L734.8,1300.7 L737.6,1301.6 L740.5,1302.5 L743.3,1303.5 L746.2,1304.4 L749.0,1305.4 L751.8,1306.4 L754.7,1307.4 L757.5,1308.4 L760.3,1309.5 L763.1,1310.5 L765.9,1311.6 L768.7,1312.6 L771.5,1313.7 L774.3,1314.8 L777.1,1315.9 L779.9,1317.1 L782.7,1318.2 L785.4,1319.4 L788.2,1320.5 L791.0,1321.7 L793.8,1322.9 L796.5,1324.0 L799.3,1325.2 L802.0,1326.4 L804.8,1327.6 L807.5,1328.9 L810.3,1330.1 L813.1,1331.3 L815.8,1332.6 L818.5,1333.8 L821.3,1335.0 L824.0,1336.3 L826.8,1337.6 L829.5,1338.8 L832.2,1340.1 L835.0,1341.4 L837.7,1342.6 L840.4,1343.9 L843.2,1345.2 L845.9,1346.5 L848.6,1347.8 L851.4,1349.0 L854.1,1350.3 L856.8,1351.6 L859.6,1352.9 L862.3,1354.2 L865.0,1355.5 L867.7,1356.7 L870.5,1358.0 L873.2,1359.3 L875.9,1360.6 L878.7,1361.9 L881.4,1363.2 L884.1,1364.4 L886.8,1365.7 L889.6,1367.0 L892.3,1368.3 L895.0,1369.6 L897.8,1370.9 L900.5,1372.1 L903.2,1373.4 L905.9,1374.7 L908.7,1376.0 L911.4,1377.3 L914.1,1378.6 L916.8,1379.9 L919.6,1381.1 L922.3,1382.4 L925.0,1383.7 L927.7,1385.0 L930.5,1386.3 L933.2,1387.6 L935.9,1388.9 L938.6,1390.1 L941.3,1391.4 L944.1,1392.7 L946.8,1394.0 L949.5,1395.3 L952.2,1396.6 L955.0,1397.9 L957.7,1399.1 L960.4,1400.4 L963.1,1401.7 L965.8,1403.0 L968.6,1404.3 L971.3,1405.6 L974.0,1406.9 L976.7,1408.2 L979.4,1409.5 L982.2,1410.7 L984.9,1412.0 L987.6,1413.3 L990.3,1414.6 L993.0,1415.9 L995.8,1417.2 L998.5,1418.5 L1001.2,1419.8 L1003.9,1421.1 L1006.6,1422.4 L1009.4,1423.6 L1012.1,1424.9 L1014.8,1426.2 L1017.5,1427.5 L1020.2,1428.8 L1022.9,1430.1 L1025.7,1431.4 L1028.4,1432.7 L1031.1,1434.0 L1033.8,1435.3 L1036.5,1436.6 L1039.2,1437.9 L1041.9,1439.2 L1044.7,1440.5 L1047.4,1441.8 L1050.1,1443.1 L1052.8,1444.3 L1055.5,1445.6 L1058.2,1446.9 L1060.9,1448.2 L1063.7,1449.5 L1066.4,1450.8 L1069.1,1452.1 L1071.8,1453.4 L1074.5,1454.7 L1077.2,1456.0 L1079.9,1457.3 L1082.6,1458.6 L1085.3,1459.9 L1088.1,1461.2 L1090.8,1462.5 L1093.5,1463.8 L1096.2,1465.1 L1098.9,1466.4 L1101.6,1467.7 L1104.3,1469.0 L1107.0,1470.3 L1109.7,1471.7 L1112.4,1473.0 L1115.1,1474.3 L1117.9,1475.6 L1120.6,1476.9 L1123.3,1478.2 L1126.0,1479.5 L1128.7,1480.8 L1131.4,1482.1 L1134.1,1483.4 L1136.8,1484.7 L1139.5,1486.0 L1142.2,1487.3 L1144.9,1488.6 L1147.6,1490.0 L1150.3,1491.3 L1153.0,1492.6 L1155.7,1493.9 L1158.4,1495.2 L1161.1,1496.5 L1163.8,1497.8 L1166.5,1499.1 L1169.2,1500.5 L1171.9,1501.8 L1174.6,1503.1 L1177.3,1504.4 L1180.0,1505.7 L1182.8,1507.0 L1185.5,1508.4 L1188.2,1509.7 L1190.9,1511.0 L1193.6,1512.3 L1196.3,1513.6 L1199.0,1515.0 L1201.6,1516.3 L1204.3,1517.6 L1207.0,1518.9 L1209.7,1520.3 L1212.4,1521.6 L1215.1,1522.9 L1217.8,1524.2 L1220.5,1525.6 L1223.2,1526.9 L1225.9,1528.2 L1228.6,1529.5 L1231.3,1530.9 L1234.0,1532.2 L1236.7,1533.5 L1239.4,1534.9 L1242.1,1536.2 L1244.8,1537.5 L1247.5,1538.8 L1250.2,1540.2 L1252.9,1541.5 L1255.6,1542.8 L1258.3,1544.2 L1261.0,1545.5 L1263.6,1546.9 L1266.3,1548.2 L1269.0,1549.5 L1271.7,1550.9 L1274.4,1552.2 L1277.1,1553.5 L1279.8,1554.9 L1282.5,1556.2 L1285.2,1557.6 L1287.9,1558.9 L1290.6,1560.3 L1293.2,1561.6 L1295.9,1562.9 L1298.6,1564.3 L1301.3,1565.6 L1304.0,1567.0 L1306.7,1568.3 L1309.4,1569.7 L1312.1,1571.0 L1314.7,1572.4 L1317.4,1573.7 L1320.1,1575.1 L1322.8,1576.4 L1325.5,1577.8 L1328.2,1579.2 L1330.9,1580.5 L1333.5,1581.9 L1336.2,1583.2 L1338.9,1584.6 L1341.6,1585.9 L1344.3,1587.3 L1347.0,1588.7 L1349.6,1590.0 L1352.3,1591.4 L1355.0,1592.7 L1357.7,1594.1 L1360.4,1595.5 L1363.0,1596.8 L1365.7,1598.2 L1368.4,1599.6 L1371.1,1600.9 L1373.8,1602.3 L1376.4,1603.7 L1379.1,1605.0 L1381.8,1606.4 L1384.5,1607.8 L1387.2,1609.2 L1389.8,1610.5 L1392.5,1611.9 L1395.2,1613.3 L1397.9,1614.7 L1400.5,1616.0 L1403.2,1617.4 L1405.9,1618.8 L1408.6,1620.2 L1411.2,1621.6 L1413.9,1622.9 L1416.6,1624.3 L1419.3,1625.7 L1421.9,1627.1 L1424.6,1628.5 L1427.3,1629.9 L1430.0,1631.3 L1432.6,1632.7 L1435.3,1634.0 L1438.0,1635.4 L1440.6,1636.8 L1443.3,1638.2 L1446.0,1639.6 L1448.7,1641.0 L1451.3,1642.4 L1454.0,1643.8 L1456.7,1645.2 L1459.3,1646.6 L1462.0,1648.0 L1462.0,1648.0 L1462.0,1551.0 L1463.0,1551.0 L1463.5,1022.0 L1463.5,1022.0 L1465.9,1023.7 L1468.3,1025.3 L1470.8,1026.9 L1473.3,1028.6 L1475.9,1030.2 L1478.5,1031.8 L1481.1,1033.5 L1483.7,1035.1 L1486.3,1036.8 L1488.9,1038.5 L1491.5,1040.2 L1494.0,1042.0 L1496.5,1043.8 L1498.9,1045.7 L1501.3,1047.5 L1503.6,1049.5 L1505.8,1051.5 L1508.0,1053.5 L1510.0,1055.7 L1511.9,1057.8 L1513.8,1060.1 L1515.5,1062.4 L1517.1,1064.8 L1518.6,1067.3 L1520.0,1069.8 L1521.3,1072.4 L1522.6,1075.0 L1523.7,1077.7 L1524.8,1080.4 L1525.8,1083.1 L1526.7,1085.9 L1527.6,1088.8 L1528.4,1091.6 L1529.1,1094.5 L1529.8,1097.4 L1530.5,1100.3 L1531.1,1103.3 L1531.6,1106.2 L1532.2,1109.2 L1532.7,1112.1 L1533.1,1115.1 L1533.6,1118.1 L1534.0,1121.0 L1534.4,1124.0 L1534.7,1127.0 L1535.1,1130.0 L1535.4,1133.0 L1535.7,1136.0 L1535.9,1139.0 L1536.2,1142.0 L1536.4,1145.1 L1536.6,1148.1 L1536.8,1151.1 L1536.9,1154.1 L1537.1,1157.2 L1537.2,1160.2 L1537.3,1163.2 L1537.4,1166.3 L1537.5,1169.3 L1537.6,1172.4 L1537.6,1175.4 L1537.7,1178.4 L1537.7,1181.5 L1537.7,1184.5 L1537.8,1187.6 L1537.8,1190.6 L1537.8,1193.7 L1537.8,1196.7 L1537.8,1199.8 L1537.8,1202.8 L1537.8,1205.9 L1537.8,1209.0 L1537.8,1212.0 L1537.8,1215.1 L1537.8,1218.1 L1537.8,1221.2 L1537.8,1224.2 L1537.9,1227.2 L1537.9,1230.3 L1537.9,1233.3 L1538.0,1236.4 L1538.0,1239.4 L1538.1,1242.4 L1538.1,1245.5 L1538.2,1248.5 L1538.3,1251.5 L1538.4,1254.5 L1538.5,1257.6 L1538.7,1260.6 L1538.8,1263.6 L1539.0,1266.6 L1539.2,1269.6 L1539.4,1272.6 L1539.6,1275.6 L1539.9,1278.6 L1540.1,1281.6 L1540.4,1284.5 L1540.7,1287.5 L1541.1,1290.5 L1541.5,1293.4 L1541.9,1296.4 L1542.3,1299.3 L1542.7,1302.3 L1543.2,1305.2 L1543.7,1308.1 L1544.3,1311.0 L1544.9,1313.9 L1545.5,1316.8 L1546.1,1319.7 L1546.8,1322.6 L1547.5,1325.5 L1548.3,1328.4 L1549.1,1331.2 L1549.9,1334.1 L1550.8,1336.9 L1551.7,1339.7 L1552.7,1342.6 L1553.7,1345.3 L1554.8,1348.1 L1556.0,1350.8 L1557.2,1353.5 L1558.5,1356.1 L1559.8,1358.7 L1561.3,1361.2 L1562.8,1363.7 L1564.4,1366.0 L1566.1,1368.4 L1568.0,1370.6 L1569.9,1372.7 L1571.9,1374.7 L1574.1,1376.7 L1576.3,1378.5 L1578.7,1380.3 L1581.1,1381.9 L1583.6,1383.5 L1586.2,1385.1 L1588.8,1386.6 L1591.5,1388.1 L1594.2,1389.5 L1597.0,1390.9 L1599.7,1392.3 L1602.4,1393.7 L1605.2,1395.1 L1607.9,1396.5 L1610.6,1397.9 L1613.3,1399.3 L1616.1,1400.7 L1618.8,1402.1 L1621.5,1403.5 L1624.2,1404.9 L1626.9,1406.4 L1629.6,1407.8 L1632.3,1409.2 L1635.0,1410.6 L1637.7,1412.0 L1640.4,1413.4 L1643.1,1414.8 L1645.8,1416.2 L1648.5,1417.6 L1651.2,1419.0 L1653.9,1420.4 L1656.5,1421.8 L1659.2,1423.2 L1661.9,1424.6 L1664.6,1426.0 L1667.3,1427.4 L1669.9,1428.8 L1672.6,1430.2 L1675.3,1431.7 L1677.9,1433.1 L1680.6,1434.5 L1683.3,1435.9 L1685.9,1437.3 L1688.6,1438.7 L1691.3,1440.0 L1693.9,1441.4 L1696.6,1442.8 L1699.3,1444.2 L1701.9,1445.6 L1704.6,1447.0 L1707.2,1448.4 L1709.9,1449.8 L1712.6,1451.2 L1715.2,1452.6 L1717.9,1454.0 L1720.5,1455.3 L1723.2,1456.7 L1725.9,1458.1 L1728.5,1459.5 L1731.2,1460.9 L1733.8,1462.2 L1736.5,1463.6 L1739.2,1465.0 L1741.8,1466.4 L1744.5,1467.7 L1747.1,1469.1 L1749.8,1470.5 L1752.5,1471.8 L1755.1,1473.2 L1757.8,1474.6 L1760.5,1475.9 L1763.1,1477.3 L1765.8,1478.6 L1768.5,1480.0 L1771.2,1481.3 L1773.8,1482.7 L1776.5,1484.0 L1779.2,1485.4 L1781.9,1486.7 L1784.6,1488.0 L1787.2,1489.4 L1789.9,1490.7 L1792.6,1492.0 L1795.3,1493.3 L1798.0,1494.7 L1800.7,1496.0 L1803.4,1497.3 L1806.1,1498.6 L1808.8,1499.9 L1811.5,1501.2 L1814.2,1502.6 L1816.9,1503.9 L1819.6,1505.2 L1822.3,1506.5 L1825.0,1507.8 L1827.7,1509.1 L1830.4,1510.4 L1833.1,1511.7 L1835.8,1513.0 L1838.6,1514.2 L1841.3,1515.5 L1844.0,1516.8 L1846.7,1518.1 L1849.4,1519.4 L1852.1,1520.7 L1854.9,1522.0 L1857.6,1523.2 L1860.3,1524.5 L1863.0,1525.8 L1865.8,1527.1 L1868.5,1528.3 L1871.2,1529.6 L1874.0,1530.9 L1876.7,1532.2 L1879.4,1533.4 L1882.1,1534.7 L1884.9,1536.0 L1887.6,1537.3 L1890.3,1538.5 L1893.1,1539.8 L1895.8,1541.1 L1898.5,1542.3 L1901.3,1543.6 L1904.0,1544.9 L1906.7,1546.1 L1909.5,1547.4 L1912.2,1548.6 L1914.9,1549.9 L1917.7,1551.2 L1920.4,1552.4 L1923.2,1553.7 L1925.9,1555.0 L1928.6,1556.2 L1931.4,1557.5 L1934.1,1558.8 L1936.8,1560.0 L1939.6,1561.3 L1942.3,1562.6 L1945.1,1563.8 L1947.8,1565.1 L1950.5,1566.4 L1953.3,1567.6 L1956.0,1568.9 L1958.7,1570.2 L1961.5,1571.4 L1964.2,1572.7 L1966.9,1574.0 L1969.7,1575.2 L1972.4,1576.5 L1975.1,1577.8 L1977.9,1579.1 L1980.6,1580.3 L1983.3,1581.6 L1986.0,1582.9 L1988.8,1584.2 L1991.5,1585.4 L1994.2,1586.7 L1996.9,1588.0 L1999.7,1589.3 L2002.4,1590.6 L2005.1,1591.9 L2007.8,1593.2 L2010.6,1594.4 L2013.3,1595.7 L2016.0,1597.0 L2018.7,1598.3 L2021.4,1599.6 L2024.1,1600.9 L2026.9,1602.2 L2029.6,1603.5 L2032.3,1604.8 L2035.0,1606.1 L2037.7,1607.4 L2040.4,1608.8 L2043.1,1610.1 L2045.8,1611.4 L2048.5,1612.7 L2051.2,1614.0 L2053.9,1615.3 L2056.6,1616.7 L2059.3,1618.0 L2062.0,1619.3 L2064.7,1620.7 L2067.4,1622.0 L2070.0,1623.3 L2072.7,1624.7 L2075.4,1626.0 L2078.1,1627.4 L2080.8,1628.7 L2083.4,1630.1 L2086.1,1631.4 L2088.8,1632.8 L2091.4,1634.2 L2094.1,1635.5 L2096.8,1636.9 L2099.4,1638.3 L2102.1,1639.7 L2104.8,1641.0 L2107.4,1642.4 L2110.1,1643.8 L2112.7,1645.2 L2115.4,1646.6 L2118.0,1648.0 L2118.0,1648.0 L2119.5,1614.0 L2120.5,1614.0 L2121.6,1022.0 L2121.6,1022.0 L2167.7,1044.4" fill="none" stroke="#ff0000" stroke-width="7" stroke-linejoin="round" clip-path="url(#c1)"/>
<path d="M384.3,2044.0 L384.8,2047.0 L385.3,2050.0 L385.8,2053.0 L386.2,2056.1 L386.7,2059.1 L387.1,2062.1 L387.4,2065.2 L387.8,2068.2 L388.2,2071.3 L388.5,2074.3 L388.8,2077.4 L389.1,2080.4 L389.4,2083.5 L389.7,2086.5 L390.0,2089.6 L390.2,2092.7 L390.5,2095.7 L390.8,2098.8 L391.0,2101.9 L391.3,2105.0 L391.5,2108.0 L391.8,2111.1 L392.0,2114.2 L392.3,2117.3 L392.5,2120.3 L392.8,2123.4 L393.1,2126.5 L393.4,2129.5 L393.7,2132.6 L394.0,2135.7 L394.3,2138.7 L394.6,2141.8 L395.0,2144.9 L395.4,2147.9 L395.7,2151.0 L396.2,2154.0 L396.6,2157.0 L397.2,2160.0 L397.8,2163.0 L398.5,2165.9 L399.3,2168.7 L400.3,2171.5 L401.3,2174.2 L402.6,2176.8 L404.0,2179.3 L404.0,2179.3 L406.0,2178.4 L409.3,2178.4 L411.2,2181.5 L412.3,2186.0 L412.3,2186.0 L412.8,2189.4 L413.5,2192.6 L414.5,2195.7 L415.5,2198.5 L416.8,2201.2 L418.2,2203.8 L419.8,2206.2 L421.6,2208.4 L423.5,2210.5 L425.5,2212.5 L427.6,2214.4 L429.8,2216.1 L432.2,2217.7 L434.6,2219.2 L437.1,2220.7 L439.7,2222.0 L442.4,2223.2 L445.1,2224.4 L447.9,2225.5 L450.7,2226.5 L453.6,2227.5 L456.5,2228.5 L459.4,2229.4 L462.3,2230.2 L465.2,2231.0 L468.1,2231.8 L471.0,2232.6 L474.0,2233.3 L476.9,2234.0 L479.8,2234.7 L482.8,2235.3 L485.7,2235.9 L488.7,2236.5 L491.6,2237.1 L494.6,2237.7 L497.5,2238.2 L500.5,2238.7 L503.5,2239.2 L506.4,2239.7 L509.4,2240.2 L512.4,2240.6 L515.4,2241.0 L518.3,2241.5 L521.3,2241.9 L524.3,2242.3 L527.3,2242.7 L530.3,2243.1 L533.2,2243.5 L536.2,2243.8 L539.2,2244.2 L542.2,2244.6 L545.2,2244.9 L548.2,2245.3 L551.2,2245.7 L554.1,2246.1 L557.1,2246.4 L560.1,2246.8 L563.1,2247.2 L566.1,2247.6 L569.1,2247.9 L572.1,2248.3 L575.0,2248.7 L578.0,2249.1 L581.0,2249.4 L584.0,2249.8 L587.0,2250.2 L590.0,2250.6 L592.9,2251.0 L595.9,2251.3 L598.9,2251.7 L601.9,2252.1 L604.9,2252.5 L607.9,2252.8 L610.9,2253.2 L613.8,2253.6 L616.8,2254.0 L619.8,2254.4 L622.8,2254.7 L625.8,2255.1 L628.8,2255.5 L631.7,2255.9 L634.7,2256.3 L637.7,2256.6 L640.7,2257.0 L643.7,2257.4 L646.7,2257.8 L649.7,2258.2 L652.6,2258.5 L655.6,2258.9 L658.6,2259.3 L661.6,2259.7 L664.6,2260.1 L667.6,2260.4 L670.5,2260.8 L673.5,2261.2 L676.5,2261.6 L679.5,2261.9 L682.5,2262.3 L685.5,2262.7 L688.4,2263.0 L691.4,2263.4 L694.4,2263.8 L697.4,2264.2 L700.4,2264.5 L703.4,2264.9 L706.4,2265.3 L709.3,2265.6 L712.3,2266.0 L715.3,2266.4 L718.3,2266.7 L721.3,2267.1 L724.3,2267.4 L727.2,2267.8 L730.2,2268.2 L733.2,2268.5 L736.2,2268.9 L739.2,2269.2 L742.2,2269.6 L745.2,2269.9 L748.1,2270.3 L751.1,2270.6 L754.1,2271.0 L757.1,2271.3 L760.1,2271.7 L763.1,2272.0 L766.1,2272.3 L769.1,2272.7 L772.0,2273.0 L775.0,2273.4 L778.0,2273.7 L781.0,2274.0 L784.0,2274.3 L787.0,2274.7 L790.0,2275.0 L792.9,2275.3 L795.9,2275.7 L798.9,2276.0 L801.9,2276.3 L804.9,2276.6 L807.9,2276.9 L810.9,2277.2 L813.9,2277.6 L816.9,2277.9 L819.8,2278.2 L822.8,2278.5 L825.8,2278.8 L828.8,2279.1 L831.8,2279.4 L834.8,2279.7 L837.8,2280.0 L840.8,2280.3 L843.8,2280.6 L846.7,2280.9 L849.7,2281.2 L852.7,2281.5 L855.7,2281.8 L858.7,2282.1 L861.7,2282.4 L864.7,2282.7 L867.7,2282.9 L870.7,2283.2 L873.7,2283.5 L876.7,2283.8 L879.6,2284.1 L882.6,2284.3 L885.6,2284.6 L888.6,2284.9 L891.6,2285.2 L894.6,2285.4 L897.6,2285.7 L900.6,2286.0 L903.6,2286.3 L906.6,2286.5 L909.6,2286.8 L912.6,2287.0 L915.5,2287.3 L918.5,2287.6 L921.5,2287.8 L924.5,2288.1 L927.5,2288.3 L930.5,2288.6 L933.5,2288.8 L936.5,2289.1 L939.5,2289.3 L942.5,2289.6 L945.5,2289.8 L948.5,2290.1 L951.5,2290.3 L954.5,2290.6 L957.5,2290.8 L960.4,2291.1 L963.4,2291.3 L966.4,2291.5 L969.4,2291.8 L972.4,2292.0 L975.4,2292.2 L978.4,2292.5 L981.4,2292.7 L984.4,2292.9 L987.4,2293.2 L990.4,2293.4 L993.4,2293.6 L996.4,2293.8 L999.4,2294.1 L1002.4,2294.3 L1005.4,2294.5 L1008.4,2294.7 L1011.4,2294.9 L1014.4,2295.2 L1017.4,2295.4 L1020.3,2295.6 L1023.3,2295.8 L1026.3,2296.0 L1029.3,2296.2 L1032.3,2296.4 L1035.3,2296.6 L1038.3,2296.8 L1041.3,2297.0 L1044.3,2297.2 L1047.3,2297.5 L1050.3,2297.7 L1053.3,2297.9 L1056.3,2298.1 L1059.3,2298.3 L1062.3,2298.4 L1065.3,2298.6 L1068.3,2298.8 L1071.3,2299.0 L1074.3,2299.2 L1077.3,2299.4 L1080.3,2299.6 L1083.3,2299.8 L1086.3,2300.0 L1089.3,2300.2 L1092.3,2300.3 L1095.3,2300.5 L1098.3,2300.7 L1101.3,2300.9 L1104.3,2301.1 L1107.3,2301.3 L1110.3,2301.4 L1113.3,2301.6 L1116.3,2301.8 L1119.3,2302.0 L1122.3,2302.1 L1125.3,2302.3 L1128.3,2302.5 L1131.3,2302.6 L1134.3,2302.8 L1137.3,2303.0 L1140.3,2303.2 L1143.3,2303.3 L1146.3,2303.5 L1149.3,2303.6 L1152.3,2303.8 L1155.3,2304.0 L1158.3,2304.1 L1161.3,2304.3 L1164.3,2304.5 L1167.3,2304.6 L1170.3,2304.8 L1173.3,2304.9 L1176.3,2305.1 L1179.3,2305.2 L1182.3,2305.4 L1185.3,2305.5 L1188.3,2305.7 L1191.3,2305.8 L1194.3,2306.0 L1197.3,2306.1 L1200.3,2306.3 L1203.3,2306.4 L1206.3,2306.6 L1209.3,2306.7 L1212.3,2306.9 L1215.3,2307.0 L1218.3,2307.1 L1221.3,2307.3 L1224.3,2307.4 L1227.3,2307.6 L1230.3,2307.7 L1233.3,2307.8 L1236.3,2308.0 L1239.3,2308.1 L1242.3,2308.2 L1245.3,2308.4 L1248.3,2308.5 L1251.3,2308.6 L1254.3,2308.8 L1257.3,2308.9 L1260.3,2309.0 L1263.3,2309.1 L1266.3,2309.3 L1269.3,2309.4 L1272.3,2309.5 L1275.3,2309.7 L1278.3,2309.8 L1281.3,2309.9 L1284.3,2310.0 L1287.3,2310.1 L1290.3,2310.3 L1293.3,2310.4 L1296.3,2310.5 L1299.3,2310.6 L1302.3,2310.7 L1305.3,2310.8 L1308.3,2311.0 L1311.3,2311.1 L1314.3,2311.2 L1317.4,2311.3 L1320.4,2311.4 L1323.4,2311.5 L1326.4,2311.6 L1329.4,2311.8 L1332.4,2311.9 L1335.4,2312.0 L1338.4,2312.1 L1341.4,2312.2 L1344.4,2312.3 L1347.4,2312.4 L1350.4,2312.5 L1353.4,2312.6 L1356.4,2312.7 L1359.4,2312.8 L1362.4,2312.9 L1365.4,2313.0 L1368.4,2313.1 L1371.4,2313.2 L1374.4,2313.3 L1377.4,2313.4 L1380.4,2313.5 L1383.4,2313.6 L1386.4,2313.7 L1389.4,2313.8 L1392.4,2313.9 L1395.5,2314.0 L1398.5,2314.1 L1401.5,2314.2 L1404.5,2314.3 L1407.5,2314.4 L1410.5,2314.5 L1413.5,2314.6 L1416.5,2314.6 L1419.5,2314.7 L1422.5,2314.8 L1425.5,2314.9 L1428.5,2315.0 L1431.5,2315.1 L1434.5,2315.2 L1437.5,2315.3 L1440.5,2315.4 L1443.5,2315.4 L1446.5,2315.5 L1449.5,2315.6 L1452.5,2315.7 L1455.6,2315.8 L1458.6,2315.9 L1461.6,2315.9 L1464.6,2316.0 L1467.6,2316.1 L1470.6,2316.2 L1473.6,2316.3 L1476.6,2316.4 L1479.6,2316.4 L1482.6,2316.5 L1485.6,2316.6 L1488.6,2316.7 L1491.6,2316.7 L1494.6,2316.8 L1497.6,2316.9 L1500.6,2317.0 L1503.6,2317.1 L1506.6,2317.1 L1509.7,2317.2 L1512.7,2317.3 L1515.7,2317.4 L1518.7,2317.4 L1521.7,2317.5 L1524.7,2317.6 L1527.7,2317.6 L1530.7,2317.7 L1533.7,2317.8 L1536.7,2317.9 L1539.7,2317.9 L1542.7,2318.0 L1545.7,2318.1 L1548.7,2318.1 L1551.7,2318.2 L1554.7,2318.3 L1557.7,2318.4 L1560.8,2318.4 L1563.8,2318.5 L1566.8,2318.6 L1569.8,2318.6 L1572.8,2318.7 L1575.8,2318.8 L1578.8,2318.8 L1581.8,2318.9 L1584.8,2319.0 L1587.8,2319.0 L1590.8,2319.1 L1593.8,2319.2 L1596.8,2319.2 L1599.8,2319.3 L1602.8,2319.3 L1605.8,2319.4 L1608.9,2319.5 L1611.9,2319.5 L1614.9,2319.6 L1617.9,2319.7 L1620.9,2319.7 L1623.9,2319.8 L1626.9,2319.9 L1629.9,2319.9 L1632.9,2320.0 L1635.9,2320.0 L1638.9,2320.1 L1641.9,2320.2 L1644.9,2320.2 L1647.9,2320.3 L1650.9,2320.3 L1654.0,2320.4 L1657.0,2320.5 L1660.0,2320.5 L1663.0,2320.6 L1666.0,2320.6 L1669.0,2320.7 L1672.0,2320.8 L1675.0,2320.8 L1678.0,2320.9 L1681.0,2320.9 L1684.0,2321.0 L1687.0,2321.1 L1690.0,2321.1 L1693.0,2321.2 L1696.0,2321.2 L1699.1,2321.3 L1702.1,2321.4 L1705.1,2321.4 L1708.1,2321.5 L1711.1,2321.5 L1714.1,2321.6 L1717.1,2321.6 L1720.1,2321.7 L1723.1,2321.8 L1726.1,2321.8 L1729.1,2321.9 L1732.1,2321.9 L1735.1,2322.0 L1738.1,2322.0 L1741.1,2322.1 L1744.2,2322.2 L1747.2,2322.2 L1750.2,2322.3 L1753.2,2322.3 L1756.2,2322.4 L1759.2,2322.4 L1762.2,2322.5 L1765.2,2322.6 L1768.2,2322.6 L1771.2,2322.7 L1774.2,2322.7 L1777.2,2322.8 L1780.2,2322.8 L1783.2,2322.9 L1786.2,2323.0 L1789.2,2323.0 L1792.3,2323.1 L1795.3,2323.1 L1798.3,2323.2 L1801.3,2323.2 L1804.3,2323.3 L1807.3,2323.4 L1810.3,2323.4 L1813.3,2323.5 L1816.3,2323.5 L1819.3,2323.6 L1822.3,2323.7 L1825.3,2323.7 L1828.3,2323.8 L1831.3,2323.8 L1834.3,2323.9 L1837.3,2324.0 L1840.4,2324.0 L1843.4,2324.1 L1846.4,2324.1 L1849.4,2324.2 L1852.4,2324.2 L1855.4,2324.3 L1858.4,2324.4 L1861.4,2324.4 L1864.4,2324.5 L1867.4,2324.5 L1870.4,2324.6 L1873.4,2324.7 L1876.4,2324.7 L1879.4,2324.8 L1882.4,2324.9 L1885.4,2324.9 L1888.4,2325.0 L1891.5,2325.0 L1894.5,2325.1 L1897.5,2325.2 L1900.5,2325.2 L1903.5,2325.3 L1906.5,2325.4 L1909.5,2325.4 L1912.5,2325.5 L1915.5,2325.5 L1918.5,2325.6 L1921.5,2325.7 L1924.5,2325.7 L1927.5,2325.8 L1930.5,2325.9 L1933.5,2325.9 L1936.5,2326.0 L1939.5,2326.1 L1942.5,2326.1 L1945.5,2326.2 L1948.6,2326.3 L1951.6,2326.3 L1954.6,2326.4 L1957.6,2326.5 L1960.6,2326.5 L1963.6,2326.6 L1966.6,2326.7 L1969.6,2326.8 L1972.6,2326.8 L1975.6,2326.9 L1978.6,2327.0 L1981.6,2327.0 L1984.6,2327.1 L1987.6,2327.2 L1990.6,2327.3 L1993.6,2327.3 L1996.6,2327.4 L1999.6,2327.5 L2002.6,2327.6 L2005.6,2327.6 L2008.6,2327.7 L2011.6,2327.8 L2014.7,2327.9 L2017.7,2327.9 L2020.7,2328.0 L2023.7,2328.1 L2026.7,2328.2 L2029.7,2328.2 L2032.7,2328.3 L2035.7,2328.4 L2038.7,2328.5 L2041.7,2328.6 L2044.7,2328.6 L2047.7,2328.7 L2050.7,2328.8 L2053.7,2328.9 L2056.7,2329.0 L2059.7,2329.0 L2062.7,2329.1 L2065.7,2329.2 L2068.7,2329.3 L2071.7,2329.4 L2074.7,2329.5 L2077.7,2329.6 L2080.7,2329.6 L2083.7,2329.7 L2086.7,2329.8 L2089.7,2329.9 L2092.7,2330.0 L2095.7,2330.1 L2098.7,2330.2 L2101.7,2330.3 L2104.8,2330.4 L2107.8,2330.5 L2110.8,2330.5 L2113.8,2330.6 L2116.8,2330.7 L2119.8,2330.8 L2122.8,2330.9 L2125.8,2331.0 L2128.8,2331.1 L2131.8,2331.2 L2134.8,2331.3 L2137.8,2331.4 L2140.8,2331.5 L2143.8,2331.6 L2146.8,2331.7 L2149.8,2331.8 L2152.8,2331.9 L2155.8,2332.0 L2158.8,2332.1 L2161.8,2332.2 L2164.8,2332.3 L2167.8,2332.4 L2170.8,2332.5 L2173.8,2332.6 L2176.8,2332.7 L2179.8,2332.9 L2182.8,2333.0 L2185.8,2333.1 L2188.8,2333.2 L2191.8,2333.3 L2194.8,2333.4" fill="none" stroke="#0000ff" stroke-width="7" stroke-linejoin="round" clip-path="url(#c2)"/>
<path d="M448.0,2044.0 L449.1,2046.7 L450.2,2049.4 L451.4,2052.2 L452.5,2054.9 L453.7,2057.6 L454.9,2060.3 L456.1,2063.0 L457.3,2065.7 L458.5,2068.4 L459.7,2071.1 L460.9,2073.8 L462.2,2076.5 L463.5,2079.2 L464.7,2081.9 L466.0,2084.6 L467.3,2087.3 L468.7,2089.9 L470.0,2092.6 L471.3,2095.3 L472.7,2098.0 L474.0,2100.6 L475.4,2103.3 L476.8,2105.9 L478.2,2108.6 L479.6,2111.2 L481.1,2113.9 L482.5,2116.5 L484.0,2119.1 L485.4,2121.8 L486.9,2124.4 L488.4,2127.0 L489.9,2129.6 L491.4,2132.2 L493.0,2134.8 L494.5,2137.4 L496.0,2140.0 L497.6,2142.6 L499.2,2145.2 L500.8,2147.7 L502.4,2150.3 L504.0,2152.9 L505.6,2155.4 L507.2,2157.9 L508.9,2160.5 L510.6,2163.0 L512.2,2165.5 L513.9,2168.1 L515.6,2170.6 L517.3,2173.1 L519.0,2175.6 L520.8,2178.0 L522.5,2180.5 L524.3,2183.0 L526.0,2185.5 L527.8,2187.9 L529.6,2190.4 L531.4,2192.8 L533.2,2195.2 L535.0,2197.6 L536.9,2200.1 L538.7,2202.5 L540.6,2204.9 L542.4,2207.2 L544.3,2209.6 L546.2,2212.0 L548.1,2214.3 L550.0,2216.7 L551.9,2219.0 L553.9,2221.4 L555.8,2223.7 L557.8,2226.0 L559.8,2228.3 L561.7,2230.6 L563.7,2232.9 L565.7,2235.1 L567.7,2237.4 L569.8,2239.6 L571.8,2241.9 L573.9,2244.1 L575.9,2246.3 L578.0,2248.5 L580.1,2250.7 L582.1,2252.9 L584.2,2255.0 L586.4,2257.2 L588.5,2259.3 L590.6,2261.5 L592.8,2263.6 L594.9,2265.7 L597.1,2267.8 L599.3,2269.9 L601.4,2272.0 L603.6,2274.0 L605.8,2276.1 L608.1,2278.1 L610.3,2280.1 L612.5,2282.1 L614.8,2284.1 L617.0,2286.1 L619.3,2288.1 L621.6,2290.0 L623.9,2292.0 L626.2,2293.9 L628.5,2295.8 L630.8,2297.7 L633.1,2299.6 L635.5,2301.4 L637.8,2303.3 L640.2,2305.1 L642.6,2307.0 L644.9,2308.8 L647.3,2310.6 L649.7,2312.4 L652.1,2314.1 L654.6,2315.9 L657.0,2317.6 L659.4,2319.3 L661.9,2321.0 L664.4,2322.7 L666.8,2324.4 L669.3,2326.0 L671.8,2327.7 L674.3,2329.3 L676.8,2330.9 L679.3,2332.5 L681.8,2334.1 L684.4,2335.7 L686.9,2337.2 L689.5,2338.8 L692.0,2340.3 L694.6,2341.8 L697.2,2343.3 L699.8,2344.7 L702.4,2346.2 L705.0,2347.6 L707.6,2349.1 L710.2,2350.5 L712.8,2351.9 L715.5,2353.3 L718.1,2354.6 L720.8,2356.0 L723.4,2357.3 L726.1,2358.6 L728.8,2359.9 L731.4,2361.2 L734.1,2362.5 L736.8,2363.7 L739.5,2365.0 L742.2,2366.2 L745.0,2367.4 L747.7,2368.6 L750.4,2369.8 L753.2,2370.9 L755.9,2372.1 L758.7,2373.2 L761.4,2374.3 L764.2,2375.4 L767.0,2376.5 L769.7,2377.6 L772.5,2378.6 L775.3,2379.7 L778.1,2380.7 L780.9,2381.7 L783.7,2382.7 L786.5,2383.7 L789.4,2384.6 L792.2,2385.6 L795.0,2386.5 L797.9,2387.4 L800.7,2388.3 L803.6,2389.2 L806.4,2390.1 L809.3,2391.0 L812.1,2391.8 L815.0,2392.7 L817.9,2393.5 L820.8,2394.3 L823.6,2395.1 L826.5,2395.9 L829.4,2396.7 L832.3,2397.4 L835.2,2398.2 L838.1,2398.9 L841.0,2399.6 L843.9,2400.4 L846.9,2401.1 L849.8,2401.8 L852.7,2402.4 L855.6,2403.1 L858.6,2403.8 L861.5,2404.4 L864.4,2405.1 L867.4,2405.7 L870.3,2406.3 L873.2,2406.9 L876.2,2407.5 L879.1,2408.1 L882.1,2408.7 L885.1,2409.2 L888.0,2409.8 L891.0,2410.3 L893.9,2410.9 L896.9,2411.4 L899.9,2411.9 L902.8,2412.4 L905.8,2413.0 L908.8,2413.5 L911.8,2413.9 L914.7,2414.4 L917.7,2414.9 L920.7,2415.4 L923.7,2415.8 L926.6,2416.3 L929.6,2416.7 L932.6,2417.1 L935.6,2417.6 L938.6,2418.0 L941.6,2418.4 L944.6,2418.8 L947.5,2419.2 L950.5,2419.6 L953.5,2420.0 L956.5,2420.4 L959.5,2420.8 L962.5,2421.1 L965.5,2421.5 L968.5,2421.9 L971.5,2422.2 L974.5,2422.6 L977.5,2422.9 L980.5,2423.2 L983.4,2423.6 L986.4,2423.9 L989.4,2424.2 L992.4,2424.6 L995.4,2424.9 L998.4,2425.2 L1001.4,2425.5 L1004.4,2425.8 L1007.4,2426.1 L1010.4,2426.4 L1013.4,2426.7 L1016.4,2427.0 L1019.4,2427.3 L1022.5,2427.6 L1025.5,2427.8 L1028.5,2428.1 L1031.5,2428.4 L1034.5,2428.7 L1037.5,2428.9 L1040.5,2429.2 L1043.5,2429.5 L1046.5,2429.7 L1049.5,2430.0 L1052.5,2430.2 L1055.5,2430.5 L1058.5,2430.8 L1061.5,2431.0 L1064.5,2431.3 L1067.5,2431.5 L1070.5,2431.8 L1073.5,2432.0 L1076.5,2432.3 L1079.5,2432.5 L1082.6,2432.8 L1085.6,2433.0 L1088.6,2433.3 L1091.6,2433.5 L1094.6,2433.8 L1097.6,2434.0 L1100.6,2434.3 L1103.6,2434.5 L1106.6,2434.8 L1109.6,2435.0 L1112.6,2435.3 L1115.6,2435.5 L1118.6,2435.8 L1121.6,2436.0 L1124.6,2436.3 L1127.6,2436.5 L1130.6,2436.8 L1133.6,2437.0 L1136.6,2437.3 L1139.6,2437.5 L1142.6,2437.8 L1145.6,2438.0 L1148.6,2438.2 L1151.6,2438.5 L1154.6,2438.7 L1157.6,2439.0 L1160.6,2439.2 L1163.6,2439.5 L1166.6,2439.7 L1169.6,2440.0 L1172.6,2440.2 L1175.6,2440.5 L1178.6,2440.7 L1181.6,2441.0 L1184.6,2441.2 L1187.6,2441.5 L1190.6,2441.7 L1193.6,2442.0 L1196.7,2442.2 L1199.7,2442.4 L1202.7,2442.7 L1205.6,2442.9 L1208.6,2443.2 L1211.6,2443.4 L1214.6,2443.7 L1217.6,2443.9 L1220.6,2444.2 L1223.6,2444.4 L1226.6,2444.7 L1229.6,2444.9 L1232.6,2445.1 L1235.6,2445.4 L1238.6,2445.6 L1241.6,2445.9 L1244.6,2446.1 L1247.6,2446.4 L1250.6,2446.6 L1253.6,2446.9 L1256.6,2447.1 L1259.6,2447.3 L1262.6,2447.6 L1265.6,2447.8 L1268.6,2448.1 L1271.6,2448.3 L1274.6,2448.6 L1277.6,2448.8 L1280.6,2449.0 L1283.6,2449.3 L1286.6,2449.5 L1289.6,2449.8 L1292.6,2450.0 L1295.6,2450.3 L1298.6,2450.5 L1301.6,2450.7 L1304.6,2451.0 L1307.6,2451.2 L1310.6,2451.5 L1313.6,2451.7 L1316.6,2451.9 L1319.6,2452.2 L1322.6,2452.4 L1325.6,2452.7 L1328.6,2452.9 L1331.5,2453.1 L1334.5,2453.4 L1337.5,2453.6 L1340.5,2453.9 L1343.5,2454.1 L1346.5,2454.3 L1349.5,2454.6 L1352.5,2454.8 L1355.5,2455.0 L1358.5,2455.3 L1361.5,2455.5 L1364.5,2455.8 L1367.5,2456.0 L1370.5,2456.2 L1373.5,2456.5 L1376.5,2456.7 L1379.5,2456.9 L1382.5,2457.2 L1385.5,2457.4 L1388.5,2457.6 L1391.4,2457.9 L1394.4,2458.1 L1397.4,2458.4 L1400.4,2458.6 L1403.4,2458.8 L1406.4,2459.1 L1409.4,2459.3 L1412.4,2459.5 L1415.4,2459.8 L1418.4,2460.0 L1421.4,2460.2 L1424.4,2460.5 L1427.4,2460.7 L1430.4,2460.9 L1433.4,2461.2 L1436.4,2461.4 L1439.4,2461.6 L1442.3,2461.8 L1445.3,2462.1 L1448.3,2462.3 L1451.3,2462.5 L1454.3,2462.8 L1457.3,2463.0 L1460.3,2463.2 L1463.3,2463.5 L1466.3,2463.7 L1469.3,2463.9 L1472.3,2464.1 L1475.3,2464.4 L1478.3,2464.6 L1481.3,2464.8 L1484.2,2465.0 L1487.2,2465.3 L1490.2,2465.5 L1493.2,2465.7 L1496.2,2466.0 L1499.2,2466.2 L1502.2,2466.4 L1505.2,2466.6 L1508.2,2466.9 L1511.2,2467.1 L1514.2,2467.3 L1517.2,2467.5 L1520.2,2467.8 L1523.2,2468.0 L1526.1,2468.2 L1529.1,2468.4 L1532.1,2468.6 L1535.1,2468.9 L1538.1,2469.1 L1541.1,2469.3 L1544.1,2469.5 L1547.1,2469.7 L1550.1,2470.0 L1553.1,2470.2 L1556.1,2470.4 L1559.1,2470.6 L1562.1,2470.8 L1565.1,2471.1 L1568.0,2471.3 L1571.0,2471.5 L1574.0,2471.7 L1577.0,2471.9 L1580.0,2472.2 L1583.0,2472.4 L1586.0,2472.6 L1589.0,2472.8 L1592.0,2473.0 L1595.0,2473.2 L1598.0,2473.4 L1601.0,2473.7 L1604.0,2473.9 L1606.9,2474.1 L1609.9,2474.3 L1612.9,2474.5 L1615.9,2474.7 L1618.9,2474.9 L1621.9,2475.1 L1624.9,2475.4 L1627.9,2475.6 L1630.9,2475.8 L1633.9,2476.0 L1636.9,2476.2 L1639.9,2476.4 L1642.9,2476.6 L1645.9,2476.8 L1648.8,2477.0 L1651.8,2477.2 L1654.8,2477.5 L1657.8,2477.7 L1660.8,2477.9 L1663.8,2478.1 L1666.8,2478.3 L1669.8,2478.5 L1672.8,2478.7 L1675.8,2478.9 L1678.8,2479.1 L1681.8,2479.3 L1684.8,2479.5 L1687.8,2479.7 L1690.7,2479.9 L1693.7,2480.1 L1696.7,2480.3 L1699.7,2480.5 L1702.7,2480.7 L1705.7,2480.9 L1708.7,2481.1 L1711.7,2481.3 L1714.7,2481.5 L1717.7,2481.7 L1720.7,2481.9 L1723.7,2482.1 L1726.7,2482.3 L1729.7,2482.5 L1732.7,2482.7 L1735.6,2482.9 L1738.6,2483.1 L1741.6,2483.3 L1744.6,2483.5 L1747.6,2483.7 L1750.6,2483.9 L1753.6,2484.1 L1756.6,2484.3 L1759.6,2484.5 L1762.6,2484.6 L1765.6,2484.8 L1768.6,2485.0 L1771.6,2485.2 L1774.6,2485.4 L1777.6,2485.6 L1780.6,2485.8 L1783.6,2486.0 L1786.5,2486.2 L1789.5,2486.3 L1792.5,2486.5 L1795.5,2486.7 L1798.5,2486.9 L1801.5,2487.1 L1804.5,2487.3 L1807.5,2487.5 L1810.5,2487.7 L1813.5,2487.8 L1816.5,2488.0 L1819.5,2488.2 L1822.5,2488.4 L1825.5,2488.6 L1828.5,2488.7 L1831.5,2488.9 L1834.5,2489.1 L1837.5,2489.3 L1840.5,2489.5 L1843.5,2489.6 L1846.5,2489.8 L1849.4,2490.0 L1852.4,2490.2 L1855.4,2490.4 L1858.4,2490.5 L1861.4,2490.7 L1864.4,2490.9 L1867.4,2491.1 L1870.4,2491.2 L1873.4,2491.4 L1876.4,2491.6 L1879.4,2491.7 L1882.4,2491.9 L1885.4,2492.1 L1888.4,2492.3 L1891.4,2492.4 L1894.4,2492.6 L1897.4,2492.8 L1900.4,2492.9 L1903.4,2493.1 L1906.4,2493.3 L1909.4,2493.4 L1912.4,2493.6 L1915.4,2493.8 L1918.4,2493.9 L1921.4,2494.1 L1924.4,2494.3 L1927.4,2494.4 L1930.4,2494.6 L1933.4,2494.8 L1936.4,2494.9 L1939.4,2495.1 L1942.4,2495.2 L1945.4,2495.4 L1948.4,2495.6 L1951.4,2495.7 L1954.4,2495.9 L1957.4,2496.0 L1960.4,2496.2 L1963.4,2496.4 L1966.4,2496.5 L1969.4,2496.7 L1972.4,2496.8 L1975.4,2497.0 L1978.4,2497.1 L1981.4,2497.3 L1984.4,2497.4 L1987.4,2497.6 L1990.4,2497.7 L1993.4,2497.9 L1996.4,2498.0 L1999.4,2498.2 L2002.4,2498.3 L2005.4,2498.5 L2008.4,2498.6 L2011.4,2498.8 L2014.4,2498.9 L2017.4,2499.1 L2020.4,2499.2 L2023.4,2499.4 L2026.4,2499.5 L2029.4,2499.6 L2032.4,2499.8 L2035.4,2499.9 L2038.4,2500.1 L2041.4,2500.2 L2044.4,2500.4 L2047.4,2500.5 L2050.4,2500.6 L2053.4,2500.8 L2056.4,2500.9 L2059.4,2501.0 L2062.4,2501.2 L2065.5,2501.3 L2068.5,2501.5 L2071.5,2501.6 L2074.5,2501.7 L2077.5,2501.9 L2080.5,2502.0 L2083.5,2502.1 L2086.5,2502.2 L2089.5,2502.4 L2092.5,2502.5 L2095.5,2502.6 L2098.5,2502.8 L2101.5,2502.9 L2104.5,2503.0 L2107.5,2503.1 L2110.5,2503.3 L2113.5,2503.4 L2116.6,2503.5 L2119.6,2503.6 L2122.6,2503.8 L2125.6,2503.9 L2128.6,2504.0 L2131.6,2504.1 L2134.6,2504.2 L2137.6,2504.4 L2140.6,2504.5 L2143.6,2504.6 L2146.6,2504.7 L2149.6,2504.8 L2152.7,2505.0 L2155.7,2505.1 L2158.7,2505.2 L2161.7,2505.3 L2164.7,2505.4 L2167.7,2505.5 L2170.7,2505.6 L2173.7,2505.7 L2176.7,2505.9 L2179.7,2506.0 L2182.8,2506.1 L2185.8,2506.2 L2188.8,2506.3 L2191.8,2506.4 L2194.8,2506.5" fill="none" stroke="#00ff00" stroke-width="7" stroke-linejoin="round" stroke-linecap="butt" clip-path="url(#c2)"/>
<path d="M441.5,2043.0 L442.2,2045.9 L443.0,2048.8 L443.8,2051.7 L444.6,2054.5 L445.4,2057.4 L446.3,2060.3 L447.2,2063.1 L448.1,2066.0 L449.0,2068.8 L450.0,2071.7 L451.0,2074.5 L452.0,2077.3 L453.0,2080.1 L454.1,2083.0 L455.1,2085.8 L456.2,2088.6 L457.3,2091.4 L458.4,2094.2 L459.6,2096.9 L460.7,2099.7 L461.9,2102.5 L463.1,2105.3 L464.2,2108.1 L465.4,2110.8 L466.6,2113.6 L467.8,2116.4 L469.1,2119.1 L470.3,2121.9 L471.5,2124.7 L472.8,2127.4 L474.0,2130.2 L475.3,2132.9 L476.5,2135.7 L477.8,2138.4 L479.0,2141.2 L480.3,2143.9 L481.5,2146.6 L482.8,2149.4 L484.0,2152.1 L485.3,2154.9 L486.5,2157.6 L487.8,2160.4 L489.0,2163.1 L490.2,2165.8 L491.4,2168.6 L492.6,2171.3 L493.8,2174.1 L495.0,2176.8 L496.2,2179.6 L497.4,2182.3 L498.5,2185.1 L499.6,2187.8 L500.8,2190.6 L501.9,2193.4 L503.0,2196.1 L504.1,2198.9 L505.1,2201.7 L506.2,2204.4 L507.2,2207.2 L508.3,2210.0 L509.3,2212.8 L510.3,2215.6 L511.3,2218.4 L512.3,2221.2 L513.3,2224.0 L514.2,2226.8 L515.2,2229.7 L516.1,2232.5 L517.1,2235.3 L518.0,2238.2 L518.9,2241.0 L519.8,2243.9 L520.7,2246.8 L521.6,2249.7 L522.5,2252.6 L523.4,2255.5 L524.3,2258.4 L525.1,2261.3 L526.0,2264.3 L526.9,2267.2 L527.8,2270.2 L528.8,2273.1 L529.8,2276.1 L530.8,2279.1 L531.9,2282.0 L533.1,2285.0 L534.3,2288.0 L535.6,2291.0 L537.0,2293.9 L538.4,2296.9 L540.0,2299.8 L541.6,2302.6 L543.3,2305.3 L545.0,2307.8 L546.9,2310.0 L548.8,2312.0 L550.7,2313.7 L552.7,2315.0 L554.7,2316.0 L556.8,2316.5 L558.9,2316.7 L561.0,2316.4 L563.1,2315.8 L565.2,2314.7 L567.2,2313.2 L569.2,2311.4 L571.2,2309.4 L573.2,2307.1 L575.2,2304.7 L577.2,2302.1 L579.3,2299.4 L581.3,2296.8 L583.4,2294.1 L585.6,2291.5 L587.8,2289.1 L590.0,2286.7 L592.3,2284.4 L594.7,2282.3 L597.0,2280.2 L599.5,2278.2 L601.9,2276.3 L604.4,2274.5 L606.9,2272.8 L609.5,2271.2 L612.1,2269.6 L614.7,2268.1 L617.4,2266.7 L620.0,2265.3 L622.7,2264.1 L625.5,2262.8 L628.2,2261.7 L631.0,2260.6 L633.8,2259.5 L636.6,2258.5 L639.4,2257.6 L642.2,2256.7 L645.0,2255.8 L647.9,2255.0 L650.7,2254.2 L653.6,2253.4 L656.5,2252.7 L659.3,2252.0 L662.2,2251.3 L665.1,2250.6 L667.9,2250.0 L670.8,2249.5 L673.7,2248.9 L676.6,2248.4 L679.5,2247.9 L682.4,2247.4 L685.3,2247.0 L688.2,2246.6 L691.2,2246.2 L694.1,2245.8 L697.0,2245.5 L699.9,2245.2 L702.8,2244.9 L705.8,2244.7 L708.7,2244.5 L711.7,2244.3 L714.6,2244.1 L717.5,2244.0 L720.5,2243.8 L723.4,2243.7 L726.4,2243.7 L729.3,2243.6 L732.3,2243.6 L735.3,2243.6 L738.2,2243.6 L741.2,2243.7 L744.2,2243.7 L747.1,2243.8 L750.1,2243.9 L753.1,2244.0 L756.0,2244.2 L759.0,2244.4 L762.0,2244.6 L765.0,2244.8 L768.0,2245.0 L770.9,2245.2 L773.9,2245.5 L776.9,2245.8 L779.9,2246.1 L782.9,2246.4 L785.9,2246.8 L788.8,2247.1 L791.8,2247.5 L794.8,2247.9 L797.8,2248.3 L800.8,2248.8 L803.8,2249.2 L806.8,2249.7 L809.8,2250.1 L812.7,2250.6 L815.7,2251.1 L818.7,2251.6 L821.7,2252.2 L824.7,2252.7 L827.7,2253.3 L830.7,2253.9 L833.7,2254.5 L836.6,2255.1 L839.6,2255.7 L842.6,2256.3 L845.6,2256.9 L848.6,2257.6 L851.5,2258.2 L854.5,2258.9 L857.5,2259.6 L860.5,2260.3 L863.4,2261.0 L866.4,2261.7 L869.4,2262.4 L872.3,2263.2 L875.3,2263.9 L878.3,2264.7 L881.2,2265.4 L884.2,2266.2 L887.1,2266.9 L890.1,2267.7 L893.0,2268.5 L896.0,2269.3 L898.9,2270.1 L901.9,2270.9 L904.8,2271.7 L907.8,2272.5 L910.7,2273.4 L913.6,2274.2 L916.5,2275.0 L919.5,2275.9 L922.4,2276.7 L925.3,2277.5 L928.2,2278.4 L931.2,2279.2 L934.1,2280.1 L937.0,2281.0 L939.9,2281.8 L942.8,2282.7 L945.7,2283.5 L948.6,2284.4 L951.5,2285.2 L954.4,2286.1 L957.4,2287.0 L960.3,2287.8 L963.2,2288.7 L966.1,2289.6 L969.0,2290.4 L971.9,2291.3 L974.8,2292.1 L977.6,2293.0 L980.5,2293.8 L983.4,2294.7 L986.3,2295.5 L989.2,2296.4 L992.1,2297.2 L995.0,2298.0 L997.9,2298.9 L1000.8,2299.7 L1003.7,2300.5 L1006.6,2301.3 L1009.5,2302.1 L1012.4,2302.9 L1015.2,2303.7 L1018.1,2304.5 L1021.0,2305.3 L1023.9,2306.1 L1026.8,2306.8 L1029.7,2307.6 L1032.6,2308.3 L1035.5,2309.1 L1038.4,2309.8 L1041.3,2310.6 L1044.2,2311.3 L1047.1,2312.0 L1050.0,2312.7 L1052.9,2313.4 L1055.8,2314.0 L1058.7,2314.7 L1061.6,2315.3 L1064.5,2316.0 L1067.4,2316.6 L1070.3,2317.2 L1073.2,2317.8 L1076.1,2318.4 L1079.0,2319.0 L1081.9,2319.6 L1084.8,2320.1 L1087.7,2320.6 L1090.6,2321.2 L1093.5,2321.7 L1096.5,2322.2 L1099.4,2322.6 L1102.3,2323.1 L1105.2,2323.5 L1108.2,2324.0 L1111.1,2324.4 L1114.0,2324.8 L1117.0,2325.1 L1119.9,2325.5 L1122.8,2325.8 L1125.8,2326.2 L1128.7,2326.5 L1131.7,2326.7 L1134.6,2327.0 L1137.6,2327.3 L1140.5,2327.5 L1143.5,2327.7 L1146.4,2327.9 L1149.4,2328.0 L1152.4,2328.2 L1155.4,2328.3 L1158.3,2328.4 L1161.3,2328.5 L1164.3,2328.5 L1167.3,2328.6 L1170.3,2328.6 L1173.3,2328.6 L1176.2,2328.6 L1179.2,2328.5 L1182.2,2328.5 L1185.2,2328.4 L1188.2,2328.3 L1191.2,2328.2 L1194.2,2328.1 L1197.2,2328.0 L1200.3,2327.8 L1203.3,2327.6 L1206.3,2327.5 L1209.3,2327.3 L1212.3,2327.1 L1215.3,2326.9 L1218.3,2326.6 L1221.3,2326.4 L1224.4,2326.1 L1227.4,2325.9 L1230.4,2325.6 L1233.4,2325.3 L1236.4,2325.0 L1239.5,2324.7 L1242.5,2324.4 L1245.5,2324.1 L1248.5,2323.8 L1251.5,2323.5 L1254.6,2323.1 L1257.6,2322.8 L1260.6,2322.5 L1263.6,2322.1 L1266.6,2321.7 L1269.6,2321.4 L1272.7,2321.0 L1275.7,2320.6 L1278.7,2320.3 L1281.7,2319.9 L1284.7,2319.5 L1287.7,2319.1 L1290.7,2318.8 L1293.7,2318.4 L1296.7,2318.0 L1299.7,2317.6 L1302.7,2317.2 L1305.7,2316.9 L1308.7,2316.5 L1311.7,2316.1 L1314.7,2315.7 L1317.7,2315.3 L1320.7,2315.0 L1323.7,2314.6 L1326.7,2314.2 L1329.7,2313.8 L1332.7,2313.4 L1335.7,2313.1 L1338.7,2312.7 L1341.6,2312.3 L1344.6,2311.9 L1347.6,2311.6 L1350.6,2311.2 L1353.6,2310.8 L1356.6,2310.5 L1359.6,2310.1 L1362.5,2309.8 L1365.5,2309.4 L1368.5,2309.1 L1371.5,2308.7 L1374.5,2308.4 L1377.5,2308.1 L1380.4,2307.7 L1383.4,2307.4 L1386.4,2307.1 L1389.4,2306.8 L1392.4,2306.5 L1395.3,2306.2 L1398.3,2305.9 L1401.3,2305.6 L1404.3,2305.3 L1407.3,2305.0 L1410.3,2304.8 L1413.2,2304.5 L1416.2,2304.2 L1419.2,2304.0 L1422.2,2303.7 L1425.2,2303.5 L1428.2,2303.3 L1431.1,2303.1 L1434.1,2302.8 L1437.1,2302.6 L1440.1,2302.4 L1443.1,2302.3 L1446.1,2302.1 L1449.1,2301.9 L1452.0,2301.7 L1455.0,2301.6 L1458.0,2301.4 L1461.0,2301.3 L1464.0,2301.2 L1467.0,2301.1 L1470.0,2300.9 L1473.0,2300.8 L1476.0,2300.7 L1479.0,2300.6 L1482.0,2300.6 L1484.9,2300.5 L1487.9,2300.4 L1490.9,2300.3 L1493.9,2300.3 L1496.9,2300.2 L1499.9,2300.2 L1502.9,2300.2 L1505.9,2300.1 L1508.9,2300.1 L1511.9,2300.1 L1514.9,2300.1 L1517.9,2300.1 L1520.9,2300.1 L1523.9,2300.1 L1526.9,2300.1 L1529.9,2300.2 L1532.9,2300.2 L1535.9,2300.2 L1538.9,2300.3 L1541.9,2300.3 L1544.9,2300.4 L1547.9,2300.5 L1550.9,2300.5 L1553.9,2300.6 L1556.9,2300.7 L1559.9,2300.8 L1562.9,2300.9 L1565.9,2301.0 L1568.9,2301.1 L1571.9,2301.2 L1574.9,2301.3 L1577.9,2301.4 L1580.9,2301.6 L1583.9,2301.7 L1586.9,2301.8 L1589.9,2302.0 L1592.9,2302.1 L1595.9,2302.3 L1598.9,2302.5 L1601.9,2302.6 L1604.9,2302.8 L1607.9,2303.0 L1610.9,2303.1 L1613.9,2303.3 L1616.9,2303.5 L1619.9,2303.7 L1622.9,2303.9 L1625.9,2304.1 L1628.9,2304.3 L1631.9,2304.5 L1634.9,2304.8 L1638.0,2305.0 L1641.0,2305.2 L1644.0,2305.4 L1647.0,2305.7 L1650.0,2305.9 L1653.0,2306.2 L1656.0,2306.4 L1659.0,2306.7 L1662.0,2306.9 L1665.0,2307.2 L1668.0,2307.4 L1671.0,2307.7 L1674.0,2308.0 L1677.0,2308.2 L1680.0,2308.5 L1683.0,2308.8 L1686.0,2309.1 L1689.0,2309.4 L1692.0,2309.7 L1695.0,2310.0 L1698.0,2310.2 L1701.0,2310.5 L1704.0,2310.9 L1707.0,2311.2 L1710.0,2311.5 L1713.0,2311.8 L1716.0,2312.1 L1719.0,2312.4 L1722.0,2312.7 L1725.0,2313.1 L1728.0,2313.4 L1731.0,2313.7 L1734.0,2314.0 L1737.0,2314.4 L1740.0,2314.7 L1743.0,2315.0 L1746.0,2315.4 L1748.9,2315.7 L1751.9,2316.1 L1754.9,2316.4 L1757.9,2316.8 L1760.9,2317.1 L1763.9,2317.5 L1766.9,2317.8 L1769.9,2318.2 L1772.9,2318.5 L1775.9,2318.9 L1778.9,2319.2 L1781.9,2319.6 L1784.9,2320.0 L1787.8,2320.3 L1790.8,2320.7 L1793.8,2321.1 L1796.8,2321.4 L1799.8,2321.8 L1802.8,2322.2 L1805.8,2322.5 L1808.8,2322.9 L1811.7,2323.3 L1814.7,2323.6 L1817.7,2324.0 L1820.7,2324.4 L1823.7,2324.7 L1826.7,2325.1 L1829.7,2325.5 L1832.6,2325.9 L1835.6,2326.2 L1838.6,2326.6 L1841.6,2327.0 L1844.6,2327.3 L1847.6,2327.7 L1850.5,2328.1 L1853.5,2328.4 L1856.5,2328.8 L1859.5,2329.2 L1862.5,2329.5 L1865.5,2329.9 L1868.4,2330.2 L1871.4,2330.6 L1874.4,2331.0 L1877.4,2331.3 L1880.4,2331.7 L1883.3,2332.0 L1886.3,2332.4 L1889.3,2332.7 L1892.3,2333.1 L1895.3,2333.4 L1898.3,2333.7 L1901.2,2334.1 L1904.2,2334.4 L1907.2,2334.7 L1910.2,2335.1 L1913.2,2335.4 L1916.1,2335.7 L1919.1,2336.1 L1922.1,2336.4 L1925.1,2336.7 L1928.1,2337.0 L1931.0,2337.3 L1934.0,2337.6 L1937.0,2337.9 L1940.0,2338.2 L1943.0,2338.5 L1946.0,2338.8 L1948.9,2339.1 L1951.9,2339.4 L1954.9,2339.6 L1957.9,2339.9 L1960.9,2340.2 L1963.8,2340.4 L1966.8,2340.7 L1969.8,2341.0 L1972.8,2341.2 L1975.8,2341.5 L1978.8,2341.7 L1981.7,2341.9 L1984.7,2342.2 L1987.7,2342.4 L1990.7,2342.6 L1993.7,2342.8 L1996.7,2343.0 L1999.7,2343.2 L2002.6,2343.4 L2005.6,2343.6 L2008.6,2343.8 L2011.6,2344.0 L2014.6,2344.2 L2017.6,2344.3 L2020.6,2344.5 L2023.5,2344.6 L2026.5,2344.8 L2029.5,2344.9 L2032.5,2345.1 L2035.5,2345.2 L2038.5,2345.3 L2041.5,2345.4 L2044.5,2345.5 L2047.5,2345.6 L2050.5,2345.7 L2053.4,2345.8 L2056.4,2345.9 L2059.4,2346.0 L2062.4,2346.0 L2065.4,2346.1 L2068.4,2346.1 L2071.4,2346.2 L2074.4,2346.2 L2077.4,2346.2 L2080.4,2346.2 L2083.4,2346.2 L2086.4,2346.2 L2089.4,2346.2 L2092.4,2346.2 L2095.4,2346.2 L2098.4,2346.1 L2101.4,2346.1 L2104.4,2346.0 L2107.4,2346.0 L2110.4,2345.9 L2113.4,2345.8 L2116.4,2345.7 L2119.4,2345.6 L2122.4,2345.5 L2125.4,2345.4 L2128.4,2345.3 L2131.4,2345.1 L2134.5,2345.0 L2137.5,2344.8 L2140.5,2344.6 L2143.5,2344.5 L2146.5,2344.3 L2149.5,2344.1 L2152.5,2343.8 L2155.5,2343.6 L2158.6,2343.4 L2161.6,2343.1 L2164.6,2342.9 L2167.6,2342.6 L2170.6,2342.3 L2173.6,2342.0 L2176.7,2341.7 L2179.7,2341.4 L2182.7,2341.1 L2185.7,2340.8 L2188.8,2340.4 L2191.8,2340.1 L2194.8,2339.7" fill="none" stroke="#ff0000" stroke-width="7" stroke-linejoin="round" stroke-linecap="butt" clip-path="url(#c2)"/>
<path d="M318.0,3094.2 L321.0,3094.4 L324.1,3094.5 L327.1,3094.7 L330.1,3094.8 L333.2,3095.0 L336.2,3095.1 L339.2,3095.2 L342.2,3095.4 L345.3,3095.5 L348.3,3095.6 L351.3,3095.7 L354.4,3095.7 L357.4,3095.8 L360.4,3095.9 L363.4,3095.9 L366.4,3096.0 L369.5,3096.0 L372.5,3096.1 L375.5,3096.1 L378.5,3096.1 L381.5,3096.1 L384.6,3096.1 L387.6,3096.1 L390.6,3096.0 L393.6,3096.0 L396.6,3096.0 L399.6,3095.9 L402.6,3095.9 L405.6,3095.8 L408.6,3095.7 L411.6,3095.6 L414.6,3095.5 L417.6,3095.4 L420.7,3095.3 L423.7,3095.2 L426.7,3095.0 L429.6,3094.9 L432.6,3094.7 L435.6,3094.5 L438.6,3094.4 L441.6,3094.2 L444.6,3094.0 L447.6,3093.8 L450.6,3093.6 L453.6,3093.3 L456.6,3093.1 L459.6,3092.8 L462.5,3092.6 L465.5,3092.3 L468.5,3092.0 L471.5,3091.7 L474.5,3091.4 L477.4,3091.1 L480.4,3090.8 L483.4,3090.5 L486.4,3090.1 L489.3,3089.8 L492.3,3089.4 L495.3,3089.0 L498.2,3088.6 L501.2,3088.2 L504.2,3087.8 L507.1,3087.4 L510.1,3086.9 L513.0,3086.5 L516.0,3086.0 L518.9,3085.6 L521.9,3085.1 L524.9,3084.6 L527.8,3084.1 L530.8,3083.6 L533.7,3083.1 L536.6,3082.5 L539.6,3082.0 L542.5,3081.4 L545.5,3080.9 L548.4,3080.3 L551.3,3079.7 L554.3,3079.1 L557.2,3078.5 L560.2,3077.9 L563.1,3077.3 L566.0,3076.7 L568.9,3076.0 L571.9,3075.4 L574.8,3074.7 L577.7,3074.1 L580.7,3073.4 L583.6,3072.8 L586.5,3072.1 L589.4,3071.4 L592.4,3070.7 L595.3,3070.0 L598.2,3069.3 L601.1,3068.6 L604.1,3067.9 L607.0,3067.2 L609.9,3066.5 L612.8,3065.8 L615.7,3065.0 L618.7,3064.3 L621.6,3063.6 L624.5,3062.8 L627.4,3062.1 L630.3,3061.4 L633.3,3060.6 L636.2,3059.9 L639.1,3059.1 L642.0,3058.4 L644.9,3057.6 L647.9,3056.9 L650.8,3056.1 L653.7,3055.4 L656.6,3054.6 L659.6,3053.9 L662.5,3053.1 L665.4,3052.4 L668.3,3051.6 L671.2,3050.9 L674.2,3050.1 L677.1,3049.4 L680.0,3048.7 L682.9,3047.9 L685.9,3047.2 L688.8,3046.4 L691.7,3045.7 L694.7,3045.0 L697.6,3044.2 L700.5,3043.5 L703.4,3042.8 L706.4,3042.1 L709.3,3041.4 L712.2,3040.7 L715.2,3040.0 L718.1,3039.3 L721.0,3038.6 L724.0,3037.9 L726.9,3037.2 L729.9,3036.5 L732.8,3035.8 L735.7,3035.2 L738.7,3034.5 L741.6,3033.9 L744.6,3033.2 L747.5,3032.6 L750.4,3032.0 L753.4,3031.4 L756.3,3030.7 L759.3,3030.1 L762.2,3029.5 L765.2,3029.0 L768.1,3028.4 L771.1,3027.8 L774.0,3027.3 L777.0,3026.7 L779.9,3026.2 L782.9,3025.7 L785.8,3025.1 L788.8,3024.6 L791.7,3024.2 L794.7,3023.7 L797.6,3023.2 L800.6,3022.7 L803.6,3022.3 L806.5,3021.9 L809.5,3021.5 L812.4,3021.1 L815.4,3020.7 L818.4,3020.3 L821.3,3019.9 L824.3,3019.6 L827.3,3019.2 L830.2,3018.9 L833.2,3018.6 L836.2,3018.3 L839.2,3018.0 L842.1,3017.8 L845.1,3017.5 L848.1,3017.3 L851.1,3017.1 L854.0,3016.9 L857.0,3016.7 L860.0,3016.6 L863.0,3016.4 L866.0,3016.3 L868.9,3016.2 L871.9,3016.1 L874.9,3016.0 L877.9,3015.9 L880.9,3015.9 L883.9,3015.9 L886.9,3015.8 L889.9,3015.8 L892.8,3015.8 L895.8,3015.8 L898.8,3015.9 L901.8,3015.9 L904.8,3016.0 L907.8,3016.1 L910.8,3016.1 L913.8,3016.2 L916.8,3016.3 L919.8,3016.5 L922.8,3016.6 L925.8,3016.7 L928.8,3016.9 L931.8,3017.0 L934.8,3017.2 L937.8,3017.4 L940.8,3017.6 L943.8,3017.8 L946.8,3018.0 L949.8,3018.2 L952.8,3018.4 L955.8,3018.6 L958.8,3018.9 L961.8,3019.1 L964.8,3019.3 L967.8,3019.6 L970.8,3019.9 L973.8,3020.1 L976.8,3020.4 L979.8,3020.7 L982.8,3021.0 L985.8,3021.3 L988.8,3021.5 L991.8,3021.8 L994.8,3022.1 L997.8,3022.5 L1000.8,3022.8 L1003.8,3023.1 L1006.8,3023.4 L1009.8,3023.7 L1012.8,3024.0 L1015.8,3024.3 L1018.8,3024.7 L1021.8,3025.0 L1024.8,3025.3 L1027.7,3025.7 L1030.7,3026.0 L1033.7,3026.3 L1036.7,3026.7 L1039.7,3027.0 L1042.7,3027.4 L1045.7,3027.7 L1048.7,3028.0 L1051.7,3028.4 L1054.7,3028.8 L1057.7,3029.1 L1060.7,3029.5 L1063.6,3029.8 L1066.6,3030.2 L1069.6,3030.6 L1072.6,3030.9 L1075.6,3031.3 L1078.6,3031.7 L1081.6,3032.0 L1084.6,3032.4 L1087.5,3032.8 L1090.5,3033.2 L1093.5,3033.6 L1096.5,3034.0 L1099.5,3034.3 L1102.5,3034.7 L1105.4,3035.1 L1108.4,3035.5 L1111.4,3035.9 L1114.4,3036.3 L1117.4,3036.7 L1120.4,3037.1 L1123.3,3037.5 L1126.3,3038.0 L1129.3,3038.4 L1132.3,3038.8 L1135.3,3039.2 L1138.2,3039.6 L1141.2,3040.0 L1144.2,3040.5 L1147.2,3040.9 L1150.1,3041.3 L1153.1,3041.7 L1156.1,3042.2 L1159.1,3042.6 L1162.1,3043.0 L1165.0,3043.5 L1168.0,3043.9 L1171.0,3044.4 L1174.0,3044.8 L1176.9,3045.2 L1179.9,3045.7 L1182.9,3046.1 L1185.8,3046.6 L1188.8,3047.0 L1191.8,3047.5 L1194.8,3048.0 L1197.7,3048.4 L1200.7,3048.9 L1203.7,3049.3 L1206.6,3049.8 L1209.6,3050.3 L1212.6,3050.7 L1215.6,3051.2 L1218.5,3051.7 L1221.5,3052.2 L1224.5,3052.6 L1227.4,3053.1 L1230.4,3053.6 L1233.4,3054.1 L1236.3,3054.6 L1239.3,3055.1 L1242.3,3055.5 L1245.2,3056.0 L1248.2,3056.5 L1251.2,3057.0 L1254.1,3057.5 L1257.1,3058.0 L1260.1,3058.5 L1263.0,3059.0 L1266.0,3059.5 L1268.9,3060.0 L1271.9,3060.5 L1274.9,3061.0 L1277.8,3061.6 L1280.8,3062.1 L1283.8,3062.6 L1286.7,3063.1 L1289.7,3063.6 L1292.6,3064.1 L1295.6,3064.7 L1298.6,3065.2 L1301.5,3065.7 L1304.5,3066.2 L1307.4,3066.8 L1310.4,3067.3 L1313.3,3067.8 L1316.3,3068.3 L1319.3,3068.9 L1322.2,3069.4 L1325.2,3070.0 L1328.1,3070.5 L1331.1,3071.0 L1334.0,3071.6 L1337.0,3072.1 L1340.0,3072.7 L1342.9,3073.2 L1345.9,3073.8 L1348.8,3074.3 L1351.8,3074.9 L1354.7,3075.4 L1357.7,3076.0 L1360.6,3076.5 L1363.6,3077.1 L1366.5,3077.6 L1369.5,3078.2 L1372.5,3078.8 L1375.4,3079.3 L1378.4,3079.9 L1381.3,3080.5 L1384.3,3081.0 L1387.2,3081.6 L1390.2,3082.2 L1393.1,3082.7 L1396.1,3083.3 L1399.0,3083.9 L1402.0,3084.5 L1404.9,3085.0 L1407.9,3085.6 L1410.8,3086.2 L1413.8,3086.8 L1416.7,3087.4 L1419.7,3088.0 L1422.6,3088.5 L1425.6,3089.1 L1428.5,3089.7 L1431.5,3090.3 L1434.4,3090.9 L1437.3,3091.5 L1440.3,3092.1 L1443.2,3092.7 L1446.2,3093.3 L1449.1,3093.9 L1452.1,3094.5 L1455.0,3095.1 L1458.0,3095.7 L1460.9,3096.3 L1463.9,3096.9 L1466.8,3097.5 L1469.7,3098.1 L1472.7,3098.7 L1475.6,3099.3 L1478.6,3099.9 L1481.5,3100.5 L1484.5,3101.2 L1487.4,3101.8 L1490.4,3102.4 L1493.3,3103.0 L1496.2,3103.6 L1499.2,3104.2 L1502.1,3104.8 L1505.1,3105.5 L1508.0,3106.1 L1510.9,3106.7 L1513.9,3107.3 L1516.8,3108.0 L1519.8,3108.6 L1522.7,3109.2 L1525.6,3109.8 L1528.6,3110.5 L1531.5,3111.1 L1534.5,3111.7 L1537.4,3112.4 L1540.3,3113.0 L1543.3,3113.6 L1546.2,3114.3 L1549.2,3114.9 L1552.1,3115.5 L1555.0,3116.2 L1558.0,3116.8 L1560.9,3117.4 L1563.9,3118.1 L1566.8,3118.7 L1569.7,3119.4 L1572.7,3120.0 L1575.6,3120.7 L1578.5,3121.3 L1581.5,3121.9 L1584.4,3122.6 L1587.4,3123.2 L1590.3,3123.9 L1593.2,3124.5 L1596.2,3125.2 L1599.1,3125.8 L1602.0,3126.5 L1605.0,3127.1 L1607.9,3127.8 L1610.8,3128.4 L1613.8,3129.1 L1616.7,3129.8 L1619.6,3130.4 L1622.6,3131.1 L1625.5,3131.7 L1628.5,3132.4 L1631.4,3133.0 L1634.3,3133.7 L1637.3,3134.4 L1640.2,3135.0 L1643.1,3135.7 L1646.1,3136.3 L1649.0,3137.0 L1651.9,3137.7 L1654.9,3138.3 L1657.8,3139.0 L1660.7,3139.7 L1663.7,3140.3 L1666.6,3141.0 L1669.5,3141.7 L1672.5,3142.3 L1675.4,3143.0 L1678.3,3143.7 L1681.3,3144.3 L1684.2,3145.0 L1687.1,3145.7 L1690.0,3146.4 L1693.0,3147.0 L1695.9,3147.7 L1698.8,3148.4 L1701.8,3149.0 L1704.7,3149.7 L1707.6,3150.4 L1710.6,3151.1 L1713.5,3151.7 L1716.4,3152.4 L1719.4,3153.1 L1722.3,3153.8 L1725.2,3154.5 L1728.2,3155.1 L1731.1,3155.8 L1734.0,3156.5 L1736.9,3157.2 L1739.9,3157.8 L1742.8,3158.5 L1745.7,3159.2 L1748.7,3159.9 L1751.6,3160.6 L1754.5,3161.2 L1757.5,3161.9 L1760.4,3162.6 L1763.3,3163.3 L1766.2,3164.0 L1769.2,3164.7 L1772.1,3165.3 L1775.0,3166.0 L1778.0,3166.7 L1780.9,3167.4 L1783.8,3168.1 L1786.8,3168.8 L1789.7,3169.4 L1792.6,3170.1 L1795.5,3170.8 L1798.5,3171.5 L1801.4,3172.2 L1804.3,3172.9 L1807.3,3173.6 L1810.2,3174.2 L1813.1,3174.9 L1816.0,3175.6 L1819.0,3176.3 L1821.9,3177.0 L1824.8,3177.7 L1827.8,3178.4 L1830.7,3179.1 L1833.6,3179.7 L1836.5,3180.4 L1839.5,3181.1 L1842.4,3181.8 L1845.3,3182.5 L1848.3,3183.2 L1851.2,3183.9 L1854.1,3184.6 L1857.0,3185.2 L1860.0,3185.9 L1862.9,3186.6 L1865.8,3187.3 L1868.7,3188.0 L1871.7,3188.7 L1874.6,3189.4 L1877.5,3190.1 L1880.5,3190.7 L1883.4,3191.4 L1886.3,3192.1 L1889.2,3192.8 L1892.2,3193.5 L1895.1,3194.2 L1898.0,3194.9 L1901.0,3195.6 L1903.9,3196.2 L1906.8,3196.9 L1909.7,3197.6 L1912.7,3198.3 L1915.6,3199.0 L1918.5,3199.7 L1921.5,3200.4 L1924.4,3201.1 L1927.3,3201.7 L1930.2,3202.4 L1933.2,3203.1 L1936.1,3203.8 L1939.0,3204.5 L1941.9,3205.2 L1944.9,3205.9 L1947.8,3206.5 L1950.7,3207.2 L1953.7,3207.9 L1956.6,3208.6 L1959.5,3209.3 L1962.4,3210.0 L1965.4,3210.6 L1968.3,3211.3 L1971.2,3212.0 L1974.2,3212.7 L1977.1,3213.4 L1980.0,3214.1 L1982.9,3214.7 L1985.9,3215.4 L1988.8,3216.1 L1991.7,3216.8 L1994.7,3217.5 L1997.6,3218.1 L2000.5,3218.8 L2003.4,3219.5 L2006.4,3220.2 L2009.3,3220.9 L2012.2,3221.5 L2015.2,3222.2 L2018.1,3222.9 L2021.0,3223.6 L2023.9,3224.2 L2026.9,3224.9 L2029.8,3225.6 L2032.7,3226.3 L2035.7,3226.9 L2038.6,3227.6 L2041.5,3228.3 L2044.5,3229.0 L2047.4,3229.6 L2050.3,3230.3 L2053.2,3231.0 L2056.2,3231.7 L2059.1,3232.3 L2062.0,3233.0 L2065.0,3233.7 L2067.9,3234.3 L2070.8,3235.0 L2073.8,3235.7 L2076.7,3236.3 L2079.6,3237.0 L2082.5,3237.7 L2085.5,3238.3 L2088.4,3239.0 L2091.3,3239.7 L2094.3,3240.3 L2097.2,3241.0 L2100.1,3241.6 L2103.1,3242.3 L2106.0,3243.0 L2108.9,3243.6 L2111.9,3244.3 L2114.8,3244.9 L2117.7,3245.6 L2120.7,3246.3 L2123.6,3246.9 L2126.5,3247.6 L2129.5,3248.2 L2132.4,3248.9 L2135.3,3249.5 L2138.3,3250.2 L2141.2,3250.8 L2144.1,3251.5 L2147.1,3252.1 L2150.0,3252.8 L2152.9,3253.4 L2155.9,3254.1 L2158.8,3254.7 L2161.7,3255.4 L2164.7,3256.0 L2167.6,3256.6 L2170.5,3257.3 L2173.5,3257.9 L2176.4,3258.6 L2179.3,3259.2 L2182.3,3259.8 L2185.2,3260.5 L2188.1,3261.1 L2191.1,3261.8 L2194.0,3262.4" fill="none" stroke="#00ff00" stroke-width="7" stroke-linejoin="round" stroke-linecap="butt" clip-path="url(#c3)"/>
<path d="M318.0,3094.0 L320.8,3094.1 L323.7,3094.2 L326.6,3094.3 L329.7,3094.2 L332.8,3094.2 L335.9,3094.1 L339.1,3093.9 L342.3,3093.6 L345.6,3093.2 L348.8,3092.8 L352.0,3092.3 L355.1,3091.6 L358.3,3090.9 L361.3,3090.0 L364.4,3089.1 L367.3,3088.0 L370.1,3086.7 L372.8,3085.3 L375.4,3083.8 L377.9,3082.2 L380.3,3080.3 L382.4,3078.4 L384.4,3076.2 L386.3,3073.9 L387.9,3071.4 L389.3,3068.7 L390.6,3065.9 L391.7,3062.9 L392.7,3059.9 L393.5,3056.8 L394.2,3053.6 L394.9,3050.4 L395.4,3047.2 L395.9,3044.0 L396.3,3040.9 L396.8,3037.8 L397.6,3035.0 L398.6,3032.5 L400.2,3030.3 L402.3,3028.5 L405.1,3027.3 L405.1,3027.3 L408.9,3030.6 L412.2,3028.0 L412.2,3028.0 L412.4,3024.3 L413.2,3021.0 L414.4,3018.1 L416.2,3015.7 L418.2,3013.7 L420.6,3012.1 L423.1,3011.0 L425.8,3010.2 L428.5,3010.0 L431.3,3010.1 L433.9,3010.6 L436.5,3011.5 L439.1,3012.7 L441.6,3014.2 L444.1,3015.9 L446.6,3017.7 L449.0,3019.6 L451.4,3021.6 L453.9,3023.7 L456.3,3025.7 L458.7,3027.7 L461.1,3029.6 L463.5,3031.6 L465.9,3033.6 L468.2,3035.6 L470.6,3037.5 L473.0,3039.5 L475.3,3041.4 L477.7,3043.3 L480.0,3045.3 L482.4,3047.2 L484.7,3049.1 L487.1,3051.0 L489.4,3053.0 L491.7,3054.9 L494.0,3056.8 L496.3,3058.7 L498.6,3060.6 L500.9,3062.6 L503.2,3064.5 L505.5,3066.4 L507.8,3068.4 L510.0,3070.3 L512.3,3072.2 L514.6,3074.2 L516.8,3076.1 L519.1,3078.1 L521.3,3080.1 L523.5,3082.1 L525.8,3084.1 L528.0,3086.1 L530.2,3088.1 L532.5,3090.1 L534.7,3092.1 L536.9,3094.1 L539.1,3096.2 L541.3,3098.2 L543.5,3100.3 L545.7,3102.3 L547.9,3104.4 L550.1,3106.4 L552.3,3108.5 L554.4,3110.6 L556.6,3112.7 L558.8,3114.8 L561.0,3116.8 L563.2,3118.9 L565.3,3121.0 L567.5,3123.1 L569.7,3125.2 L571.9,3127.3 L574.0,3129.5 L576.2,3131.6 L578.4,3133.7 L580.5,3135.8 L582.7,3137.9 L584.9,3140.0 L587.1,3142.1 L589.2,3144.2 L591.4,3146.3 L593.6,3148.5 L595.7,3150.6 L597.9,3152.7 L600.1,3154.8 L602.3,3156.9 L604.5,3159.0 L606.6,3161.1 L608.8,3163.2 L611.0,3165.3 L613.2,3167.4 L615.4,3169.5 L617.6,3171.6 L619.8,3173.7 L622.0,3175.7 L624.2,3177.8 L626.4,3179.9 L628.6,3181.9 L630.9,3184.0 L633.1,3186.1 L635.3,3188.1 L637.5,3190.1 L639.8,3192.2 L642.0,3194.2 L644.3,3196.2 L646.5,3198.3 L648.8,3200.3 L651.0,3202.3 L653.3,3204.3 L655.5,3206.3 L657.8,3208.3 L660.1,3210.3 L662.3,3212.3 L664.6,3214.3 L666.9,3216.2 L669.2,3218.2 L671.4,3220.2 L673.7,3222.2 L676.0,3224.2 L678.3,3226.1 L680.6,3228.1 L682.8,3230.1 L685.1,3232.1 L687.4,3234.0 L689.7,3236.0 L692.0,3238.0 L694.3,3239.9 L696.5,3241.9 L698.8,3243.9 L701.1,3245.9 L703.4,3247.8 L705.7,3249.8 L707.9,3251.8 L710.2,3253.8 L712.5,3255.7 L714.8,3257.7 L717.0,3259.7 L719.3,3261.7 L721.6,3263.7 L723.8,3265.7 L726.1,3267.6 L728.4,3269.6 L730.6,3271.6 L732.9,3273.6 L735.1,3275.6 L737.4,3277.7 L739.6,3279.7 L741.8,3281.7 L744.1,3283.7 L746.3,3285.7 L748.5,3287.8 L750.7,3289.8 L753.0,3291.9 L755.2,3293.9 L757.4,3296.0 L759.6,3298.0 L761.8,3300.1 L763.9,3302.2 L766.1,3304.3 L768.3,3306.4 L770.5,3308.5 L772.6,3310.6 L774.8,3312.7 L776.9,3314.8 L779.1,3317.0 L781.2,3319.1 L783.4,3321.2 L785.5,3323.4 L787.6,3325.5 L789.8,3327.7 L791.9,3329.8 L794.0,3331.9 L796.2,3334.1 L798.3,3336.2 L800.4,3338.4 L802.6,3340.5 L804.7,3342.7 L806.8,3344.8 L809.0,3347.0 L811.1,3349.1 L813.3,3351.2 L815.4,3353.3 L817.6,3355.4 L819.7,3357.5 L821.9,3359.6 L824.1,3361.7 L826.3,3363.8 L828.5,3365.9 L830.7,3367.9 L832.9,3370.0 L835.1,3372.0 L837.4,3374.0 L839.6,3376.0 L841.9,3378.1 L844.1,3380.1 L846.4,3382.1 L848.6,3384.0 L850.9,3386.0 L853.2,3388.0 L855.4,3390.0 L857.7,3392.0 L860.0,3394.0 L862.2,3396.0 L864.5,3397.9 L866.8,3399.9 L869.1,3401.9 L871.3,3403.9 L873.6,3405.9 L875.9,3407.9 L878.1,3409.9 L880.4,3411.9 L882.7,3413.9 L884.9,3415.9 L887.2,3417.9 L889.5,3419.9 L891.7,3421.9 L894.0,3423.9 L896.3,3425.9 L898.5,3427.9 L900.8,3429.9 L903.0,3431.9 L905.3,3434.0 L907.5,3436.0 L909.8,3438.0 L912.0,3440.0 L914.3,3442.1 L916.5,3444.1 L918.8,3446.1 L921.0,3448.1 L923.2,3450.2 L925.5,3452.2 L927.7,3454.3 L929.9,3456.3 L932.2,3458.3 L934.4,3460.4 L936.6,3462.4 L938.8,3464.5 L941.0,3466.6 L943.3,3468.6 L945.5,3470.7 L947.7,3472.7 L949.9,3474.8 L952.1,3476.9 L954.3,3479.0 L956.5,3481.0 L958.7,3483.1 L960.8,3485.2 L963.0,3487.3 L965.2,3489.4 L967.4,3491.5 L969.6,3493.6 L971.7,3495.7 L973.9,3497.8 L976.0,3499.9 L978.2,3502.0 L980.4,3504.1 L982.5,3506.3 L984.6,3508.4 L986.8,3510.5 L988.9,3512.7 L991.0,3514.8 L993.2,3516.9 L995.3,3519.1 L997.4,3521.2 L999.5,3523.4 L1001.6,3525.6 L1003.7,3527.7 L1005.8,3529.9 L1007.9,3532.1 L1010.0,3534.2 L1012.1,3536.4 L1014.1,3538.6 L1016.2,3540.8 L1018.3,3543.0 L1020.3,3545.2 L1022.4,3547.4 L1024.4,3549.6 L1026.4,3551.8 L1028.5,3554.0 L1030.5,3556.3 L1032.5,3558.5 L1034.5,3560.7 L1036.5,3563.0 L1038.5,3565.2 L1040.5,3567.5 L1042.5,3569.7 L1044.5,3572.0 L1044.5,3572.0 L1046.5,2936.0 L1046.5,2936.0 L1048.6,2938.1 L1050.8,2940.3 L1052.9,2942.4 L1055.0,2944.5 L1057.2,2946.6 L1059.3,2948.7 L1061.4,2950.9 L1063.6,2953.0 L1065.7,2955.1 L1067.8,2957.2 L1070.0,2959.4 L1072.1,2961.5 L1074.2,2963.6 L1076.4,2965.7 L1078.5,2967.8 L1080.7,2969.9 L1082.8,2972.1 L1084.9,2974.2 L1087.1,2976.3 L1089.2,2978.4 L1091.4,2980.5 L1093.5,2982.6 L1095.6,2984.7 L1097.8,2986.8 L1099.9,2989.0 L1102.1,2991.1 L1104.2,2993.2 L1106.4,2995.3 L1108.5,2997.4 L1110.7,2999.5 L1112.8,3001.6 L1115.0,3003.7 L1117.1,3005.8 L1119.3,3007.9 L1121.4,3010.0 L1123.6,3012.1 L1125.7,3014.2 L1127.9,3016.3 L1130.0,3018.4 L1132.2,3020.6 L1134.3,3022.7 L1136.5,3024.8 L1138.6,3026.9 L1140.8,3029.0 L1142.9,3031.1 L1145.1,3033.2 L1147.3,3035.2 L1149.4,3037.3 L1151.6,3039.4 L1153.7,3041.5 L1155.9,3043.6 L1158.1,3045.7 L1160.2,3047.8 L1162.4,3049.9 L1164.5,3052.0 L1166.7,3054.1 L1168.9,3056.2 L1171.0,3058.3 L1173.2,3060.4 L1175.4,3062.5 L1177.5,3064.6 L1179.7,3066.7 L1181.8,3068.7 L1184.0,3070.8 L1186.2,3072.9 L1188.3,3075.0 L1190.5,3077.1 L1192.7,3079.2 L1194.9,3081.3 L1197.0,3083.4 L1199.2,3085.4 L1201.4,3087.5 L1203.5,3089.6 L1205.7,3091.7 L1207.9,3093.8 L1210.0,3095.9 L1212.2,3098.0 L1214.4,3100.0 L1216.6,3102.1 L1218.7,3104.2 L1220.9,3106.3 L1223.1,3108.4 L1225.3,3110.4 L1227.4,3112.5 L1229.6,3114.6 L1231.8,3116.7 L1234.0,3118.8 L1236.1,3120.8 L1238.3,3122.9 L1240.5,3125.0 L1242.7,3127.1 L1244.9,3129.1 L1247.0,3131.2 L1249.2,3133.3 L1251.4,3135.4 L1253.6,3137.4 L1255.8,3139.5 L1257.9,3141.6 L1260.1,3143.7 L1262.3,3145.7 L1264.5,3147.8 L1266.7,3149.9 L1268.8,3152.0 L1271.0,3154.0 L1273.2,3156.1 L1275.4,3158.2 L1277.6,3160.2 L1279.8,3162.3 L1282.0,3164.4 L1284.1,3166.4 L1286.3,3168.5 L1288.5,3170.6 L1290.7,3172.7 L1292.9,3174.7 L1295.1,3176.8 L1297.3,3178.9 L1299.5,3180.9 L1301.6,3183.0 L1303.8,3185.1 L1306.0,3187.1 L1308.2,3189.2 L1310.4,3191.2 L1312.6,3193.3 L1314.8,3195.4 L1317.0,3197.4 L1319.2,3199.5 L1321.4,3201.6 L1323.6,3203.6 L1325.7,3205.7 L1327.9,3207.8 L1330.1,3209.8 L1332.3,3211.9 L1334.5,3213.9 L1336.7,3216.0 L1338.9,3218.1 L1341.1,3220.1 L1343.3,3222.2 L1345.5,3224.2 L1347.7,3226.3 L1349.9,3228.4 L1352.1,3230.4 L1354.3,3232.5 L1356.5,3234.5 L1358.7,3236.6 L1360.9,3238.6 L1363.1,3240.7 L1365.3,3242.8 L1367.5,3244.8 L1369.7,3246.9 L1371.9,3248.9 L1374.1,3251.0 L1376.3,3253.0 L1378.5,3255.1 L1380.7,3257.1 L1382.9,3259.2 L1385.1,3261.3 L1387.3,3263.3 L1389.5,3265.4 L1391.7,3267.4 L1393.9,3269.5 L1396.1,3271.5 L1398.3,3273.6 L1400.5,3275.6 L1402.7,3277.7 L1404.9,3279.7 L1407.1,3281.8 L1409.3,3283.8 L1411.5,3285.9 L1413.7,3287.9 L1415.9,3290.0 L1418.1,3292.0 L1420.3,3294.1 L1422.5,3296.1 L1424.7,3298.2 L1426.9,3300.2 L1429.1,3302.3 L1431.3,3304.3 L1433.5,3306.4 L1435.7,3308.4 L1437.9,3310.5 L1440.1,3312.5 L1442.4,3314.6 L1444.6,3316.6 L1446.8,3318.7 L1449.0,3320.7 L1451.2,3322.8 L1453.4,3324.8 L1455.6,3326.9 L1457.8,3328.9 L1460.0,3331.0 L1462.2,3333.0 L1464.4,3335.1 L1466.6,3337.1 L1468.8,3339.2 L1471.1,3341.2 L1473.3,3343.2 L1475.5,3345.3 L1477.7,3347.3 L1479.9,3349.4 L1482.1,3351.4 L1484.3,3353.5 L1486.5,3355.5 L1488.7,3357.6 L1490.9,3359.6 L1493.1,3361.6 L1495.4,3363.7 L1497.6,3365.7 L1499.8,3367.8 L1502.0,3369.8 L1504.2,3371.9 L1506.4,3373.9 L1508.6,3376.0 L1510.8,3378.0 L1513.0,3380.0 L1515.3,3382.1 L1517.5,3384.1 L1519.7,3386.2 L1521.9,3388.2 L1524.1,3390.3 L1526.3,3392.3 L1528.5,3394.3 L1530.7,3396.4 L1532.9,3398.4 L1535.2,3400.5 L1537.4,3402.5 L1539.6,3404.6 L1541.8,3406.6 L1544.0,3408.6 L1546.2,3410.7 L1548.4,3412.7 L1550.6,3414.8 L1552.9,3416.8 L1555.1,3418.9 L1557.3,3420.9 L1559.5,3422.9 L1561.7,3425.0 L1563.9,3427.0 L1566.1,3429.1 L1568.3,3431.1 L1570.6,3433.1 L1572.8,3435.2 L1575.0,3437.2 L1577.2,3439.3 L1579.4,3441.3 L1581.6,3443.3 L1583.8,3445.4 L1586.1,3447.4 L1588.3,3449.5 L1590.5,3451.5 L1592.7,3453.6 L1594.9,3455.6 L1597.1,3457.6 L1599.3,3459.7 L1601.5,3461.7 L1603.8,3463.8 L1606.0,3465.8 L1608.2,3467.8 L1610.4,3469.9 L1612.6,3471.9 L1614.8,3474.0 L1617.0,3476.0 L1619.3,3478.0 L1621.5,3480.1 L1623.7,3482.1 L1625.9,3484.2 L1628.1,3486.2 L1630.3,3488.3 L1632.5,3490.3 L1634.7,3492.3 L1637.0,3494.4 L1639.2,3496.4 L1641.4,3498.5 L1643.6,3500.5 L1645.8,3502.5 L1648.0,3504.6 L1650.2,3506.6 L1652.4,3508.7 L1654.7,3510.7 L1656.9,3512.8 L1659.1,3514.8 L1661.3,3516.8 L1663.5,3518.9 L1665.7,3520.9 L1667.9,3523.0 L1670.1,3525.0 L1672.4,3527.0 L1674.6,3529.1 L1676.8,3531.1 L1679.0,3533.2 L1681.2,3535.2 L1683.4,3537.3 L1685.6,3539.3 L1687.8,3541.3 L1690.1,3543.4 L1692.3,3545.4 L1694.5,3547.5 L1696.7,3549.5 L1698.9,3551.6 L1701.1,3553.6 L1703.3,3555.6 L1705.5,3557.7 L1707.7,3559.7 L1710.0,3561.8 L1712.2,3563.8 L1714.4,3565.9 L1716.6,3567.9 L1718.8,3570.0 L1721.0,3572.0 L1721.0,3572.0 L1723.9,2936.0 L1723.9,2936.0 L1726.0,2938.1 L1728.2,2940.3 L1730.3,2942.4 L1732.4,2944.5 L1734.6,2946.6 L1736.7,2948.7 L1738.9,2950.8 L1741.0,2953.0 L1743.2,2955.1 L1745.3,2957.2 L1747.5,2959.3 L1749.7,2961.4 L1751.8,2963.5 L1754.0,2965.6 L1756.2,2967.7 L1758.3,2969.7 L1760.5,2971.8 L1762.7,2973.9 L1764.9,2976.0 L1767.0,2978.1 L1769.2,2980.2 L1771.4,2982.2 L1773.6,2984.3 L1775.8,2986.4 L1778.0,2988.4 L1780.2,2990.5 L1782.4,2992.6 L1784.6,2994.6 L1786.8,2996.7 L1789.0,2998.8 L1791.2,3000.8 L1793.4,3002.9 L1795.6,3004.9 L1797.8,3007.0 L1800.0,3009.0 L1802.3,3011.1 L1804.5,3013.1 L1806.7,3015.2 L1808.9,3017.2 L1811.2,3019.2 L1813.4,3021.3 L1815.6,3023.3 L1817.8,3025.3 L1820.1,3027.4 L1822.3,3029.4 L1824.5,3031.4 L1826.8,3033.5 L1829.0,3035.5 L1831.2,3037.5 L1833.5,3039.5 L1835.7,3041.6 L1838.0,3043.6 L1840.2,3045.6 L1842.5,3047.6 L1844.7,3049.6 L1847.0,3051.6 L1849.2,3053.7 L1851.5,3055.7 L1853.7,3057.7 L1856.0,3059.7 L1858.2,3061.7 L1860.5,3063.7 L1862.8,3065.7 L1865.0,3067.7 L1867.3,3069.7 L1869.6,3071.7 L1871.8,3073.7 L1874.1,3075.7 L1876.3,3077.7 L1878.6,3079.7 L1880.9,3081.7 L1883.2,3083.7 L1885.4,3085.7 L1887.7,3087.7 L1890.0,3089.7 L1892.2,3091.7 L1894.5,3093.7 L1896.8,3095.7 L1899.1,3097.7 L1901.3,3099.7 L1903.6,3101.7 L1905.9,3103.6 L1908.2,3105.6 L1910.5,3107.6 L1912.7,3109.6 L1915.0,3111.6 L1917.3,3113.6 L1919.6,3115.6 L1921.9,3117.5 L1924.2,3119.5 L1926.4,3121.5 L1928.7,3123.5 L1931.0,3125.5 L1933.3,3127.5 L1935.6,3129.4 L1937.9,3131.4 L1940.2,3133.4 L1942.4,3135.4 L1944.7,3137.4 L1947.0,3139.4 L1949.3,3141.3 L1951.6,3143.3 L1953.9,3145.3 L1956.2,3147.3 L1958.5,3149.3 L1960.7,3151.2 L1963.0,3153.2 L1965.3,3155.2 L1967.6,3157.2 L1969.9,3159.2 L1972.2,3161.1 L1974.5,3163.1 L1976.8,3165.1 L1979.0,3167.1 L1981.3,3169.1 L1983.6,3171.1 L1985.9,3173.0 L1988.2,3175.0 L1990.5,3177.0 L1992.8,3179.0 L1995.1,3181.0 L1997.3,3183.0 L1999.6,3184.9 L2001.9,3186.9 L2004.2,3188.9 L2006.5,3190.9 L2008.8,3192.9 L2011.0,3194.9 L2013.3,3196.9 L2015.6,3198.8 L2017.9,3200.8 L2020.2,3202.8 L2022.5,3204.8 L2024.7,3206.8 L2027.0,3208.8 L2029.3,3210.8 L2031.6,3212.8 L2033.8,3214.8 L2036.1,3216.8 L2038.4,3218.8 L2040.7,3220.8 L2042.9,3222.8 L2045.2,3224.8 L2047.5,3226.8 L2049.8,3228.8 L2052.0,3230.8 L2054.3,3232.8 L2056.6,3234.8 L2058.8,3236.8 L2061.1,3238.8 L2063.4,3240.8 L2065.6,3242.8 L2067.9,3244.8 L2070.1,3246.8 L2072.4,3248.8 L2074.7,3250.9 L2076.9,3252.9 L2079.2,3254.9 L2081.4,3256.9 L2083.7,3258.9 L2085.9,3260.9 L2088.2,3263.0 L2090.4,3265.0 L2092.7,3267.0 L2094.9,3269.0 L2097.2,3271.1 L2099.4,3273.1 L2101.7,3275.1 L2103.9,3277.2 L2106.1,3279.2 L2108.4,3281.2 L2110.6,3283.3 L2112.8,3285.3 L2115.1,3287.4 L2117.3,3289.4 L2119.5,3291.4 L2121.7,3293.5 L2124.0,3295.5 L2126.2,3297.6 L2128.4,3299.7 L2130.6,3301.7 L2132.8,3303.8 L2135.1,3305.8 L2137.3,3307.9 L2139.5,3309.9 L2141.7,3312.0 L2143.9,3314.1 L2146.1,3316.2 L2148.3,3318.2 L2150.5,3320.3 L2152.7,3322.4 L2154.9,3324.5 L2157.1,3326.5 L2159.3,3328.6 L2161.5,3330.7 L2163.7,3332.8 L2165.8,3334.9 L2168.0,3337.0 L2170.2,3339.1 L2172.4,3341.2 L2174.5,3343.3 L2176.7,3345.4 L2178.9,3347.5 L2181.1,3349.6 L2183.2,3351.7 L2185.4,3353.8 L2187.5,3355.9 L2189.7,3358.1 L2191.8,3360.2 L2194.0,3362.3" fill="none" stroke="#0000ff" stroke-width="7" stroke-linejoin="round" clip-path="url(#c3)"/>
<path d="M318.0,3411.6 L321.1,3411.8 L324.2,3412.0 L327.2,3412.2 L330.3,3412.4 L333.3,3412.5 L336.4,3412.6 L339.4,3412.7 L342.4,3412.8 L345.4,3412.8 L348.4,3412.9 L351.4,3412.9 L354.3,3412.9 L357.3,3413.0 L360.3,3413.0 L363.3,3413.0 L366.2,3413.0 L369.2,3413.1 L372.1,3413.1 L375.1,3413.2 L378.1,3413.3 L381.0,3413.4 L384.0,3413.5 L386.9,3413.7 L389.9,3413.8 L392.9,3414.0 L395.9,3414.3 L398.8,3414.5 L401.8,3414.8 L404.8,3415.2 L407.8,3415.6 L410.9,3416.0 L413.9,3416.5 L416.9,3417.0 L420.0,3417.6 L423.0,3418.2 L426.1,3418.9 L429.1,3419.5 L432.2,3420.2 L435.3,3420.8 L438.4,3421.4 L441.4,3422.0 L444.5,3422.6 L447.6,3423.1 L450.6,3423.6 L453.7,3424.0 L456.7,3424.3 L459.8,3424.5 L462.8,3424.7 L465.8,3424.7 L468.8,3424.6 L471.8,3424.4 L474.7,3424.0 L477.7,3423.5 L480.6,3422.9 L483.5,3422.2 L486.3,3421.4 L489.1,3420.4 L491.9,3419.3 L494.6,3418.1 L497.3,3416.9 L499.9,3415.5 L502.5,3414.0 L505.0,3412.4 L507.5,3410.8 L509.9,3409.0 L512.2,3407.2 L514.5,3405.3 L516.7,3403.3 L518.8,3401.2 L520.8,3399.1 L522.8,3396.9 L524.6,3394.7 L526.4,3392.4 L528.1,3390.0 L529.7,3387.6 L531.2,3385.2 L532.6,3382.7 L534.0,3380.1 L535.3,3377.5 L536.5,3374.9 L537.7,3372.2 L538.8,3369.5 L539.9,3366.7 L540.9,3363.9 L541.9,3361.1 L542.8,3358.3 L543.8,3355.4 L544.6,3352.5 L545.5,3349.6 L546.3,3346.6 L547.2,3343.7 L548.0,3340.7 L548.8,3337.7 L549.6,3334.7 L550.4,3331.7 L551.2,3328.7 L552.0,3325.6 L552.8,3322.6 L553.7,3319.6 L554.5,3316.5 L555.4,3313.5 L556.3,3310.5 L557.3,3307.5 L558.3,3304.5 L559.3,3301.4 L560.4,3298.5 L561.6,3295.5 L562.8,3292.5 L564.0,3289.6 L565.3,3286.7 L566.7,3283.9 L568.1,3281.1 L569.6,3278.3 L571.1,3275.7 L572.7,3273.1 L574.4,3270.5 L576.1,3268.1 L577.9,3265.7 L579.8,3263.4 L581.7,3261.3 L583.7,3259.2 L585.8,3257.2 L587.9,3255.4 L590.2,3253.7 L592.5,3252.1 L594.8,3250.7 L597.3,3249.4 L599.8,3248.3 L602.4,3247.3 L605.1,3246.5 L607.9,3245.9 L610.7,3245.4 L613.6,3245.0 L616.5,3244.8 L619.5,3244.8 L622.5,3244.9 L625.6,3245.1 L628.6,3245.4 L631.7,3245.8 L634.8,3246.3 L637.8,3246.9 L640.8,3247.6 L643.8,3248.3 L646.7,3249.1 L649.7,3250.0 L652.6,3251.0 L655.4,3252.0 L658.2,3253.1 L661.1,3254.2 L663.8,3255.4 L666.6,3256.7 L669.3,3258.0 L672.0,3259.3 L674.7,3260.7 L677.4,3262.1 L680.1,3263.5 L682.7,3265.0 L685.3,3266.5 L688.0,3268.1 L690.6,3269.6 L693.2,3271.2 L695.7,3272.8 L698.3,3274.4 L700.9,3276.0 L703.4,3277.7 L706.0,3279.3 L708.6,3280.9 L711.1,3282.6 L713.7,3284.2 L716.2,3285.8 L718.8,3287.5 L721.3,3289.1 L723.9,3290.7 L726.4,3292.4 L729.0,3294.0 L731.5,3295.6 L734.1,3297.2 L736.6,3298.8 L739.2,3300.4 L741.7,3302.1 L744.3,3303.7 L746.8,3305.3 L749.3,3306.9 L751.9,3308.5 L754.4,3310.1 L757.0,3311.7 L759.5,3313.4 L762.0,3315.0 L764.6,3316.6 L767.1,3318.2 L769.6,3319.8 L772.2,3321.4 L774.7,3323.1 L777.2,3324.7 L779.7,3326.3 L782.3,3327.9 L784.8,3329.6 L787.3,3331.2 L789.8,3332.8 L792.3,3334.5 L794.9,3336.1 L797.4,3337.8 L799.9,3339.4 L802.4,3341.0 L804.9,3342.7 L807.4,3344.4 L809.9,3346.0 L812.4,3347.7 L814.9,3349.4 L817.4,3351.0 L819.8,3352.7 L822.3,3354.4 L824.8,3356.1 L827.3,3357.8 L829.8,3359.5 L832.2,3361.2 L834.7,3362.9 L837.2,3364.6 L839.6,3366.4 L842.1,3368.1 L844.6,3369.8 L847.0,3371.6 L849.5,3373.3 L851.9,3375.1 L854.3,3376.9 L856.8,3378.6 L859.2,3380.4 L861.7,3382.2 L864.1,3384.0 L866.5,3385.8 L868.9,3387.6 L871.3,3389.4 L873.8,3391.2 L876.2,3393.0 L878.6,3394.8 L881.0,3396.6 L883.4,3398.5 L885.8,3400.3 L888.2,3402.2 L890.5,3404.0 L892.9,3405.9 L895.3,3407.7 L897.7,3409.6 L900.0,3411.5 L902.4,3413.4 L904.8,3415.3 L907.1,3417.2 L909.5,3419.1 L911.8,3421.0 L914.1,3422.9 L916.5,3424.8 L918.8,3426.7 L921.1,3428.7 L923.4,3430.6 L925.8,3432.5 L928.1,3434.5 L930.4,3436.4 L932.7,3438.4 L935.0,3440.4 L937.2,3442.3 L939.5,3444.3 L941.8,3446.3 L944.1,3448.3 L946.3,3450.3 L948.6,3452.3 L950.8,3454.3 L953.1,3456.3 L955.3,3458.4 L957.6,3460.4 L959.8,3462.4 L962.0,3464.5 L964.2,3466.5 L966.5,3468.6 L968.7,3470.6 L970.9,3472.7 L973.1,3474.8 L975.2,3476.8 L977.4,3478.9 L979.6,3481.0 L981.8,3483.1 L983.9,3485.2 L986.1,3487.3 L988.2,3489.4 L990.4,3491.5 L992.5,3493.7 L994.6,3495.8 L996.7,3497.9 L998.9,3500.1 L1001.0,3502.2 L1003.1,3504.4 L1005.2,3506.6 L1007.2,3508.7 L1009.3,3510.9 L1011.4,3513.1 L1013.5,3515.3 L1015.5,3517.5 L1017.6,3519.7 L1019.6,3521.9 L1021.6,3524.1 L1023.7,3526.3 L1025.7,3528.5 L1027.7,3530.8 L1029.7,3533.0 L1031.7,3535.3 L1033.7,3537.5 L1035.7,3539.8 L1037.6,3542.0 L1039.6,3544.3 L1041.5,3546.6 L1043.5,3548.8 L1045.4,3551.1 L1047.4,3553.4 L1049.3,3555.7 L1051.2,3558.0 L1053.1,3560.3 L1055.0,3562.7 L1056.9,3565.0 L1058.8,3567.3 L1060.6,3569.7 L1062.5,3572.0 L1062.5,3572.0 L1066.0,2936.0 L1066.0,2936.0 L1068.0,2938.2 L1070.1,2940.4 L1072.1,2942.7 L1074.1,2944.9 L1076.1,2947.1 L1078.1,2949.4 L1080.1,2951.6 L1082.1,2953.9 L1084.1,2956.1 L1086.1,2958.4 L1088.1,2960.6 L1090.1,2962.9 L1092.1,2965.1 L1094.1,2967.4 L1096.0,2969.7 L1098.0,2972.0 L1100.0,2974.2 L1102.0,2976.5 L1103.9,2978.8 L1105.9,2981.1 L1107.9,2983.3 L1109.8,2985.6 L1111.8,2987.9 L1113.8,2990.2 L1115.7,2992.5 L1117.7,2994.8 L1119.6,2997.1 L1121.6,2999.4 L1123.5,3001.7 L1125.5,3004.0 L1127.4,3006.3 L1129.4,3008.6 L1131.3,3010.9 L1133.3,3013.2 L1135.2,3015.5 L1137.2,3017.8 L1139.1,3020.1 L1141.1,3022.4 L1143.0,3024.7 L1145.0,3027.0 L1146.9,3029.3 L1148.8,3031.6 L1150.8,3033.9 L1152.7,3036.2 L1154.7,3038.5 L1156.6,3040.8 L1158.6,3043.1 L1160.5,3045.4 L1162.5,3047.7 L1164.4,3050.0 L1166.4,3052.3 L1168.3,3054.6 L1170.3,3056.9 L1172.2,3059.2 L1174.2,3061.5 L1176.1,3063.8 L1178.1,3066.1 L1180.0,3068.4 L1182.0,3070.7 L1184.0,3073.0 L1185.9,3075.3 L1187.9,3077.5 L1189.9,3079.8 L1191.8,3082.1 L1193.8,3084.4 L1195.8,3086.7 L1197.8,3089.0 L1199.7,3091.2 L1201.7,3093.5 L1203.7,3095.8 L1205.7,3098.0 L1207.7,3100.3 L1209.7,3102.6 L1211.6,3104.8 L1213.6,3107.1 L1215.6,3109.4 L1217.6,3111.6 L1219.6,3113.9 L1221.6,3116.1 L1223.6,3118.4 L1225.6,3120.6 L1227.7,3122.9 L1229.7,3125.1 L1231.7,3127.3 L1233.7,3129.6 L1235.7,3131.8 L1237.7,3134.0 L1239.8,3136.3 L1241.8,3138.5 L1243.8,3140.7 L1245.9,3142.9 L1247.9,3145.2 L1249.9,3147.4 L1252.0,3149.6 L1254.0,3151.8 L1256.1,3154.0 L1258.1,3156.2 L1260.2,3158.4 L1262.2,3160.6 L1264.3,3162.8 L1266.4,3165.0 L1268.4,3167.2 L1270.5,3169.4 L1272.6,3171.6 L1274.6,3173.7 L1276.7,3175.9 L1278.8,3178.1 L1280.9,3180.3 L1283.0,3182.4 L1285.1,3184.6 L1287.2,3186.8 L1289.3,3188.9 L1291.4,3191.1 L1293.5,3193.2 L1295.6,3195.4 L1297.7,3197.5 L1299.8,3199.7 L1301.9,3201.8 L1304.0,3203.9 L1306.2,3206.1 L1308.3,3208.2 L1310.4,3210.3 L1312.5,3212.5 L1314.7,3214.6 L1316.8,3216.7 L1319.0,3218.8 L1321.1,3220.9 L1323.3,3223.0 L1325.4,3225.1 L1327.6,3227.2 L1329.8,3229.3 L1331.9,3231.4 L1334.1,3233.5 L1336.3,3235.6 L1338.4,3237.6 L1340.6,3239.7 L1342.8,3241.8 L1345.0,3243.8 L1347.2,3245.9 L1349.4,3248.0 L1351.6,3250.0 L1353.8,3252.1 L1356.0,3254.1 L1358.2,3256.2 L1360.4,3258.2 L1362.7,3260.2 L1364.9,3262.3 L1367.1,3264.3 L1369.3,3266.3 L1371.6,3268.4 L1373.8,3270.4 L1376.0,3272.4 L1378.3,3274.4 L1380.5,3276.4 L1382.8,3278.4 L1385.0,3280.4 L1387.3,3282.4 L1389.5,3284.4 L1391.8,3286.4 L1394.0,3288.4 L1396.3,3290.4 L1398.6,3292.4 L1400.9,3294.4 L1403.1,3296.4 L1405.4,3298.4 L1407.7,3300.3 L1410.0,3302.3 L1412.2,3304.3 L1414.5,3306.3 L1416.8,3308.2 L1419.1,3310.2 L1421.4,3312.2 L1423.7,3314.1 L1426.0,3316.1 L1428.3,3318.0 L1430.6,3320.0 L1432.9,3321.9 L1435.2,3323.9 L1437.5,3325.8 L1439.8,3327.8 L1442.1,3329.7 L1444.4,3331.7 L1446.7,3333.6 L1449.1,3335.6 L1451.4,3337.5 L1453.7,3339.4 L1456.0,3341.4 L1458.3,3343.3 L1460.7,3345.2 L1463.0,3347.1 L1465.3,3349.1 L1467.7,3351.0 L1470.0,3352.9 L1472.3,3354.8 L1474.7,3356.8 L1477.0,3358.7 L1479.3,3360.6 L1481.7,3362.5 L1484.0,3364.4 L1486.3,3366.3 L1488.7,3368.3 L1491.0,3370.2 L1493.4,3372.1 L1495.7,3374.0 L1498.1,3375.9 L1500.4,3377.8 L1502.8,3379.7 L1505.1,3381.6 L1507.5,3383.5 L1509.8,3385.4 L1512.2,3387.3 L1514.5,3389.2 L1516.9,3391.1 L1519.2,3393.0 L1521.6,3394.9 L1523.9,3396.8 L1526.3,3398.7 L1528.6,3400.6 L1531.0,3402.5 L1533.4,3404.4 L1535.7,3406.3 L1538.1,3408.2 L1540.4,3410.1 L1542.8,3412.0 L1545.1,3413.9 L1547.5,3415.8 L1549.9,3417.7 L1552.2,3419.6 L1554.6,3421.5 L1556.9,3423.4 L1559.3,3425.2 L1561.7,3427.1 L1564.0,3429.0 L1566.4,3430.9 L1568.7,3432.8 L1571.1,3434.7 L1573.4,3436.6 L1575.8,3438.5 L1578.2,3440.4 L1580.5,3442.3 L1582.9,3444.2 L1585.2,3446.1 L1587.6,3448.0 L1589.9,3449.9 L1592.3,3451.8 L1594.7,3453.7 L1597.0,3455.6 L1599.4,3457.5 L1601.7,3459.4 L1604.1,3461.3 L1606.4,3463.2 L1608.8,3465.1 L1611.1,3467.0 L1613.5,3468.9 L1615.8,3470.8 L1618.1,3472.7 L1620.5,3474.6 L1622.8,3476.5 L1625.2,3478.4 L1627.5,3480.3 L1629.9,3482.2 L1632.2,3484.1 L1634.5,3486.1 L1636.9,3488.0 L1639.2,3489.9 L1641.5,3491.8 L1643.9,3493.7 L1646.2,3495.6 L1648.5,3497.6 L1650.9,3499.5 L1653.2,3501.4 L1655.5,3503.3 L1657.8,3505.3 L1660.1,3507.2 L1662.5,3509.1 L1664.8,3511.0 L1667.1,3513.0 L1669.4,3514.9 L1671.7,3516.9 L1674.0,3518.8 L1676.3,3520.7 L1678.6,3522.7 L1680.9,3524.6 L1683.3,3526.6 L1685.5,3528.5 L1687.8,3530.5 L1690.1,3532.4 L1692.4,3534.4 L1694.7,3536.3 L1697.0,3538.3 L1699.3,3540.3 L1701.6,3542.2 L1703.9,3544.2 L1706.1,3546.2 L1708.4,3548.1 L1710.7,3550.1 L1713.0,3552.1 L1715.2,3554.1 L1717.5,3556.0 L1719.7,3558.0 L1722.0,3560.0 L1724.3,3562.0 L1726.5,3564.0 L1728.8,3566.0 L1731.0,3568.0 L1733.3,3570.0 L1735.5,3572.0 L1735.5,3572.0 L1737.6,2936.0 L1737.6,2936.0 L1740.0,2937.9 L1742.4,2939.8 L1744.7,2941.6 L1747.1,2943.5 L1749.5,2945.4 L1751.8,2947.3 L1754.2,2949.2 L1756.5,2951.1 L1758.9,2953.0 L1761.2,2954.9 L1763.6,2956.8 L1765.9,2958.8 L1768.3,2960.7 L1770.6,2962.6 L1772.9,2964.5 L1775.3,2966.5 L1777.6,2968.4 L1779.9,2970.3 L1782.2,2972.3 L1784.6,2974.2 L1786.9,2976.2 L1789.2,2978.1 L1791.5,2980.1 L1793.8,2982.0 L1796.1,2984.0 L1798.4,2985.9 L1800.7,2987.9 L1803.0,2989.9 L1805.3,2991.8 L1807.6,2993.8 L1809.8,2995.8 L1812.1,2997.8 L1814.4,2999.8 L1816.7,3001.8 L1818.9,3003.7 L1821.2,3005.7 L1823.5,3007.7 L1825.7,3009.7 L1828.0,3011.7 L1830.3,3013.7 L1832.5,3015.7 L1834.8,3017.7 L1837.0,3019.8 L1839.3,3021.8 L1841.5,3023.8 L1843.8,3025.8 L1846.0,3027.8 L1848.2,3029.9 L1850.5,3031.9 L1852.7,3033.9 L1854.9,3036.0 L1857.2,3038.0 L1859.4,3040.0 L1861.6,3042.1 L1863.8,3044.1 L1866.1,3046.2 L1868.3,3048.2 L1870.5,3050.3 L1872.7,3052.3 L1874.9,3054.4 L1877.1,3056.4 L1879.3,3058.5 L1881.5,3060.6 L1883.7,3062.6 L1885.9,3064.7 L1888.1,3066.8 L1890.3,3068.8 L1892.5,3070.9 L1894.7,3073.0 L1896.9,3075.1 L1899.1,3077.1 L1901.2,3079.2 L1903.4,3081.3 L1905.6,3083.4 L1907.8,3085.5 L1910.0,3087.6 L1912.1,3089.7 L1914.3,3091.8 L1916.5,3093.9 L1918.6,3096.0 L1920.8,3098.1 L1923.0,3100.2 L1925.1,3102.3 L1927.3,3104.4 L1929.5,3106.5 L1931.6,3108.6 L1933.8,3110.7 L1935.9,3112.8 L1938.1,3114.9 L1940.2,3117.1 L1942.4,3119.2 L1944.5,3121.3 L1946.7,3123.4 L1948.8,3125.5 L1951.0,3127.7 L1953.1,3129.8 L1955.2,3131.9 L1957.4,3134.1 L1959.5,3136.2 L1961.7,3138.3 L1963.8,3140.5 L1965.9,3142.6 L1968.1,3144.7 L1970.2,3146.9 L1972.3,3149.0 L1974.5,3151.1 L1976.6,3153.3 L1978.7,3155.4 L1980.8,3157.6 L1983.0,3159.7 L1985.1,3161.9 L1987.2,3164.0 L1989.3,3166.2 L1991.4,3168.3 L1993.6,3170.5 L1995.7,3172.6 L1997.8,3174.8 L1999.9,3177.0 L2002.0,3179.1 L2004.1,3181.3 L2006.3,3183.4 L2008.4,3185.6 L2010.5,3187.8 L2012.6,3189.9 L2014.7,3192.1 L2016.8,3194.2 L2018.9,3196.4 L2021.0,3198.6 L2023.1,3200.7 L2025.2,3202.9 L2027.3,3205.1 L2029.4,3207.3 L2031.5,3209.4 L2033.6,3211.6 L2035.7,3213.8 L2037.8,3215.9 L2039.9,3218.1 L2042.0,3220.3 L2044.1,3222.5 L2046.2,3224.6 L2048.3,3226.8 L2050.4,3229.0 L2052.5,3231.2 L2054.6,3233.4 L2056.7,3235.5 L2058.8,3237.7 L2060.9,3239.9 L2063.0,3242.1 L2065.1,3244.3 L2067.2,3246.4 L2069.3,3248.6 L2071.4,3250.8 L2073.5,3253.0 L2075.6,3255.2 L2077.7,3257.3 L2079.8,3259.5 L2081.9,3261.7 L2084.0,3263.9 L2086.1,3266.1 L2088.1,3268.3 L2090.2,3270.4 L2092.3,3272.6 L2094.4,3274.8 L2096.5,3277.0 L2098.6,3279.2 L2100.7,3281.4 L2102.8,3283.5 L2104.9,3285.7 L2107.0,3287.9 L2109.1,3290.1 L2111.2,3292.3 L2113.3,3294.5 L2115.4,3296.7 L2117.5,3298.8 L2119.6,3301.0 L2121.6,3303.2 L2123.7,3305.4 L2125.8,3307.6 L2127.9,3309.8 L2130.0,3311.9 L2132.1,3314.1 L2134.2,3316.3 L2136.3,3318.5 L2138.4,3320.7 L2140.5,3322.8 L2142.6,3325.0 L2144.7,3327.2 L2146.8,3329.4 L2148.9,3331.6 L2151.0,3333.7 L2153.1,3335.9 L2155.2,3338.1 L2157.3,3340.3 L2159.4,3342.5 L2161.5,3344.6 L2163.6,3346.8 L2165.7,3349.0 L2167.9,3351.2 L2170.0,3353.3 L2172.1,3355.5 L2174.2,3357.7 L2176.3,3359.9 L2178.4,3362.0 L2180.5,3364.2 L2182.6,3366.4 L2184.7,3368.5 L2186.9,3370.7 L2189.0,3372.9 L2191.1,3375.0 L2193.2,3377.2" fill="none" stroke="#ff0000" stroke-width="7" stroke-linejoin="round" clip-path="url(#c3)"/>
<text transform="translate(1008.24,336.00) scale(0.8347,1)" font-size="127.22" style="font-family:'Liberation Serif', 'Times New Roman', serif;font-style:italic;">E</text>
<text transform="translate(1077.45,283.40) scale(0.8909,1)" font-size="76.12" style="font-family:'Liberation Serif', 'Times New Roman', serif;font-style:italic;">ref</text>
<text transform="translate(1067.63,373.00) scale(0.9765,1)" font-size="73.01" style="font-family:'Liberation Serif', 'Times New Roman', serif;">1</text>
<text transform="translate(1104.86,372.24) scale(1.0460,1)" font-size="68.38" style="font-family:'Liberation Serif', 'Times New Roman', serif;font-style:italic;">ϕ</text>
<line x1="1064" y1="376" x2="1107.8" y2="449.5" stroke="#000" stroke-width="4.6"/>
<text transform="translate(395.00,544.50) scale(0.8209,1)" font-size="103.85" style="font-family:'Liberation Serif', 'Times New Roman', serif;font-style:italic;">E</text>
<text transform="translate(451.77,500.00) scale(0.9482,1)" font-size="58.23" style="font-family:'Liberation Serif', 'Times New Roman', serif;font-style:italic;">total</text>
<text transform="translate(444.26,575.60) scale(0.9376,1)" font-size="59.99" style="font-family:'Liberation Serif', 'Times New Roman', serif;">1</text>
<text transform="translate(474.65,575.03) scale(1.0452,1)" font-size="56.25" style="font-family:'Liberation Serif', 'Times New Roman', serif;font-style:italic;">ϕ</text>
<line x1="489.6" y1="355.6" x2="447.8" y2="464.5" stroke="#000" stroke-width="4.6"/>
<text transform="translate(882.91,656.40) scale(0.8432,1)" font-size="112.25" style="font-family:'Liberation Serif', 'Times New Roman', serif;font-style:italic;">E</text>
<text transform="translate(944.66,608.04) scale(0.9492,1)" font-size="64.20" style="font-family:'Liberation Serif', 'Times New Roman', serif;font-style:italic;">direct</text>
<text transform="translate(937.26,688.80) scale(0.9011,1)" font-size="66.20" style="font-family:'Liberation Serif', 'Times New Roman', serif;">1</text>
<text transform="translate(970.14,688.62) scale(1.0330,1)" font-size="61.43" style="font-family:'Liberation Serif', 'Times New Roman', serif;font-style:italic;">ϕ</text>
<line x1="847.9" y1="506.1" x2="889.9" y2="576.4" stroke="#000" stroke-width="4.6"/>
<text transform="translate(914.98,1237.00) scale(0.8082,1)" font-size="103.85" style="font-family:'Liberation Serif', 'Times New Roman', serif;font-style:italic;">E</text>
<text transform="translate(970.06,1191.10) scale(0.9416,1)" font-size="58.94" style="font-family:'Liberation Serif', 'Times New Roman', serif;font-style:italic;">total</text>
<text transform="translate(963.53,1267.20) scale(1.0269,1)" font-size="57.26" style="font-family:'Liberation Serif', 'Times New Roman', serif;">1</text>
<text transform="translate(993.62,1266.53) scale(1.0716,1)" font-size="56.25" style="font-family:'Liberation Serif', 'Times New Roman', serif;font-style:italic;">ϕ</text>
<line x1="900.8" y1="1210.6" x2="851.7" y2="1286" stroke="#000" stroke-width="4.6"/>
<text transform="translate(601.55,1550.70) scale(0.8635,1)" font-size="123.55" style="font-family:'Liberation Serif', 'Times New Roman', serif;font-style:italic;">E</text>
<text transform="translate(670.23,1497.71) scale(0.9213,1)" font-size="74.16" style="font-family:'Liberation Serif', 'Times New Roman', serif;font-style:italic;">ref</text>
<text transform="translate(662.16,1588.00) scale(0.9655,1)" font-size="71.20" style="font-family:'Liberation Serif', 'Times New Roman', serif;">1</text>
<text transform="translate(697.27,1586.56) scale(1.1108,1)" font-size="67.83" style="font-family:'Liberation Serif', 'Times New Roman', serif;font-style:italic;">ϕ</text>
<text transform="translate(1780.06,1225.20) scale(0.8169,1)" font-size="110.42" style="font-family:'Liberation Serif', 'Times New Roman', serif;font-style:italic;">E</text>
<text transform="translate(1839.64,1175.65) scale(0.9629,1)" font-size="63.77" style="font-family:'Liberation Serif', 'Times New Roman', serif;font-style:italic;">direct</text>
<text transform="translate(1832.73,1256.40) scale(0.8504,1)" font-size="65.14" style="font-family:'Liberation Serif', 'Times New Roman', serif;">1</text>
<text transform="translate(1865.38,1256.79) scale(1.0589,1)" font-size="62.53" style="font-family:'Liberation Serif', 'Times New Roman', serif;font-style:italic;">ϕ</text>
<text transform="translate(375.82,2439.60) scale(0.8255,1)" font-size="105.07" style="font-family:'Liberation Serif', 'Times New Roman', serif;font-style:italic;">E</text>
<text transform="translate(433.59,2395.18) scale(0.9476,1)" font-size="60.36" style="font-family:'Liberation Serif', 'Times New Roman', serif;font-style:italic;">total</text>
<text transform="translate(426.18,2469.90) scale(0.9847,1)" font-size="60.29" style="font-family:'Liberation Serif', 'Times New Roman', serif;">1</text>
<text transform="translate(457.72,2468.91) scale(1.0575,1)" font-size="56.80" style="font-family:'Liberation Serif', 'Times New Roman', serif;font-style:italic;">ϕ</text>
<line x1="469.8" y1="2242.8" x2="430.1" y2="2352.6" stroke="#000" stroke-width="4.6"/>
<text transform="translate(897.87,2195.80) scale(0.8429,1)" font-size="128.13" style="font-family:'Liberation Serif', 'Times New Roman', serif;font-style:italic;">E</text>
<text transform="translate(968.27,2142.11) scale(0.9060,1)" font-size="76.99" style="font-family:'Liberation Serif', 'Times New Roman', serif;font-style:italic;">ref</text>
<text transform="translate(959.93,2232.60) scale(1.0097,1)" font-size="72.86" style="font-family:'Liberation Serif', 'Times New Roman', serif;">1</text>
<text transform="translate(997.70,2232.79) scale(1.0576,1)" font-size="70.03" style="font-family:'Liberation Serif', 'Times New Roman', serif;font-style:italic;">ϕ</text>
<line x1="891" y1="2161.9" x2="806" y2="2240.2" stroke="#000" stroke-width="4.6"/>
<text transform="translate(1703.92,2587.70) scale(0.8387,1)" font-size="114.24" style="font-family:'Liberation Serif', 'Times New Roman', serif;font-style:italic;">E</text>
<text transform="translate(1766.64,2538.95) scale(0.9659,1)" font-size="63.49" style="font-family:'Liberation Serif', 'Times New Roman', serif;font-style:italic;">direct</text>
<text transform="translate(1759.76,2621.00) scale(0.8991,1)" font-size="66.35" style="font-family:'Liberation Serif', 'Times New Roman', serif;">1</text>
<text transform="translate(1793.35,2620.65) scale(1.0206,1)" font-size="61.76" style="font-family:'Liberation Serif', 'Times New Roman', serif;font-style:italic;">ϕ</text>
<text transform="translate(769.51,3197.70) scale(0.8239,1)" font-size="105.07" style="font-family:'Liberation Serif', 'Times New Roman', serif;font-style:italic;">E</text>
<text transform="translate(826.83,3152.50) scale(0.9620,1)" font-size="58.51" style="font-family:'Liberation Serif', 'Times New Roman', serif;font-style:italic;">total</text>
<text transform="translate(818.68,3227.50) scale(0.9566,1)" font-size="59.68" style="font-family:'Liberation Serif', 'Times New Roman', serif;">1</text>
<text transform="translate(851.28,3227.66) scale(1.0087,1)" font-size="57.02" style="font-family:'Liberation Serif', 'Times New Roman', serif;font-style:italic;">ϕ</text>
<line x1="757.1" y1="3161" x2="693.1" y2="3216.1" stroke="#000" stroke-width="4.6"/>
<text transform="translate(518.15,3479.00) scale(0.8316,1)" font-size="128.29" style="font-family:'Liberation Serif', 'Times New Roman', serif;font-style:italic;">E</text>
<text transform="translate(588.48,3423.52) scale(0.8988,1)" font-size="77.43" style="font-family:'Liberation Serif', 'Times New Roman', serif;font-style:italic;">ref</text>
<text transform="translate(580.46,3516.20) scale(0.9357,1)" font-size="73.47" style="font-family:'Liberation Serif', 'Times New Roman', serif;">1</text>
<text transform="translate(617.07,3515.98) scale(1.0857,1)" font-size="69.59" style="font-family:'Liberation Serif', 'Times New Roman', serif;font-style:italic;">ϕ</text>
<text transform="translate(1432.21,3060.20) scale(0.8421,1)" font-size="112.40" style="font-family:'Liberation Serif', 'Times New Roman', serif;font-style:italic;">E</text>
<text transform="translate(1494.16,3010.44) scale(0.9471,1)" font-size="64.34" style="font-family:'Liberation Serif', 'Times New Roman', serif;font-style:italic;">direct</text>
<text transform="translate(1486.66,3092.30) scale(1.0212,1)" font-size="62.86" style="font-family:'Liberation Serif', 'Times New Roman', serif;">1</text>
<text transform="translate(1519.13,3092.66) scale(1.0624,1)" font-size="60.33" style="font-family:'Liberation Serif', 'Times New Roman', serif;font-style:italic;">ϕ</text>
<text transform="translate(1196.80,1945.50) scale(0.9261,1)" font-size="76.10" style="font-family:'Liberation Serif', 'Times New Roman', serif;">(</text>
<text transform="translate(1221.54,1944.46) scale(0.9623,1)" font-size="75.99" style="font-family:'Liberation Serif', 'Times New Roman', serif;font-weight:bold;">a</text>
<text transform="translate(1259.63,1945.50) scale(0.9261,1)" font-size="76.10" style="font-family:'Liberation Serif', 'Times New Roman', serif;">)</text>
<text transform="translate(1192.02,3870.80) scale(0.9210,1)" font-size="76.10" style="font-family:'Liberation Serif', 'Times New Roman', serif;">(</text>
<text transform="translate(1216.07,3870.43) scale(1.0297,1)" font-size="78.59" style="font-family:'Liberation Serif', 'Times New Roman', serif;font-weight:bold;">b</text>
<text transform="translate(1262.55,3870.80) scale(0.9159,1)" font-size="76.10" style="font-family:'Liberation Serif', 'Times New Roman', serif;">)</text>
</svg></body></html>
